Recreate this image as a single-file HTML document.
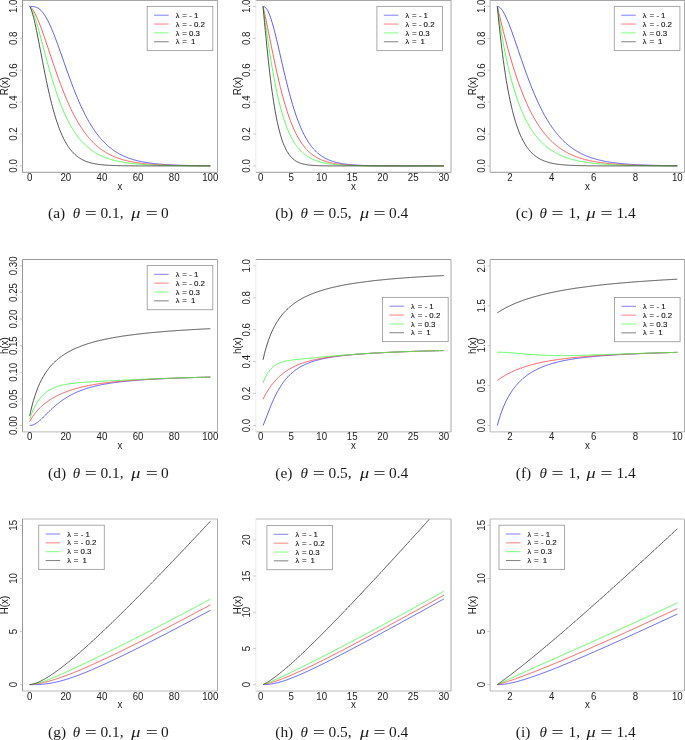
<!DOCTYPE html>
<html><head><meta charset="utf-8"><style>
html,body{margin:0;padding:0;background:#fff;}
body{width:685px;height:740px;overflow:hidden;}
svg{display:block;}
.t{font-family:"Liberation Sans",Arial,sans-serif;font-size:9.7px;fill:#222;}
.lg{font-family:"Liberation Sans",Arial,sans-serif;font-size:7.9px;fill:#111;stroke:#111;stroke-width:0.12px;}
.cap{font-family:"Liberation Serif","Times New Roman",serif;font-size:14px;fill:#1a1a1a;}
</style></head><body>
<svg width="685" height="740" viewBox="0 0 685 740">
<rect width="685" height="740" fill="#fff"/>
<clipPath id="c00"><rect x="22.5" y="0.0" width="195.00" height="172.30"/></clipPath>
<g clip-path="url(#c00)" fill="none" stroke-width="0.9" stroke-linejoin="round">
<polyline points="29.7,6.4 30.5,6.4 31.2,6.4 32.0,6.4 32.7,6.5 33.5,6.6 34.3,6.7 35.0,6.9 35.8,7.1 36.5,7.4 37.3,7.7 38.0,8.1 38.8,8.6 39.5,9.2 40.3,9.8 41.1,10.5 41.8,11.3 42.6,12.2 43.3,13.2 44.1,14.2 44.8,15.4 45.6,16.6 46.3,17.9 47.1,19.2 47.9,20.7 48.6,22.2 49.4,23.7 50.1,25.4 50.9,27.1 51.6,28.8 52.4,30.6 53.1,32.5 53.9,34.4 54.7,36.3 55.4,38.3 56.2,40.3 56.9,42.3 57.7,44.4 58.4,46.5 59.2,48.6 59.9,50.7 60.7,52.8 61.5,55.0 62.2,57.1 63.0,59.3 63.7,61.4 64.5,63.6 65.2,65.7 66.0,67.9 66.7,70.0 67.5,72.1 68.3,74.2 69.0,76.3 69.8,78.3 70.5,80.4 71.3,82.4 72.0,84.4 72.8,86.4 73.5,88.4 74.3,90.3 75.0,92.2 75.8,94.1 76.6,95.9 77.3,97.7 78.1,99.5 78.8,101.3 79.6,103.0 80.3,104.7 81.1,106.3 81.8,108.0 82.6,109.6 83.4,111.1 84.1,112.7 84.9,114.2 85.6,115.6 86.4,117.1 87.1,118.5 87.9,119.8 88.6,121.2 89.4,122.5 90.2,123.8 90.9,125.0 91.7,126.2 92.4,127.4 93.2,128.6 93.9,129.7 94.7,130.8 95.4,131.9 96.2,132.9 97.0,133.9 97.7,134.9 98.5,135.9 99.2,136.8 100.0,137.7 100.7,138.6 101.5,139.5 102.2,140.3 103.0,141.1 103.8,141.9 104.5,142.7 105.3,143.4 106.0,144.1 106.8,144.8 107.5,145.5 108.3,146.2 109.0,146.8 109.8,147.5 110.6,148.1 111.3,148.6 112.1,149.2 112.8,149.8 113.6,150.3 114.3,150.8 115.1,151.3 115.8,151.8 116.6,152.3 117.4,152.7 118.1,153.2 118.9,153.6 119.6,154.0 120.4,154.4 121.1,154.8 121.9,155.2 122.6,155.5 123.4,155.9 124.2,156.2 124.9,156.6 125.7,156.9 126.4,157.2 127.2,157.5 127.9,157.8 128.7,158.1 129.4,158.3 130.2,158.6 131.0,158.9 131.7,159.1 132.5,159.3 133.2,159.6 134.0,159.8 134.7,160.0 135.5,160.2 136.2,160.4 137.0,160.6 137.8,160.8 138.5,161.0 139.3,161.1 140.0,161.3 140.8,161.5 141.5,161.6 142.3,161.8 143.0,161.9 143.8,162.1 144.6,162.2 145.3,162.3 146.1,162.5 146.8,162.6 147.6,162.7 148.3,162.8 149.1,162.9 149.8,163.0 150.6,163.1 151.4,163.2 152.1,163.3 152.9,163.4 153.6,163.5 154.4,163.6 155.1,163.7 155.9,163.8 156.6,163.8 157.4,163.9 158.2,164.0 158.9,164.1 159.7,164.1 160.4,164.2 161.2,164.2 161.9,164.3 162.7,164.4 163.4,164.4 164.2,164.5 165.0,164.5 165.7,164.6 166.5,164.6 167.2,164.7 168.0,164.7 168.7,164.8 169.5,164.8 170.2,164.8 171.0,164.9 171.7,164.9 172.5,165.0 173.3,165.0 174.0,165.0 174.8,165.1 175.5,165.1 176.3,165.1 177.0,165.2 177.8,165.2 178.5,165.2 179.3,165.2 180.1,165.3 180.8,165.3 181.6,165.3 182.3,165.3 183.1,165.3 183.8,165.4 184.6,165.4 185.3,165.4 186.1,165.4 186.9,165.4 187.6,165.5 188.4,165.5 189.1,165.5 189.9,165.5 190.6,165.5 191.4,165.5 192.1,165.6 192.9,165.6 193.7,165.6 194.4,165.6 195.2,165.6 195.9,165.6 196.7,165.6 197.4,165.6 198.2,165.7 198.9,165.7 199.7,165.7 200.5,165.7 201.2,165.7 202.0,165.7 202.7,165.7 203.5,165.7 204.2,165.7 205.0,165.7 205.7,165.7 206.5,165.7 207.3,165.7 208.0,165.8 208.8,165.8 209.5,165.8 210.3,165.8" stroke="#4848ff"/>
<polyline points="29.7,6.4 30.5,7.0 31.2,7.7 32.0,8.6 32.7,9.6 33.5,10.8 34.3,12.1 35.0,13.5 35.8,15.0 36.5,16.6 37.3,18.3 38.0,20.1 38.8,21.9 39.5,23.9 40.3,25.8 41.1,27.8 41.8,29.9 42.6,32.0 43.3,34.1 44.1,36.3 44.8,38.5 45.6,40.7 46.3,42.9 47.1,45.2 47.9,47.4 48.6,49.7 49.4,52.0 50.1,54.2 50.9,56.5 51.6,58.7 52.4,61.0 53.1,63.2 53.9,65.4 54.7,67.6 55.4,69.8 56.2,72.0 56.9,74.1 57.7,76.3 58.4,78.4 59.2,80.5 59.9,82.5 60.7,84.5 61.5,86.5 62.2,88.5 63.0,90.5 63.7,92.4 64.5,94.2 65.2,96.1 66.0,97.9 66.7,99.7 67.5,101.4 68.3,103.2 69.0,104.8 69.8,106.5 70.5,108.1 71.3,109.7 72.0,111.3 72.8,112.8 73.5,114.3 74.3,115.7 75.0,117.1 75.8,118.5 76.6,119.9 77.3,121.2 78.1,122.5 78.8,123.8 79.6,125.0 80.3,126.2 81.1,127.4 81.8,128.5 82.6,129.7 83.4,130.7 84.1,131.8 84.9,132.8 85.6,133.8 86.4,134.8 87.1,135.8 87.9,136.7 88.6,137.6 89.4,138.5 90.2,139.3 90.9,140.2 91.7,141.0 92.4,141.8 93.2,142.5 93.9,143.3 94.7,144.0 95.4,144.7 96.2,145.4 97.0,146.0 97.7,146.6 98.5,147.3 99.2,147.9 100.0,148.5 100.7,149.0 101.5,149.6 102.2,150.1 103.0,150.6 103.8,151.1 104.5,151.6 105.3,152.1 106.0,152.5 106.8,153.0 107.5,153.4 108.3,153.8 109.0,154.2 109.8,154.6 110.6,155.0 111.3,155.4 112.1,155.7 112.8,156.1 113.6,156.4 114.3,156.7 115.1,157.0 115.8,157.3 116.6,157.6 117.4,157.9 118.1,158.2 118.9,158.4 119.6,158.7 120.4,158.9 121.1,159.2 121.9,159.4 122.6,159.6 123.4,159.8 124.2,160.1 124.9,160.3 125.7,160.4 126.4,160.6 127.2,160.8 127.9,161.0 128.7,161.2 129.4,161.3 130.2,161.5 131.0,161.6 131.7,161.8 132.5,161.9 133.2,162.1 134.0,162.2 134.7,162.3 135.5,162.5 136.2,162.6 137.0,162.7 137.8,162.8 138.5,162.9 139.3,163.0 140.0,163.1 140.8,163.2 141.5,163.3 142.3,163.4 143.0,163.5 143.8,163.6 144.6,163.7 145.3,163.8 146.1,163.8 146.8,163.9 147.6,164.0 148.3,164.0 149.1,164.1 149.8,164.2 150.6,164.2 151.4,164.3 152.1,164.4 152.9,164.4 153.6,164.5 154.4,164.5 155.1,164.6 155.9,164.6 156.6,164.7 157.4,164.7 158.2,164.8 158.9,164.8 159.7,164.8 160.4,164.9 161.2,164.9 161.9,165.0 162.7,165.0 163.4,165.0 164.2,165.1 165.0,165.1 165.7,165.1 166.5,165.1 167.2,165.2 168.0,165.2 168.7,165.2 169.5,165.2 170.2,165.3 171.0,165.3 171.7,165.3 172.5,165.3 173.3,165.4 174.0,165.4 174.8,165.4 175.5,165.4 176.3,165.4 177.0,165.5 177.8,165.5 178.5,165.5 179.3,165.5 180.1,165.5 180.8,165.5 181.6,165.6 182.3,165.6 183.1,165.6 183.8,165.6 184.6,165.6 185.3,165.6 186.1,165.6 186.9,165.6 187.6,165.6 188.4,165.7 189.1,165.7 189.9,165.7 190.6,165.7 191.4,165.7 192.1,165.7 192.9,165.7 193.7,165.7 194.4,165.7 195.2,165.7 195.9,165.7 196.7,165.7 197.4,165.8 198.2,165.8 198.9,165.8 199.7,165.8 200.5,165.8 201.2,165.8 202.0,165.8 202.7,165.8 203.5,165.8 204.2,165.8 205.0,165.8 205.7,165.8 206.5,165.8 207.3,165.8 208.0,165.8 208.8,165.8 209.5,165.8 210.3,165.8" stroke="#ff4848"/>
<polyline points="29.7,6.4 30.5,7.3 31.2,8.5 32.0,10.0 32.7,11.6 33.5,13.5 34.3,15.5 35.0,17.7 35.8,20.0 36.5,22.4 37.3,25.0 38.0,27.6 38.8,30.3 39.5,33.0 40.3,35.8 41.1,38.6 41.8,41.5 42.6,44.3 43.3,47.2 44.1,50.1 44.8,52.9 45.6,55.8 46.3,58.6 47.1,61.4 47.9,64.2 48.6,66.9 49.4,69.6 50.1,72.2 50.9,74.9 51.6,77.4 52.4,79.9 53.1,82.4 53.9,84.8 54.7,87.2 55.4,89.5 56.2,91.8 56.9,94.0 57.7,96.2 58.4,98.3 59.2,100.4 59.9,102.4 60.7,104.4 61.5,106.3 62.2,108.1 63.0,109.9 63.7,111.7 64.5,113.4 65.2,115.1 66.0,116.7 66.7,118.3 67.5,119.8 68.3,121.3 69.0,122.7 69.8,124.1 70.5,125.4 71.3,126.8 72.0,128.0 72.8,129.3 73.5,130.5 74.3,131.6 75.0,132.7 75.8,133.8 76.6,134.9 77.3,135.9 78.1,136.9 78.8,137.9 79.6,138.8 80.3,139.7 81.1,140.6 81.8,141.4 82.6,142.2 83.4,143.0 84.1,143.8 84.9,144.5 85.6,145.2 86.4,145.9 87.1,146.6 87.9,147.2 88.6,147.9 89.4,148.5 90.2,149.1 90.9,149.6 91.7,150.2 92.4,150.7 93.2,151.2 93.9,151.7 94.7,152.2 95.4,152.7 96.2,153.1 97.0,153.6 97.7,154.0 98.5,154.4 99.2,154.8 100.0,155.2 100.7,155.5 101.5,155.9 102.2,156.2 103.0,156.6 103.8,156.9 104.5,157.2 105.3,157.5 106.0,157.8 106.8,158.1 107.5,158.3 108.3,158.6 109.0,158.8 109.8,159.1 110.6,159.3 111.3,159.6 112.1,159.8 112.8,160.0 113.6,160.2 114.3,160.4 115.1,160.6 115.8,160.8 116.6,160.9 117.4,161.1 118.1,161.3 118.9,161.4 119.6,161.6 120.4,161.8 121.1,161.9 121.9,162.0 122.6,162.2 123.4,162.3 124.2,162.4 124.9,162.6 125.7,162.7 126.4,162.8 127.2,162.9 127.9,163.0 128.7,163.1 129.4,163.2 130.2,163.3 131.0,163.4 131.7,163.5 132.5,163.6 133.2,163.7 134.0,163.7 134.7,163.8 135.5,163.9 136.2,164.0 137.0,164.0 137.8,164.1 138.5,164.2 139.3,164.2 140.0,164.3 140.8,164.3 141.5,164.4 142.3,164.5 143.0,164.5 143.8,164.6 144.6,164.6 145.3,164.6 146.1,164.7 146.8,164.7 147.6,164.8 148.3,164.8 149.1,164.9 149.8,164.9 150.6,164.9 151.4,165.0 152.1,165.0 152.9,165.0 153.6,165.1 154.4,165.1 155.1,165.1 155.9,165.2 156.6,165.2 157.4,165.2 158.2,165.2 158.9,165.3 159.7,165.3 160.4,165.3 161.2,165.3 161.9,165.4 162.7,165.4 163.4,165.4 164.2,165.4 165.0,165.4 165.7,165.4 166.5,165.5 167.2,165.5 168.0,165.5 168.7,165.5 169.5,165.5 170.2,165.5 171.0,165.6 171.7,165.6 172.5,165.6 173.3,165.6 174.0,165.6 174.8,165.6 175.5,165.6 176.3,165.6 177.0,165.6 177.8,165.7 178.5,165.7 179.3,165.7 180.1,165.7 180.8,165.7 181.6,165.7 182.3,165.7 183.1,165.7 183.8,165.7 184.6,165.7 185.3,165.7 186.1,165.7 186.9,165.8 187.6,165.8 188.4,165.8 189.1,165.8 189.9,165.8 190.6,165.8 191.4,165.8 192.1,165.8 192.9,165.8 193.7,165.8 194.4,165.8 195.2,165.8 195.9,165.8 196.7,165.8 197.4,165.8 198.2,165.8 198.9,165.8 199.7,165.8 200.5,165.8 201.2,165.8 202.0,165.8 202.7,165.8 203.5,165.8 204.2,165.8 205.0,165.9 205.7,165.9 206.5,165.9 207.3,165.9 208.0,165.9 208.8,165.9 209.5,165.9 210.3,165.9" stroke="#48ff48"/>
<polyline points="29.7,6.4 30.5,7.8 31.2,9.7 32.0,11.9 32.7,14.4 33.5,17.2 34.3,20.3 35.0,23.5 35.8,27.0 36.5,30.6 37.3,34.3 38.0,38.1 38.8,41.9 39.5,45.9 40.3,49.8 41.1,53.8 41.8,57.7 42.6,61.6 43.3,65.5 44.1,69.4 44.8,73.1 45.6,76.9 46.3,80.5 47.1,84.1 47.9,87.6 48.6,91.0 49.4,94.3 50.1,97.5 50.9,100.6 51.6,103.6 52.4,106.5 53.1,109.3 53.9,112.0 54.7,114.6 55.4,117.2 56.2,119.6 56.9,121.9 57.7,124.1 58.4,126.2 59.2,128.3 59.9,130.2 60.7,132.1 61.5,133.9 62.2,135.6 63.0,137.2 63.7,138.8 64.5,140.2 65.2,141.6 66.0,143.0 66.7,144.2 67.5,145.5 68.3,146.6 69.0,147.7 69.8,148.7 70.5,149.7 71.3,150.6 72.0,151.5 72.8,152.3 73.5,153.1 74.3,153.9 75.0,154.6 75.8,155.2 76.6,155.9 77.3,156.5 78.1,157.0 78.8,157.6 79.6,158.1 80.3,158.5 81.1,159.0 81.8,159.4 82.6,159.8 83.4,160.2 84.1,160.5 84.9,160.9 85.6,161.2 86.4,161.5 87.1,161.7 87.9,162.0 88.6,162.2 89.4,162.5 90.2,162.7 90.9,162.9 91.7,163.1 92.4,163.3 93.2,163.4 93.9,163.6 94.7,163.7 95.4,163.9 96.2,164.0 97.0,164.1 97.7,164.2 98.5,164.4 99.2,164.5 100.0,164.5 100.7,164.6 101.5,164.7 102.2,164.8 103.0,164.9 103.8,164.9 104.5,165.0 105.3,165.1 106.0,165.1 106.8,165.2 107.5,165.2 108.3,165.3 109.0,165.3 109.8,165.4 110.6,165.4 111.3,165.4 112.1,165.5 112.8,165.5 113.6,165.5 114.3,165.5 115.1,165.6 115.8,165.6 116.6,165.6 117.4,165.6 118.1,165.7 118.9,165.7 119.6,165.7 120.4,165.7 121.1,165.7 121.9,165.7 122.6,165.7 123.4,165.8 124.2,165.8 124.9,165.8 125.7,165.8 126.4,165.8 127.2,165.8 127.9,165.8 128.7,165.8 129.4,165.8 130.2,165.8 131.0,165.8 131.7,165.8 132.5,165.8 133.2,165.9 134.0,165.9 134.7,165.9 135.5,165.9 136.2,165.9 137.0,165.9 137.8,165.9 138.5,165.9 139.3,165.9 140.0,165.9 140.8,165.9 141.5,165.9 142.3,165.9 143.0,165.9 143.8,165.9 144.6,165.9 145.3,165.9 146.1,165.9 146.8,165.9 147.6,165.9 148.3,165.9 149.1,165.9 149.8,165.9 150.6,165.9 151.4,165.9 152.1,165.9 152.9,165.9 153.6,165.9 154.4,165.9 155.1,165.9 155.9,165.9 156.6,165.9 157.4,165.9 158.2,165.9 158.9,165.9 159.7,165.9 160.4,165.9 161.2,165.9 161.9,165.9 162.7,165.9 163.4,165.9 164.2,165.9 165.0,165.9 165.7,165.9 166.5,165.9 167.2,165.9 168.0,165.9 168.7,165.9 169.5,165.9 170.2,165.9 171.0,165.9 171.7,165.9 172.5,165.9 173.3,165.9 174.0,165.9 174.8,165.9 175.5,165.9 176.3,165.9 177.0,165.9 177.8,165.9 178.5,165.9 179.3,165.9 180.1,165.9 180.8,165.9 181.6,165.9 182.3,165.9 183.1,165.9 183.8,165.9 184.6,165.9 185.3,165.9 186.1,165.9 186.9,165.9 187.6,165.9 188.4,165.9 189.1,165.9 189.9,165.9 190.6,165.9 191.4,165.9 192.1,165.9 192.9,165.9 193.7,165.9 194.4,165.9 195.2,165.9 195.9,165.9 196.7,165.9 197.4,165.9 198.2,165.9 198.9,165.9 199.7,165.9 200.5,165.9 201.2,165.9 202.0,165.9 202.7,165.9 203.5,165.9 204.2,165.9 205.0,165.9 205.7,165.9 206.5,165.9 207.3,165.9 208.0,165.9 208.8,165.9 209.5,165.9 210.3,165.9" stroke="#404040"/>
</g>
<path d="M22.5,0.5H217.5" stroke="#a8a8a8" stroke-width="1"/>
<path d="M22.5,172.3H217.5" stroke="#999" stroke-width="1"/>
<path d="M217.5,0.0V172.3" stroke="#aaa" stroke-width="1"/>
<path d="M22.5,0.0V172.3" stroke="#999" stroke-width="1"/>
<line x1="19.90" x2="22.50" y1="165.92" y2="165.92" stroke="#bbb" stroke-width="0.8"/>
<text transform="translate(16.90,165.92) rotate(-90) scale(1,1.04)" text-anchor="middle" class="t">0.0</text>
<line x1="19.90" x2="22.50" y1="134.01" y2="134.01" stroke="#bbb" stroke-width="0.8"/>
<text transform="translate(16.90,134.01) rotate(-90) scale(1,1.04)" text-anchor="middle" class="t">0.2</text>
<line x1="19.90" x2="22.50" y1="102.10" y2="102.10" stroke="#bbb" stroke-width="0.8"/>
<text transform="translate(16.90,102.10) rotate(-90) scale(1,1.04)" text-anchor="middle" class="t">0.4</text>
<line x1="19.90" x2="22.50" y1="70.20" y2="70.20" stroke="#bbb" stroke-width="0.8"/>
<text transform="translate(16.90,70.20) rotate(-90) scale(1,1.04)" text-anchor="middle" class="t">0.6</text>
<line x1="19.90" x2="22.50" y1="38.29" y2="38.29" stroke="#bbb" stroke-width="0.8"/>
<text transform="translate(16.90,38.29) rotate(-90) scale(1,1.04)" text-anchor="middle" class="t">0.8</text>
<line x1="19.90" x2="22.50" y1="6.38" y2="6.38" stroke="#bbb" stroke-width="0.8"/>
<text transform="translate(16.90,6.38) rotate(-90) scale(1,1.04)" text-anchor="middle" class="t">1.0</text>
<line x1="29.72" x2="29.72" y1="172.30" y2="173.80" stroke="#ccc" stroke-width="0.8"/>
<text transform="translate(29.72,180.80) scale(1,1.04)" text-anchor="middle" class="t">0</text>
<line x1="65.83" x2="65.83" y1="172.30" y2="173.80" stroke="#ccc" stroke-width="0.8"/>
<text transform="translate(65.83,180.80) scale(1,1.04)" text-anchor="middle" class="t">20</text>
<line x1="101.94" x2="101.94" y1="172.30" y2="173.80" stroke="#ccc" stroke-width="0.8"/>
<text transform="translate(101.94,180.80) scale(1,1.04)" text-anchor="middle" class="t">40</text>
<line x1="138.06" x2="138.06" y1="172.30" y2="173.80" stroke="#ccc" stroke-width="0.8"/>
<text transform="translate(138.06,180.80) scale(1,1.04)" text-anchor="middle" class="t">60</text>
<line x1="174.17" x2="174.17" y1="172.30" y2="173.80" stroke="#ccc" stroke-width="0.8"/>
<text transform="translate(174.17,180.80) scale(1,1.04)" text-anchor="middle" class="t">80</text>
<line x1="210.28" x2="210.28" y1="172.30" y2="173.80" stroke="#ccc" stroke-width="0.8"/>
<text transform="translate(210.28,180.80) scale(1,1.04)" text-anchor="middle" class="t">100</text>
<text transform="translate(120.00,189.50) scale(1,1.04)" text-anchor="middle" class="t">x</text>
<text transform="translate(7.90,86.15) rotate(-90) scale(1,1.04)" text-anchor="middle" class="t" font-size="9.2px">R(x)</text>
<rect x="147.2" y="6.4" width="65.6" height="44.2" fill="#fff" stroke="#a0a0a0" stroke-width="0.9"/>
<line x1="154.10" x2="168.70" y1="15.20" y2="15.20" stroke="#8080ff" stroke-width="1"/>
<text y="17.80" class="lg"><tspan x="175.70" font-size="7.3px">λ</tspan><tspan x="182.30">=</tspan><tspan x="189.30">-</tspan><tspan x="193.90">1</tspan></text>
<line x1="154.10" x2="168.70" y1="24.05" y2="24.05" stroke="#ff8080" stroke-width="1"/>
<text y="26.65" class="lg"><tspan x="175.70" font-size="7.3px">λ</tspan><tspan x="182.30">=</tspan><tspan x="189.30">-</tspan><tspan x="193.90">0.2</tspan></text>
<line x1="154.10" x2="168.70" y1="32.90" y2="32.90" stroke="#80ff80" stroke-width="1"/>
<text y="35.50" class="lg"><tspan x="175.70" font-size="7.3px">λ</tspan><tspan x="182.30">=</tspan><tspan x="189.00">0.3</tspan></text>
<line x1="154.10" x2="168.70" y1="41.75" y2="41.75" stroke="#808080" stroke-width="1"/>
<text y="44.35" class="lg"><tspan x="175.70" font-size="7.3px">λ</tspan><tspan x="182.30">=</tspan><tspan x="190.90">1</tspan></text>
<text transform="translate(48.10,218.00) scale(1.1,1)" class="cap">(a)</text>
<text transform="translate(72.80,218.00) scale(1.08,1)" class="cap" font-style="italic">θ</text>
<text transform="translate(85.10,218.00) scale(1.45,1)" class="cap" stroke="#1a1a1a" stroke-width="0.25">=</text>
<text transform="translate(100.40,218.00) scale(1.1,1)" class="cap">0.1,</text>
<text transform="translate(131.30,218.00) scale(1.3,1)" class="cap" font-style="italic">μ</text>
<text transform="translate(145.90,218.00) scale(1.45,1)" class="cap" stroke="#1a1a1a" stroke-width="0.25">=</text>
<text transform="translate(161.00,218.00) scale(1.1,1)" class="cap">0</text>
<clipPath id="c01"><rect x="255.8" y="0.0" width="195.20" height="172.30"/></clipPath>
<g clip-path="url(#c01)" fill="none" stroke-width="0.9" stroke-linejoin="round">
<polyline points="263.0,6.4 263.8,6.5 264.5,6.8 265.3,7.4 266.1,8.2 266.8,9.2 267.6,10.4 268.3,11.9 269.1,13.6 269.8,15.5 270.6,17.6 271.3,19.9 272.1,22.4 272.9,25.0 273.6,27.7 274.4,30.5 275.1,33.5 275.9,36.6 276.6,39.7 277.4,42.9 278.2,46.1 278.9,49.4 279.7,52.7 280.4,56.0 281.2,59.3 281.9,62.6 282.7,65.9 283.4,69.2 284.2,72.4 285.0,75.6 285.7,78.7 286.5,81.8 287.2,84.9 288.0,87.9 288.7,90.8 289.5,93.6 290.3,96.4 291.0,99.1 291.8,101.8 292.5,104.4 293.3,106.9 294.0,109.3 294.8,111.6 295.5,113.9 296.3,116.1 297.1,118.2 297.8,120.3 298.6,122.3 299.3,124.2 300.1,126.0 300.8,127.8 301.6,129.5 302.4,131.2 303.1,132.7 303.9,134.3 304.6,135.7 305.4,137.1 306.1,138.4 306.9,139.7 307.6,141.0 308.4,142.1 309.2,143.3 309.9,144.3 310.7,145.4 311.4,146.4 312.2,147.3 312.9,148.2 313.7,149.1 314.5,149.9 315.2,150.7 316.0,151.4 316.7,152.1 317.5,152.8 318.2,153.5 319.0,154.1 319.7,154.7 320.5,155.2 321.3,155.8 322.0,156.3 322.8,156.8 323.5,157.2 324.3,157.7 325.0,158.1 325.8,158.5 326.6,158.9 327.3,159.2 328.1,159.6 328.8,159.9 329.6,160.2 330.3,160.5 331.1,160.8 331.8,161.0 332.6,161.3 333.4,161.5 334.1,161.8 334.9,162.0 335.6,162.2 336.4,162.4 337.1,162.6 337.9,162.7 338.7,162.9 339.4,163.1 340.2,163.2 340.9,163.4 341.7,163.5 342.4,163.6 343.2,163.7 343.9,163.9 344.7,164.0 345.5,164.1 346.2,164.2 347.0,164.3 347.7,164.3 348.5,164.4 349.2,164.5 350.0,164.6 350.8,164.7 351.5,164.7 352.3,164.8 353.0,164.8 353.8,164.9 354.5,165.0 355.3,165.0 356.0,165.1 356.8,165.1 357.6,165.1 358.3,165.2 359.1,165.2 359.8,165.3 360.6,165.3 361.3,165.3 362.1,165.4 362.9,165.4 363.6,165.4 364.4,165.5 365.1,165.5 365.9,165.5 366.6,165.5 367.4,165.5 368.1,165.6 368.9,165.6 369.7,165.6 370.4,165.6 371.2,165.6 371.9,165.7 372.7,165.7 373.4,165.7 374.2,165.7 375.0,165.7 375.7,165.7 376.5,165.7 377.2,165.7 378.0,165.7 378.7,165.8 379.5,165.8 380.2,165.8 381.0,165.8 381.8,165.8 382.5,165.8 383.3,165.8 384.0,165.8 384.8,165.8 385.5,165.8 386.3,165.8 387.1,165.8 387.8,165.8 388.6,165.8 389.3,165.8 390.1,165.8 390.8,165.9 391.6,165.9 392.3,165.9 393.1,165.9 393.9,165.9 394.6,165.9 395.4,165.9 396.1,165.9 396.9,165.9 397.6,165.9 398.4,165.9 399.2,165.9 399.9,165.9 400.7,165.9 401.4,165.9 402.2,165.9 402.9,165.9 403.7,165.9 404.4,165.9 405.2,165.9 406.0,165.9 406.7,165.9 407.5,165.9 408.2,165.9 409.0,165.9 409.7,165.9 410.5,165.9 411.3,165.9 412.0,165.9 412.8,165.9 413.5,165.9 414.3,165.9 415.0,165.9 415.8,165.9 416.5,165.9 417.3,165.9 418.1,165.9 418.8,165.9 419.6,165.9 420.3,165.9 421.1,165.9 421.8,165.9 422.6,165.9 423.4,165.9 424.1,165.9 424.9,165.9 425.6,165.9 426.4,165.9 427.1,165.9 427.9,165.9 428.6,165.9 429.4,165.9 430.2,165.9 430.9,165.9 431.7,165.9 432.4,165.9 433.2,165.9 433.9,165.9 434.7,165.9 435.5,165.9 436.2,165.9 437.0,165.9 437.7,165.9 438.5,165.9 439.2,165.9 440.0,165.9 440.7,165.9 441.5,165.9 442.3,165.9 443.0,165.9 443.8,165.9" stroke="#4848ff"/>
<polyline points="263.0,6.4 263.8,9.7 264.5,13.1 265.3,16.6 266.1,20.2 266.8,23.9 267.6,27.6 268.3,31.3 269.1,35.0 269.8,38.8 270.6,42.5 271.3,46.3 272.1,50.0 272.9,53.6 273.6,57.3 274.4,60.9 275.1,64.4 275.9,67.9 276.6,71.4 277.4,74.7 278.2,78.0 278.9,81.2 279.7,84.4 280.4,87.5 281.2,90.5 281.9,93.4 282.7,96.2 283.4,99.0 284.2,101.7 285.0,104.3 285.7,106.8 286.5,109.2 287.2,111.6 288.0,113.9 288.7,116.1 289.5,118.2 290.3,120.3 291.0,122.3 291.8,124.2 292.5,126.0 293.3,127.8 294.0,129.5 294.8,131.1 295.5,132.7 296.3,134.2 297.1,135.6 297.8,137.0 298.6,138.3 299.3,139.6 300.1,140.8 300.8,142.0 301.6,143.1 302.4,144.2 303.1,145.2 303.9,146.2 304.6,147.2 305.4,148.1 306.1,148.9 306.9,149.7 307.6,150.5 308.4,151.3 309.2,152.0 309.9,152.7 310.7,153.3 311.4,153.9 312.2,154.5 312.9,155.1 313.7,155.6 314.5,156.1 315.2,156.6 316.0,157.1 316.7,157.5 317.5,157.9 318.2,158.3 319.0,158.7 319.7,159.1 320.5,159.4 321.3,159.8 322.0,160.1 322.8,160.4 323.5,160.7 324.3,160.9 325.0,161.2 325.8,161.4 326.6,161.7 327.3,161.9 328.1,162.1 328.8,162.3 329.6,162.5 330.3,162.6 331.1,162.8 331.8,163.0 332.6,163.1 333.4,163.3 334.1,163.4 334.9,163.5 335.6,163.7 336.4,163.8 337.1,163.9 337.9,164.0 338.7,164.1 339.4,164.2 340.2,164.3 340.9,164.4 341.7,164.5 342.4,164.5 343.2,164.6 343.9,164.7 344.7,164.7 345.5,164.8 346.2,164.9 347.0,164.9 347.7,165.0 348.5,165.0 349.2,165.1 350.0,165.1 350.8,165.2 351.5,165.2 352.3,165.2 353.0,165.3 353.8,165.3 354.5,165.3 355.3,165.4 356.0,165.4 356.8,165.4 357.6,165.5 358.3,165.5 359.1,165.5 359.8,165.5 360.6,165.5 361.3,165.6 362.1,165.6 362.9,165.6 363.6,165.6 364.4,165.6 365.1,165.7 365.9,165.7 366.6,165.7 367.4,165.7 368.1,165.7 368.9,165.7 369.7,165.7 370.4,165.7 371.2,165.7 371.9,165.8 372.7,165.8 373.4,165.8 374.2,165.8 375.0,165.8 375.7,165.8 376.5,165.8 377.2,165.8 378.0,165.8 378.7,165.8 379.5,165.8 380.2,165.8 381.0,165.8 381.8,165.8 382.5,165.8 383.3,165.8 384.0,165.9 384.8,165.9 385.5,165.9 386.3,165.9 387.1,165.9 387.8,165.9 388.6,165.9 389.3,165.9 390.1,165.9 390.8,165.9 391.6,165.9 392.3,165.9 393.1,165.9 393.9,165.9 394.6,165.9 395.4,165.9 396.1,165.9 396.9,165.9 397.6,165.9 398.4,165.9 399.2,165.9 399.9,165.9 400.7,165.9 401.4,165.9 402.2,165.9 402.9,165.9 403.7,165.9 404.4,165.9 405.2,165.9 406.0,165.9 406.7,165.9 407.5,165.9 408.2,165.9 409.0,165.9 409.7,165.9 410.5,165.9 411.3,165.9 412.0,165.9 412.8,165.9 413.5,165.9 414.3,165.9 415.0,165.9 415.8,165.9 416.5,165.9 417.3,165.9 418.1,165.9 418.8,165.9 419.6,165.9 420.3,165.9 421.1,165.9 421.8,165.9 422.6,165.9 423.4,165.9 424.1,165.9 424.9,165.9 425.6,165.9 426.4,165.9 427.1,165.9 427.9,165.9 428.6,165.9 429.4,165.9 430.2,165.9 430.9,165.9 431.7,165.9 432.4,165.9 433.2,165.9 433.9,165.9 434.7,165.9 435.5,165.9 436.2,165.9 437.0,165.9 437.7,165.9 438.5,165.9 439.2,165.9 440.0,165.9 440.7,165.9 441.5,165.9 442.3,165.9 443.0,165.9 443.8,165.9" stroke="#ff4848"/>
<polyline points="263.0,6.4 263.8,11.7 264.5,17.1 265.3,22.4 266.1,27.8 266.8,33.0 267.6,38.3 268.3,43.4 269.1,48.4 269.8,53.3 270.6,58.1 271.3,62.7 272.1,67.2 272.9,71.6 273.6,75.8 274.4,79.8 275.1,83.8 275.9,87.5 276.6,91.1 277.4,94.6 278.2,98.0 278.9,101.2 279.7,104.2 280.4,107.2 281.2,110.0 281.9,112.6 282.7,115.2 283.4,117.7 284.2,120.0 285.0,122.2 285.7,124.4 286.5,126.4 287.2,128.3 288.0,130.2 288.7,131.9 289.5,133.6 290.3,135.2 291.0,136.7 291.8,138.1 292.5,139.5 293.3,140.8 294.0,142.1 294.8,143.3 295.5,144.4 296.3,145.5 297.1,146.5 297.8,147.5 298.6,148.4 299.3,149.3 300.1,150.1 300.8,150.9 301.6,151.6 302.4,152.4 303.1,153.0 303.9,153.7 304.6,154.3 305.4,154.9 306.1,155.5 306.9,156.0 307.6,156.5 308.4,157.0 309.2,157.4 309.9,157.9 310.7,158.3 311.4,158.7 312.2,159.0 312.9,159.4 313.7,159.7 314.5,160.0 315.2,160.3 316.0,160.6 316.7,160.9 317.5,161.1 318.2,161.4 319.0,161.6 319.7,161.8 320.5,162.1 321.3,162.3 322.0,162.4 322.8,162.6 323.5,162.8 324.3,163.0 325.0,163.1 325.8,163.3 326.6,163.4 327.3,163.5 328.1,163.7 328.8,163.8 329.6,163.9 330.3,164.0 331.1,164.1 331.8,164.2 332.6,164.3 333.4,164.4 334.1,164.4 334.9,164.5 335.6,164.6 336.4,164.7 337.1,164.7 337.9,164.8 338.7,164.9 339.4,164.9 340.2,165.0 340.9,165.0 341.7,165.1 342.4,165.1 343.2,165.2 343.9,165.2 344.7,165.2 345.5,165.3 346.2,165.3 347.0,165.3 347.7,165.4 348.5,165.4 349.2,165.4 350.0,165.4 350.8,165.5 351.5,165.5 352.3,165.5 353.0,165.5 353.8,165.6 354.5,165.6 355.3,165.6 356.0,165.6 356.8,165.6 357.6,165.6 358.3,165.7 359.1,165.7 359.8,165.7 360.6,165.7 361.3,165.7 362.1,165.7 362.9,165.7 363.6,165.7 364.4,165.8 365.1,165.8 365.9,165.8 366.6,165.8 367.4,165.8 368.1,165.8 368.9,165.8 369.7,165.8 370.4,165.8 371.2,165.8 371.9,165.8 372.7,165.8 373.4,165.8 374.2,165.8 375.0,165.8 375.7,165.8 376.5,165.9 377.2,165.9 378.0,165.9 378.7,165.9 379.5,165.9 380.2,165.9 381.0,165.9 381.8,165.9 382.5,165.9 383.3,165.9 384.0,165.9 384.8,165.9 385.5,165.9 386.3,165.9 387.1,165.9 387.8,165.9 388.6,165.9 389.3,165.9 390.1,165.9 390.8,165.9 391.6,165.9 392.3,165.9 393.1,165.9 393.9,165.9 394.6,165.9 395.4,165.9 396.1,165.9 396.9,165.9 397.6,165.9 398.4,165.9 399.2,165.9 399.9,165.9 400.7,165.9 401.4,165.9 402.2,165.9 402.9,165.9 403.7,165.9 404.4,165.9 405.2,165.9 406.0,165.9 406.7,165.9 407.5,165.9 408.2,165.9 409.0,165.9 409.7,165.9 410.5,165.9 411.3,165.9 412.0,165.9 412.8,165.9 413.5,165.9 414.3,165.9 415.0,165.9 415.8,165.9 416.5,165.9 417.3,165.9 418.1,165.9 418.8,165.9 419.6,165.9 420.3,165.9 421.1,165.9 421.8,165.9 422.6,165.9 423.4,165.9 424.1,165.9 424.9,165.9 425.6,165.9 426.4,165.9 427.1,165.9 427.9,165.9 428.6,165.9 429.4,165.9 430.2,165.9 430.9,165.9 431.7,165.9 432.4,165.9 433.2,165.9 433.9,165.9 434.7,165.9 435.5,165.9 436.2,165.9 437.0,165.9 437.7,165.9 438.5,165.9 439.2,165.9 440.0,165.9 440.7,165.9 441.5,165.9 442.3,165.9 443.0,165.9 443.8,165.9" stroke="#48ff48"/>
<polyline points="263.0,6.4 263.8,14.5 264.5,22.6 265.3,30.5 266.1,38.3 266.8,45.9 267.6,53.2 268.3,60.3 269.1,67.1 269.8,73.6 270.6,79.9 271.3,85.8 272.1,91.4 272.9,96.7 273.6,101.7 274.4,106.4 275.1,110.8 275.9,115.0 276.6,118.9 277.4,122.5 278.2,125.9 278.9,129.0 279.7,132.0 280.4,134.7 281.2,137.2 281.9,139.6 282.7,141.8 283.4,143.8 284.2,145.6 285.0,147.3 285.7,148.9 286.5,150.4 287.2,151.7 288.0,152.9 288.7,154.1 289.5,155.1 290.3,156.0 291.0,156.9 291.8,157.7 292.5,158.5 293.3,159.1 294.0,159.7 294.8,160.3 295.5,160.8 296.3,161.3 297.1,161.7 297.8,162.1 298.6,162.4 299.3,162.8 300.1,163.1 300.8,163.3 301.6,163.6 302.4,163.8 303.1,164.0 303.9,164.2 304.6,164.3 305.4,164.5 306.1,164.6 306.9,164.7 307.6,164.9 308.4,165.0 309.2,165.1 309.9,165.1 310.7,165.2 311.4,165.3 312.2,165.3 312.9,165.4 313.7,165.4 314.5,165.5 315.2,165.5 316.0,165.6 316.7,165.6 317.5,165.6 318.2,165.7 319.0,165.7 319.7,165.7 320.5,165.7 321.3,165.8 322.0,165.8 322.8,165.8 323.5,165.8 324.3,165.8 325.0,165.8 325.8,165.8 326.6,165.8 327.3,165.8 328.1,165.9 328.8,165.9 329.6,165.9 330.3,165.9 331.1,165.9 331.8,165.9 332.6,165.9 333.4,165.9 334.1,165.9 334.9,165.9 335.6,165.9 336.4,165.9 337.1,165.9 337.9,165.9 338.7,165.9 339.4,165.9 340.2,165.9 340.9,165.9 341.7,165.9 342.4,165.9 343.2,165.9 343.9,165.9 344.7,165.9 345.5,165.9 346.2,165.9 347.0,165.9 347.7,165.9 348.5,165.9 349.2,165.9 350.0,165.9 350.8,165.9 351.5,165.9 352.3,165.9 353.0,165.9 353.8,165.9 354.5,165.9 355.3,165.9 356.0,165.9 356.8,165.9 357.6,165.9 358.3,165.9 359.1,165.9 359.8,165.9 360.6,165.9 361.3,165.9 362.1,165.9 362.9,165.9 363.6,165.9 364.4,165.9 365.1,165.9 365.9,165.9 366.6,165.9 367.4,165.9 368.1,165.9 368.9,165.9 369.7,165.9 370.4,165.9 371.2,165.9 371.9,165.9 372.7,165.9 373.4,165.9 374.2,165.9 375.0,165.9 375.7,165.9 376.5,165.9 377.2,165.9 378.0,165.9 378.7,165.9 379.5,165.9 380.2,165.9 381.0,165.9 381.8,165.9 382.5,165.9 383.3,165.9 384.0,165.9 384.8,165.9 385.5,165.9 386.3,165.9 387.1,165.9 387.8,165.9 388.6,165.9 389.3,165.9 390.1,165.9 390.8,165.9 391.6,165.9 392.3,165.9 393.1,165.9 393.9,165.9 394.6,165.9 395.4,165.9 396.1,165.9 396.9,165.9 397.6,165.9 398.4,165.9 399.2,165.9 399.9,165.9 400.7,165.9 401.4,165.9 402.2,165.9 402.9,165.9 403.7,165.9 404.4,165.9 405.2,165.9 406.0,165.9 406.7,165.9 407.5,165.9 408.2,165.9 409.0,165.9 409.7,165.9 410.5,165.9 411.3,165.9 412.0,165.9 412.8,165.9 413.5,165.9 414.3,165.9 415.0,165.9 415.8,165.9 416.5,165.9 417.3,165.9 418.1,165.9 418.8,165.9 419.6,165.9 420.3,165.9 421.1,165.9 421.8,165.9 422.6,165.9 423.4,165.9 424.1,165.9 424.9,165.9 425.6,165.9 426.4,165.9 427.1,165.9 427.9,165.9 428.6,165.9 429.4,165.9 430.2,165.9 430.9,165.9 431.7,165.9 432.4,165.9 433.2,165.9 433.9,165.9 434.7,165.9 435.5,165.9 436.2,165.9 437.0,165.9 437.7,165.9 438.5,165.9 439.2,165.9 440.0,165.9 440.7,165.9 441.5,165.9 442.3,165.9 443.0,165.9 443.8,165.9" stroke="#404040"/>
</g>
<path d="M255.8,0.5H451.0" stroke="#a8a8a8" stroke-width="1"/>
<path d="M255.8,172.3H451.0" stroke="#999" stroke-width="1"/>
<path d="M451.0,0.0V172.3" stroke="#aaa" stroke-width="1"/>
<path d="M255.8,0.0V172.3" stroke="#ececec" stroke-width="1"/>
<line x1="253.20" x2="255.80" y1="165.92" y2="165.92" stroke="#bbb" stroke-width="0.8"/>
<text transform="translate(250.20,165.92) rotate(-90) scale(1,1.04)" text-anchor="middle" class="t">0.0</text>
<line x1="253.20" x2="255.80" y1="134.01" y2="134.01" stroke="#bbb" stroke-width="0.8"/>
<text transform="translate(250.20,134.01) rotate(-90) scale(1,1.04)" text-anchor="middle" class="t">0.2</text>
<line x1="253.20" x2="255.80" y1="102.10" y2="102.10" stroke="#bbb" stroke-width="0.8"/>
<text transform="translate(250.20,102.10) rotate(-90) scale(1,1.04)" text-anchor="middle" class="t">0.4</text>
<line x1="253.20" x2="255.80" y1="70.20" y2="70.20" stroke="#bbb" stroke-width="0.8"/>
<text transform="translate(250.20,70.20) rotate(-90) scale(1,1.04)" text-anchor="middle" class="t">0.6</text>
<line x1="253.20" x2="255.80" y1="38.29" y2="38.29" stroke="#bbb" stroke-width="0.8"/>
<text transform="translate(250.20,38.29) rotate(-90) scale(1,1.04)" text-anchor="middle" class="t">0.8</text>
<line x1="253.20" x2="255.80" y1="6.38" y2="6.38" stroke="#bbb" stroke-width="0.8"/>
<text transform="translate(250.20,6.38) rotate(-90) scale(1,1.04)" text-anchor="middle" class="t">1.0</text>
<line x1="260.59" x2="260.59" y1="172.30" y2="173.80" stroke="#ccc" stroke-width="0.8"/>
<text transform="translate(260.59,180.80) scale(1,1.04)" text-anchor="middle" class="t">0</text>
<line x1="291.12" x2="291.12" y1="172.30" y2="173.80" stroke="#ccc" stroke-width="0.8"/>
<text transform="translate(291.12,180.80) scale(1,1.04)" text-anchor="middle" class="t">5</text>
<line x1="321.65" x2="321.65" y1="172.30" y2="173.80" stroke="#ccc" stroke-width="0.8"/>
<text transform="translate(321.65,180.80) scale(1,1.04)" text-anchor="middle" class="t">10</text>
<line x1="352.18" x2="352.18" y1="172.30" y2="173.80" stroke="#ccc" stroke-width="0.8"/>
<text transform="translate(352.18,180.80) scale(1,1.04)" text-anchor="middle" class="t">15</text>
<line x1="382.71" x2="382.71" y1="172.30" y2="173.80" stroke="#ccc" stroke-width="0.8"/>
<text transform="translate(382.71,180.80) scale(1,1.04)" text-anchor="middle" class="t">20</text>
<line x1="413.24" x2="413.24" y1="172.30" y2="173.80" stroke="#ccc" stroke-width="0.8"/>
<text transform="translate(413.24,180.80) scale(1,1.04)" text-anchor="middle" class="t">25</text>
<line x1="443.77" x2="443.77" y1="172.30" y2="173.80" stroke="#ccc" stroke-width="0.8"/>
<text transform="translate(443.77,180.80) scale(1,1.04)" text-anchor="middle" class="t">30</text>
<text transform="translate(353.40,189.50) scale(1,1.04)" text-anchor="middle" class="t">x</text>
<text transform="translate(241.20,86.15) rotate(-90) scale(1,1.04)" text-anchor="middle" class="t" font-size="9.2px">R(x)</text>
<rect x="376.9" y="6.4" width="65.6" height="44.2" fill="#fff" stroke="#a0a0a0" stroke-width="0.9"/>
<line x1="383.80" x2="398.40" y1="15.20" y2="15.20" stroke="#8080ff" stroke-width="1"/>
<text y="17.80" class="lg"><tspan x="405.40" font-size="7.3px">λ</tspan><tspan x="412.00">=</tspan><tspan x="419.00">-</tspan><tspan x="423.60">1</tspan></text>
<line x1="383.80" x2="398.40" y1="24.05" y2="24.05" stroke="#ff8080" stroke-width="1"/>
<text y="26.65" class="lg"><tspan x="405.40" font-size="7.3px">λ</tspan><tspan x="412.00">=</tspan><tspan x="419.00">-</tspan><tspan x="423.60">0.2</tspan></text>
<line x1="383.80" x2="398.40" y1="32.90" y2="32.90" stroke="#80ff80" stroke-width="1"/>
<text y="35.50" class="lg"><tspan x="405.40" font-size="7.3px">λ</tspan><tspan x="412.00">=</tspan><tspan x="418.70">0.3</tspan></text>
<line x1="383.80" x2="398.40" y1="41.75" y2="41.75" stroke="#808080" stroke-width="1"/>
<text y="44.35" class="lg"><tspan x="405.40" font-size="7.3px">λ</tspan><tspan x="412.00">=</tspan><tspan x="420.60">1</tspan></text>
<text transform="translate(275.30,218.00) scale(1.1,1)" class="cap">(b)</text>
<text transform="translate(300.40,218.00) scale(1.08,1)" class="cap" font-style="italic">θ</text>
<text transform="translate(313.10,218.00) scale(1.45,1)" class="cap" stroke="#1a1a1a" stroke-width="0.25">=</text>
<text transform="translate(328.50,218.00) scale(1.1,1)" class="cap">0.5,</text>
<text transform="translate(359.90,218.00) scale(1.3,1)" class="cap" font-style="italic">μ</text>
<text transform="translate(373.80,218.00) scale(1.45,1)" class="cap" stroke="#1a1a1a" stroke-width="0.25">=</text>
<text transform="translate(389.00,218.00) scale(1.1,1)" class="cap">0.4</text>
<clipPath id="c02"><rect x="490.1" y="0.0" width="194.40" height="172.30"/></clipPath>
<g clip-path="url(#c02)" fill="none" stroke-width="0.9" stroke-linejoin="round">
<polyline points="497.3,6.4 498.1,6.5 498.8,6.8 499.6,7.3 500.3,7.9 501.1,8.7 501.8,9.6 502.6,10.7 503.3,11.9 504.1,13.3 504.8,14.7 505.6,16.2 506.3,17.9 507.1,19.6 507.8,21.3 508.6,23.2 509.4,25.1 510.1,27.1 510.9,29.1 511.6,31.1 512.4,33.2 513.1,35.3 513.9,37.5 514.6,39.6 515.4,41.8 516.1,44.0 516.9,46.2 517.6,48.4 518.4,50.6 519.1,52.8 519.9,55.1 520.6,57.3 521.4,59.4 522.2,61.6 522.9,63.8 523.7,65.9 524.4,68.1 525.2,70.2 525.9,72.3 526.7,74.4 527.4,76.4 528.2,78.4 528.9,80.4 529.7,82.4 530.4,84.4 531.2,86.3 531.9,88.2 532.7,90.0 533.5,91.8 534.2,93.6 535.0,95.4 535.7,97.1 536.5,98.9 537.2,100.5 538.0,102.2 538.7,103.8 539.5,105.4 540.2,106.9 541.0,108.4 541.7,109.9 542.5,111.4 543.2,112.8 544.0,114.2 544.7,115.6 545.5,116.9 546.3,118.2 547.0,119.5 547.8,120.7 548.5,122.0 549.3,123.1 550.0,124.3 550.8,125.4 551.5,126.6 552.3,127.6 553.0,128.7 553.8,129.7 554.5,130.7 555.3,131.7 556.0,132.7 556.8,133.6 557.6,134.5 558.3,135.4 559.1,136.3 559.8,137.1 560.6,137.9 561.3,138.7 562.1,139.5 562.8,140.3 563.6,141.0 564.3,141.7 565.1,142.4 565.8,143.1 566.6,143.8 567.3,144.4 568.1,145.0 568.8,145.6 569.6,146.2 570.4,146.8 571.1,147.4 571.9,147.9 572.6,148.4 573.4,149.0 574.1,149.5 574.9,150.0 575.6,150.4 576.4,150.9 577.1,151.3 577.9,151.8 578.6,152.2 579.4,152.6 580.1,153.0 580.9,153.4 581.7,153.8 582.4,154.1 583.2,154.5 583.9,154.8 584.7,155.2 585.4,155.5 586.2,155.8 586.9,156.1 587.7,156.4 588.4,156.7 589.2,157.0 589.9,157.3 590.7,157.5 591.4,157.8 592.2,158.0 592.9,158.3 593.7,158.5 594.5,158.7 595.2,158.9 596.0,159.2 596.7,159.4 597.5,159.6 598.2,159.8 599.0,160.0 599.7,160.1 600.5,160.3 601.2,160.5 602.0,160.7 602.7,160.8 603.5,161.0 604.2,161.1 605.0,161.3 605.8,161.4 606.5,161.6 607.3,161.7 608.0,161.8 608.8,162.0 609.5,162.1 610.3,162.2 611.0,162.3 611.8,162.4 612.5,162.5 613.3,162.6 614.0,162.7 614.8,162.8 615.5,162.9 616.3,163.0 617.0,163.1 617.8,163.2 618.6,163.3 619.3,163.4 620.1,163.5 620.8,163.5 621.6,163.6 622.3,163.7 623.1,163.8 623.8,163.8 624.6,163.9 625.3,164.0 626.1,164.0 626.8,164.1 627.6,164.1 628.3,164.2 629.1,164.2 629.9,164.3 630.6,164.4 631.4,164.4 632.1,164.4 632.9,164.5 633.6,164.5 634.4,164.6 635.1,164.6 635.9,164.7 636.6,164.7 637.4,164.7 638.1,164.8 638.9,164.8 639.6,164.9 640.4,164.9 641.1,164.9 641.9,165.0 642.7,165.0 643.4,165.0 644.2,165.0 644.9,165.1 645.7,165.1 646.4,165.1 647.2,165.1 647.9,165.2 648.7,165.2 649.4,165.2 650.2,165.2 650.9,165.3 651.7,165.3 652.4,165.3 653.2,165.3 654.0,165.3 654.7,165.4 655.5,165.4 656.2,165.4 657.0,165.4 657.7,165.4 658.5,165.4 659.2,165.5 660.0,165.5 660.7,165.5 661.5,165.5 662.2,165.5 663.0,165.5 663.7,165.5 664.5,165.6 665.2,165.6 666.0,165.6 666.8,165.6 667.5,165.6 668.3,165.6 669.0,165.6 669.8,165.6 670.5,165.6 671.3,165.6 672.0,165.7 672.8,165.7 673.5,165.7 674.3,165.7 675.0,165.7 675.8,165.7 676.5,165.7 677.3,165.7" stroke="#4848ff"/>
<polyline points="497.3,6.4 498.1,9.6 498.8,12.8 499.6,16.0 500.3,19.1 501.1,22.2 501.8,25.3 502.6,28.3 503.3,31.3 504.1,34.3 504.8,37.2 505.6,40.1 506.3,42.9 507.1,45.7 507.8,48.5 508.6,51.2 509.4,53.8 510.1,56.5 510.9,59.0 511.6,61.6 512.4,64.1 513.1,66.5 513.9,68.9 514.6,71.3 515.4,73.6 516.1,75.9 516.9,78.1 517.6,80.3 518.4,82.5 519.1,84.6 519.9,86.6 520.6,88.6 521.4,90.6 522.2,92.5 522.9,94.4 523.7,96.3 524.4,98.1 525.2,99.9 525.9,101.6 526.7,103.3 527.4,104.9 528.2,106.6 528.9,108.1 529.7,109.7 530.4,111.2 531.2,112.7 531.9,114.1 532.7,115.5 533.5,116.9 534.2,118.2 535.0,119.5 535.7,120.8 536.5,122.0 537.2,123.3 538.0,124.4 538.7,125.6 539.5,126.7 540.2,127.8 541.0,128.9 541.7,129.9 542.5,130.9 543.2,131.9 544.0,132.9 544.7,133.8 545.5,134.7 546.3,135.6 547.0,136.5 547.8,137.3 548.5,138.1 549.3,138.9 550.0,139.7 550.8,140.5 551.5,141.2 552.3,141.9 553.0,142.6 553.8,143.3 554.5,143.9 555.3,144.6 556.0,145.2 556.8,145.8 557.6,146.4 558.3,147.0 559.1,147.5 559.8,148.1 560.6,148.6 561.3,149.1 562.1,149.6 562.8,150.1 563.6,150.5 564.3,151.0 565.1,151.4 565.8,151.9 566.6,152.3 567.3,152.7 568.1,153.1 568.8,153.5 569.6,153.8 570.4,154.2 571.1,154.6 571.9,154.9 572.6,155.2 573.4,155.6 574.1,155.9 574.9,156.2 575.6,156.5 576.4,156.8 577.1,157.0 577.9,157.3 578.6,157.6 579.4,157.8 580.1,158.1 580.9,158.3 581.7,158.5 582.4,158.8 583.2,159.0 583.9,159.2 584.7,159.4 585.4,159.6 586.2,159.8 586.9,160.0 587.7,160.2 588.4,160.3 589.2,160.5 589.9,160.7 590.7,160.8 591.4,161.0 592.2,161.1 592.9,161.3 593.7,161.4 594.5,161.6 595.2,161.7 596.0,161.8 596.7,162.0 597.5,162.1 598.2,162.2 599.0,162.3 599.7,162.4 600.5,162.5 601.2,162.6 602.0,162.7 602.7,162.8 603.5,162.9 604.2,163.0 605.0,163.1 605.8,163.2 606.5,163.3 607.3,163.4 608.0,163.5 608.8,163.5 609.5,163.6 610.3,163.7 611.0,163.8 611.8,163.8 612.5,163.9 613.3,163.9 614.0,164.0 614.8,164.1 615.5,164.1 616.3,164.2 617.0,164.2 617.8,164.3 618.6,164.3 619.3,164.4 620.1,164.4 620.8,164.5 621.6,164.5 622.3,164.6 623.1,164.6 623.8,164.7 624.6,164.7 625.3,164.7 626.1,164.8 626.8,164.8 627.6,164.8 628.3,164.9 629.1,164.9 629.9,164.9 630.6,165.0 631.4,165.0 632.1,165.0 632.9,165.1 633.6,165.1 634.4,165.1 635.1,165.1 635.9,165.2 636.6,165.2 637.4,165.2 638.1,165.2 638.9,165.3 639.6,165.3 640.4,165.3 641.1,165.3 641.9,165.3 642.7,165.4 643.4,165.4 644.2,165.4 644.9,165.4 645.7,165.4 646.4,165.4 647.2,165.5 647.9,165.5 648.7,165.5 649.4,165.5 650.2,165.5 650.9,165.5 651.7,165.5 652.4,165.6 653.2,165.6 654.0,165.6 654.7,165.6 655.5,165.6 656.2,165.6 657.0,165.6 657.7,165.6 658.5,165.6 659.2,165.6 660.0,165.7 660.7,165.7 661.5,165.7 662.2,165.7 663.0,165.7 663.7,165.7 664.5,165.7 665.2,165.7 666.0,165.7 666.8,165.7 667.5,165.7 668.3,165.7 669.0,165.7 669.8,165.7 670.5,165.8 671.3,165.8 672.0,165.8 672.8,165.8 673.5,165.8 674.3,165.8 675.0,165.8 675.8,165.8 676.5,165.8 677.3,165.8" stroke="#ff4848"/>
<polyline points="497.3,6.4 498.1,11.6 498.8,16.6 499.6,21.4 500.3,26.1 501.1,30.7 501.8,35.1 502.6,39.3 503.3,43.4 504.1,47.4 504.8,51.2 505.6,55.0 506.3,58.6 507.1,62.0 507.8,65.4 508.6,68.7 509.4,71.8 510.1,74.8 510.9,77.8 511.6,80.6 512.4,83.4 513.1,86.0 513.9,88.6 514.6,91.1 515.4,93.5 516.1,95.8 516.9,98.1 517.6,100.2 518.4,102.3 519.1,104.4 519.9,106.3 520.6,108.2 521.4,110.1 522.2,111.9 522.9,113.6 523.7,115.2 524.4,116.9 525.2,118.4 525.9,119.9 526.7,121.4 527.4,122.8 528.2,124.1 528.9,125.5 529.7,126.7 530.4,128.0 531.2,129.2 531.9,130.3 532.7,131.5 533.5,132.5 534.2,133.6 535.0,134.6 535.7,135.6 536.5,136.5 537.2,137.5 538.0,138.4 538.7,139.2 539.5,140.0 540.2,140.9 541.0,141.6 541.7,142.4 542.5,143.1 543.2,143.8 544.0,144.5 544.7,145.2 545.5,145.8 546.3,146.5 547.0,147.1 547.8,147.7 548.5,148.2 549.3,148.8 550.0,149.3 550.8,149.8 551.5,150.3 552.3,150.8 553.0,151.3 553.8,151.7 554.5,152.2 555.3,152.6 556.0,153.0 556.8,153.4 557.6,153.8 558.3,154.2 559.1,154.6 559.8,154.9 560.6,155.2 561.3,155.6 562.1,155.9 562.8,156.2 563.6,156.5 564.3,156.8 565.1,157.1 565.8,157.4 566.6,157.6 567.3,157.9 568.1,158.1 568.8,158.4 569.6,158.6 570.4,158.8 571.1,159.1 571.9,159.3 572.6,159.5 573.4,159.7 574.1,159.9 574.9,160.1 575.6,160.2 576.4,160.4 577.1,160.6 577.9,160.8 578.6,160.9 579.4,161.1 580.1,161.2 580.9,161.4 581.7,161.5 582.4,161.6 583.2,161.8 583.9,161.9 584.7,162.0 585.4,162.2 586.2,162.3 586.9,162.4 587.7,162.5 588.4,162.6 589.2,162.7 589.9,162.8 590.7,162.9 591.4,163.0 592.2,163.1 592.9,163.2 593.7,163.3 594.5,163.3 595.2,163.4 596.0,163.5 596.7,163.6 597.5,163.7 598.2,163.7 599.0,163.8 599.7,163.9 600.5,163.9 601.2,164.0 602.0,164.0 602.7,164.1 603.5,164.2 604.2,164.2 605.0,164.3 605.8,164.3 606.5,164.4 607.3,164.4 608.0,164.5 608.8,164.5 609.5,164.6 610.3,164.6 611.0,164.6 611.8,164.7 612.5,164.7 613.3,164.8 614.0,164.8 614.8,164.8 615.5,164.9 616.3,164.9 617.0,164.9 617.8,165.0 618.6,165.0 619.3,165.0 620.1,165.1 620.8,165.1 621.6,165.1 622.3,165.1 623.1,165.2 623.8,165.2 624.6,165.2 625.3,165.2 626.1,165.2 626.8,165.3 627.6,165.3 628.3,165.3 629.1,165.3 629.9,165.3 630.6,165.4 631.4,165.4 632.1,165.4 632.9,165.4 633.6,165.4 634.4,165.4 635.1,165.5 635.9,165.5 636.6,165.5 637.4,165.5 638.1,165.5 638.9,165.5 639.6,165.5 640.4,165.6 641.1,165.6 641.9,165.6 642.7,165.6 643.4,165.6 644.2,165.6 644.9,165.6 645.7,165.6 646.4,165.6 647.2,165.6 647.9,165.7 648.7,165.7 649.4,165.7 650.2,165.7 650.9,165.7 651.7,165.7 652.4,165.7 653.2,165.7 654.0,165.7 654.7,165.7 655.5,165.7 656.2,165.7 657.0,165.7 657.7,165.7 658.5,165.8 659.2,165.8 660.0,165.8 660.7,165.8 661.5,165.8 662.2,165.8 663.0,165.8 663.7,165.8 664.5,165.8 665.2,165.8 666.0,165.8 666.8,165.8 667.5,165.8 668.3,165.8 669.0,165.8 669.8,165.8 670.5,165.8 671.3,165.8 672.0,165.8 672.8,165.8 673.5,165.8 674.3,165.8 675.0,165.8 675.8,165.8 676.5,165.8 677.3,165.8" stroke="#48ff48"/>
<polyline points="497.3,6.4 498.1,14.3 498.8,21.9 499.6,29.1 500.3,35.9 501.1,42.5 501.8,48.8 502.6,54.7 503.3,60.4 504.1,65.8 504.8,70.9 505.6,75.8 506.3,80.5 507.1,84.9 507.8,89.1 508.6,93.1 509.4,96.9 510.1,100.6 510.9,104.0 511.6,107.3 512.4,110.4 513.1,113.3 513.9,116.1 514.6,118.8 515.4,121.3 516.1,123.7 516.9,126.0 517.6,128.1 518.4,130.2 519.1,132.1 519.9,134.0 520.6,135.7 521.4,137.3 522.2,138.9 522.9,140.4 523.7,141.8 524.4,143.1 525.2,144.4 525.9,145.6 526.7,146.7 527.4,147.8 528.2,148.8 528.9,149.7 529.7,150.6 530.4,151.5 531.2,152.3 531.9,153.0 532.7,153.8 533.5,154.5 534.2,155.1 535.0,155.7 535.7,156.3 536.5,156.8 537.2,157.3 538.0,157.8 538.7,158.3 539.5,158.7 540.2,159.1 541.0,159.5 541.7,159.9 542.5,160.2 543.2,160.6 544.0,160.9 544.7,161.2 545.5,161.4 546.3,161.7 547.0,161.9 547.8,162.2 548.5,162.4 549.3,162.6 550.0,162.8 550.8,163.0 551.5,163.1 552.3,163.3 553.0,163.5 553.8,163.6 554.5,163.7 555.3,163.9 556.0,164.0 556.8,164.1 557.6,164.2 558.3,164.3 559.1,164.4 559.8,164.5 560.6,164.6 561.3,164.6 562.1,164.7 562.8,164.8 563.6,164.9 564.3,164.9 565.1,165.0 565.8,165.0 566.6,165.1 567.3,165.1 568.1,165.2 568.8,165.2 569.6,165.3 570.4,165.3 571.1,165.3 571.9,165.4 572.6,165.4 573.4,165.4 574.1,165.5 574.9,165.5 575.6,165.5 576.4,165.5 577.1,165.6 577.9,165.6 578.6,165.6 579.4,165.6 580.1,165.6 580.9,165.7 581.7,165.7 582.4,165.7 583.2,165.7 583.9,165.7 584.7,165.7 585.4,165.7 586.2,165.8 586.9,165.8 587.7,165.8 588.4,165.8 589.2,165.8 589.9,165.8 590.7,165.8 591.4,165.8 592.2,165.8 592.9,165.8 593.7,165.8 594.5,165.8 595.2,165.8 596.0,165.8 596.7,165.8 597.5,165.9 598.2,165.9 599.0,165.9 599.7,165.9 600.5,165.9 601.2,165.9 602.0,165.9 602.7,165.9 603.5,165.9 604.2,165.9 605.0,165.9 605.8,165.9 606.5,165.9 607.3,165.9 608.0,165.9 608.8,165.9 609.5,165.9 610.3,165.9 611.0,165.9 611.8,165.9 612.5,165.9 613.3,165.9 614.0,165.9 614.8,165.9 615.5,165.9 616.3,165.9 617.0,165.9 617.8,165.9 618.6,165.9 619.3,165.9 620.1,165.9 620.8,165.9 621.6,165.9 622.3,165.9 623.1,165.9 623.8,165.9 624.6,165.9 625.3,165.9 626.1,165.9 626.8,165.9 627.6,165.9 628.3,165.9 629.1,165.9 629.9,165.9 630.6,165.9 631.4,165.9 632.1,165.9 632.9,165.9 633.6,165.9 634.4,165.9 635.1,165.9 635.9,165.9 636.6,165.9 637.4,165.9 638.1,165.9 638.9,165.9 639.6,165.9 640.4,165.9 641.1,165.9 641.9,165.9 642.7,165.9 643.4,165.9 644.2,165.9 644.9,165.9 645.7,165.9 646.4,165.9 647.2,165.9 647.9,165.9 648.7,165.9 649.4,165.9 650.2,165.9 650.9,165.9 651.7,165.9 652.4,165.9 653.2,165.9 654.0,165.9 654.7,165.9 655.5,165.9 656.2,165.9 657.0,165.9 657.7,165.9 658.5,165.9 659.2,165.9 660.0,165.9 660.7,165.9 661.5,165.9 662.2,165.9 663.0,165.9 663.7,165.9 664.5,165.9 665.2,165.9 666.0,165.9 666.8,165.9 667.5,165.9 668.3,165.9 669.0,165.9 669.8,165.9 670.5,165.9 671.3,165.9 672.0,165.9 672.8,165.9 673.5,165.9 674.3,165.9 675.0,165.9 675.8,165.9 676.5,165.9 677.3,165.9" stroke="#404040"/>
</g>
<path d="M490.1,0.5H684.5" stroke="#a8a8a8" stroke-width="1"/>
<path d="M490.1,172.3H684.5" stroke="#999" stroke-width="1"/>
<path d="M684.5,0.0V172.3" stroke="#aaa" stroke-width="1"/>
<path d="M490.1,0.0V172.3" stroke="#b0b0b0" stroke-width="1"/>
<line x1="487.50" x2="490.10" y1="165.92" y2="165.92" stroke="#bbb" stroke-width="0.8"/>
<text transform="translate(484.50,165.92) rotate(-90) scale(1,1.04)" text-anchor="middle" class="t">0.0</text>
<line x1="487.50" x2="490.10" y1="134.01" y2="134.01" stroke="#bbb" stroke-width="0.8"/>
<text transform="translate(484.50,134.01) rotate(-90) scale(1,1.04)" text-anchor="middle" class="t">0.2</text>
<line x1="487.50" x2="490.10" y1="102.10" y2="102.10" stroke="#bbb" stroke-width="0.8"/>
<text transform="translate(484.50,102.10) rotate(-90) scale(1,1.04)" text-anchor="middle" class="t">0.4</text>
<line x1="487.50" x2="490.10" y1="70.20" y2="70.20" stroke="#bbb" stroke-width="0.8"/>
<text transform="translate(484.50,70.20) rotate(-90) scale(1,1.04)" text-anchor="middle" class="t">0.6</text>
<line x1="487.50" x2="490.10" y1="38.29" y2="38.29" stroke="#bbb" stroke-width="0.8"/>
<text transform="translate(484.50,38.29) rotate(-90) scale(1,1.04)" text-anchor="middle" class="t">0.8</text>
<line x1="487.50" x2="490.10" y1="6.38" y2="6.38" stroke="#bbb" stroke-width="0.8"/>
<text transform="translate(484.50,6.38) rotate(-90) scale(1,1.04)" text-anchor="middle" class="t">1.0</text>
<line x1="509.86" x2="509.86" y1="172.30" y2="173.80" stroke="#ccc" stroke-width="0.8"/>
<text transform="translate(509.86,180.80) scale(1,1.04)" text-anchor="middle" class="t">2</text>
<line x1="551.72" x2="551.72" y1="172.30" y2="173.80" stroke="#ccc" stroke-width="0.8"/>
<text transform="translate(551.72,180.80) scale(1,1.04)" text-anchor="middle" class="t">4</text>
<line x1="593.58" x2="593.58" y1="172.30" y2="173.80" stroke="#ccc" stroke-width="0.8"/>
<text transform="translate(593.58,180.80) scale(1,1.04)" text-anchor="middle" class="t">6</text>
<line x1="635.44" x2="635.44" y1="172.30" y2="173.80" stroke="#ccc" stroke-width="0.8"/>
<text transform="translate(635.44,180.80) scale(1,1.04)" text-anchor="middle" class="t">8</text>
<line x1="677.30" x2="677.30" y1="172.30" y2="173.80" stroke="#ccc" stroke-width="0.8"/>
<text transform="translate(677.30,180.80) scale(1,1.04)" text-anchor="middle" class="t">10</text>
<text transform="translate(587.30,189.50) scale(1,1.04)" text-anchor="middle" class="t">x</text>
<text transform="translate(475.50,86.15) rotate(-90) scale(1,1.04)" text-anchor="middle" class="t" font-size="9.2px">R(x)</text>
<rect x="614.3" y="6.4" width="65.6" height="44.2" fill="#fff" stroke="#a0a0a0" stroke-width="0.9"/>
<line x1="621.20" x2="635.80" y1="15.20" y2="15.20" stroke="#8080ff" stroke-width="1"/>
<text y="17.80" class="lg"><tspan x="642.80" font-size="7.3px">λ</tspan><tspan x="649.40">=</tspan><tspan x="656.40">-</tspan><tspan x="661.00">1</tspan></text>
<line x1="621.20" x2="635.80" y1="24.05" y2="24.05" stroke="#ff8080" stroke-width="1"/>
<text y="26.65" class="lg"><tspan x="642.80" font-size="7.3px">λ</tspan><tspan x="649.40">=</tspan><tspan x="656.40">-</tspan><tspan x="661.00">0.2</tspan></text>
<line x1="621.20" x2="635.80" y1="32.90" y2="32.90" stroke="#80ff80" stroke-width="1"/>
<text y="35.50" class="lg"><tspan x="642.80" font-size="7.3px">λ</tspan><tspan x="649.40">=</tspan><tspan x="656.10">0.3</tspan></text>
<line x1="621.20" x2="635.80" y1="41.75" y2="41.75" stroke="#808080" stroke-width="1"/>
<text y="44.35" class="lg"><tspan x="642.80" font-size="7.3px">λ</tspan><tspan x="649.40">=</tspan><tspan x="658.00">1</tspan></text>
<text transform="translate(515.80,218.00) scale(1.1,1)" class="cap">(c)</text>
<text transform="translate(539.60,218.00) scale(1.08,1)" class="cap" font-style="italic">θ</text>
<text transform="translate(551.80,218.00) scale(1.45,1)" class="cap" stroke="#1a1a1a" stroke-width="0.25">=</text>
<text transform="translate(568.60,218.00) scale(1.1,1)" class="cap">1,</text>
<text transform="translate(586.60,218.00) scale(1.3,1)" class="cap" font-style="italic">μ</text>
<text transform="translate(600.80,218.00) scale(1.45,1)" class="cap" stroke="#1a1a1a" stroke-width="0.25">=</text>
<text transform="translate(616.40,218.00) scale(1.1,1)" class="cap">1.4</text>
<clipPath id="c10"><rect x="22.5" y="259.5" width="195.00" height="172.40"/></clipPath>
<g clip-path="url(#c10)" fill="none" stroke-width="0.9" stroke-linejoin="round">
<polyline points="29.7,425.5 30.5,425.5 31.2,425.3 32.0,425.2 32.7,425.0 33.5,424.7 34.3,424.3 35.0,423.9 35.8,423.5 36.5,423.0 37.3,422.5 38.0,421.9 38.8,421.3 39.5,420.6 40.3,420.0 41.1,419.3 41.8,418.6 42.6,417.9 43.3,417.1 44.1,416.4 44.8,415.6 45.6,414.9 46.3,414.1 47.1,413.4 47.9,412.7 48.6,411.9 49.4,411.2 50.1,410.5 50.9,409.7 51.6,409.0 52.4,408.3 53.1,407.7 53.9,407.0 54.7,406.3 55.4,405.7 56.2,405.0 56.9,404.4 57.7,403.8 58.4,403.2 59.2,402.6 59.9,402.0 60.7,401.5 61.5,400.9 62.2,400.4 63.0,399.9 63.7,399.3 64.5,398.8 65.2,398.3 66.0,397.9 66.7,397.4 67.5,396.9 68.3,396.5 69.0,396.1 69.8,395.6 70.5,395.2 71.3,394.8 72.0,394.4 72.8,394.1 73.5,393.7 74.3,393.3 75.0,393.0 75.8,392.6 76.6,392.3 77.3,391.9 78.1,391.6 78.8,391.3 79.6,391.0 80.3,390.7 81.1,390.4 81.8,390.1 82.6,389.9 83.4,389.6 84.1,389.3 84.9,389.1 85.6,388.8 86.4,388.6 87.1,388.3 87.9,388.1 88.6,387.9 89.4,387.6 90.2,387.4 90.9,387.2 91.7,387.0 92.4,386.8 93.2,386.6 93.9,386.4 94.7,386.2 95.4,386.0 96.2,385.9 97.0,385.7 97.7,385.5 98.5,385.4 99.2,385.2 100.0,385.0 100.7,384.9 101.5,384.7 102.2,384.6 103.0,384.4 103.8,384.3 104.5,384.1 105.3,384.0 106.0,383.9 106.8,383.8 107.5,383.6 108.3,383.5 109.0,383.4 109.8,383.3 110.6,383.1 111.3,383.0 112.1,382.9 112.8,382.8 113.6,382.7 114.3,382.6 115.1,382.5 115.8,382.4 116.6,382.3 117.4,382.2 118.1,382.1 118.9,382.0 119.6,381.9 120.4,381.8 121.1,381.7 121.9,381.7 122.6,381.6 123.4,381.5 124.2,381.4 124.9,381.3 125.7,381.3 126.4,381.2 127.2,381.1 127.9,381.0 128.7,381.0 129.4,380.9 130.2,380.8 131.0,380.8 131.7,380.7 132.5,380.6 133.2,380.6 134.0,380.5 134.7,380.4 135.5,380.4 136.2,380.3 137.0,380.2 137.8,380.2 138.5,380.1 139.3,380.1 140.0,380.0 140.8,380.0 141.5,379.9 142.3,379.9 143.0,379.8 143.8,379.8 144.6,379.7 145.3,379.7 146.1,379.6 146.8,379.6 147.6,379.5 148.3,379.5 149.1,379.4 149.8,379.4 150.6,379.3 151.4,379.3 152.1,379.2 152.9,379.2 153.6,379.2 154.4,379.1 155.1,379.1 155.9,379.0 156.6,379.0 157.4,379.0 158.2,378.9 158.9,378.9 159.7,378.9 160.4,378.8 161.2,378.8 161.9,378.7 162.7,378.7 163.4,378.7 164.2,378.6 165.0,378.6 165.7,378.6 166.5,378.5 167.2,378.5 168.0,378.5 168.7,378.4 169.5,378.4 170.2,378.4 171.0,378.3 171.7,378.3 172.5,378.3 173.3,378.3 174.0,378.2 174.8,378.2 175.5,378.2 176.3,378.1 177.0,378.1 177.8,378.1 178.5,378.1 179.3,378.0 180.1,378.0 180.8,378.0 181.6,377.9 182.3,377.9 183.1,377.9 183.8,377.9 184.6,377.8 185.3,377.8 186.1,377.8 186.9,377.8 187.6,377.7 188.4,377.7 189.1,377.7 189.9,377.7 190.6,377.6 191.4,377.6 192.1,377.6 192.9,377.6 193.7,377.6 194.4,377.5 195.2,377.5 195.9,377.5 196.7,377.5 197.4,377.4 198.2,377.4 198.9,377.4 199.7,377.4 200.5,377.4 201.2,377.3 202.0,377.3 202.7,377.3 203.5,377.3 204.2,377.3 205.0,377.2 205.7,377.2 206.5,377.2 207.3,377.2 208.0,377.2 208.8,377.1 209.5,377.1 210.3,377.1" stroke="#4848ff"/>
<polyline points="29.7,421.6 30.5,420.2 31.2,418.9 32.0,417.6 32.7,416.5 33.5,415.4 34.3,414.3 35.0,413.3 35.8,412.4 36.5,411.5 37.3,410.6 38.0,409.8 38.8,409.0 39.5,408.2 40.3,407.5 41.1,406.7 41.8,406.1 42.6,405.4 43.3,404.8 44.1,404.1 44.8,403.5 45.6,402.9 46.3,402.4 47.1,401.8 47.9,401.3 48.6,400.8 49.4,400.3 50.1,399.8 50.9,399.3 51.6,398.8 52.4,398.4 53.1,397.9 53.9,397.5 54.7,397.1 55.4,396.7 56.2,396.3 56.9,395.9 57.7,395.5 58.4,395.1 59.2,394.8 59.9,394.4 60.7,394.1 61.5,393.7 62.2,393.4 63.0,393.1 63.7,392.8 64.5,392.4 65.2,392.2 66.0,391.9 66.7,391.6 67.5,391.3 68.3,391.0 69.0,390.8 69.8,390.5 70.5,390.2 71.3,390.0 72.0,389.8 72.8,389.5 73.5,389.3 74.3,389.1 75.0,388.8 75.8,388.6 76.6,388.4 77.3,388.2 78.1,388.0 78.8,387.8 79.6,387.6 80.3,387.4 81.1,387.2 81.8,387.0 82.6,386.9 83.4,386.7 84.1,386.5 84.9,386.3 85.6,386.2 86.4,386.0 87.1,385.9 87.9,385.7 88.6,385.6 89.4,385.4 90.2,385.3 90.9,385.1 91.7,385.0 92.4,384.9 93.2,384.7 93.9,384.6 94.7,384.5 95.4,384.3 96.2,384.2 97.0,384.1 97.7,384.0 98.5,383.9 99.2,383.7 100.0,383.6 100.7,383.5 101.5,383.4 102.2,383.3 103.0,383.2 103.8,383.1 104.5,383.0 105.3,382.9 106.0,382.8 106.8,382.7 107.5,382.6 108.3,382.5 109.0,382.4 109.8,382.4 110.6,382.3 111.3,382.2 112.1,382.1 112.8,382.0 113.6,381.9 114.3,381.9 115.1,381.8 115.8,381.7 116.6,381.6 117.4,381.6 118.1,381.5 118.9,381.4 119.6,381.3 120.4,381.3 121.1,381.2 121.9,381.1 122.6,381.1 123.4,381.0 124.2,380.9 124.9,380.9 125.7,380.8 126.4,380.8 127.2,380.7 127.9,380.6 128.7,380.6 129.4,380.5 130.2,380.5 131.0,380.4 131.7,380.4 132.5,380.3 133.2,380.2 134.0,380.2 134.7,380.1 135.5,380.1 136.2,380.0 137.0,380.0 137.8,379.9 138.5,379.9 139.3,379.8 140.0,379.8 140.8,379.8 141.5,379.7 142.3,379.7 143.0,379.6 143.8,379.6 144.6,379.5 145.3,379.5 146.1,379.4 146.8,379.4 147.6,379.4 148.3,379.3 149.1,379.3 149.8,379.2 150.6,379.2 151.4,379.2 152.1,379.1 152.9,379.1 153.6,379.0 154.4,379.0 155.1,379.0 155.9,378.9 156.6,378.9 157.4,378.9 158.2,378.8 158.9,378.8 159.7,378.8 160.4,378.7 161.2,378.7 161.9,378.7 162.7,378.6 163.4,378.6 164.2,378.6 165.0,378.5 165.7,378.5 166.5,378.5 167.2,378.4 168.0,378.4 168.7,378.4 169.5,378.4 170.2,378.3 171.0,378.3 171.7,378.3 172.5,378.2 173.3,378.2 174.0,378.2 174.8,378.2 175.5,378.1 176.3,378.1 177.0,378.1 177.8,378.0 178.5,378.0 179.3,378.0 180.1,378.0 180.8,377.9 181.6,377.9 182.3,377.9 183.1,377.9 183.8,377.8 184.6,377.8 185.3,377.8 186.1,377.8 186.9,377.7 187.6,377.7 188.4,377.7 189.1,377.7 189.9,377.7 190.6,377.6 191.4,377.6 192.1,377.6 192.9,377.6 193.7,377.5 194.4,377.5 195.2,377.5 195.9,377.5 196.7,377.5 197.4,377.4 198.2,377.4 198.9,377.4 199.7,377.4 200.5,377.4 201.2,377.3 202.0,377.3 202.7,377.3 203.5,377.3 204.2,377.3 205.0,377.2 205.7,377.2 206.5,377.2 207.3,377.2 208.0,377.2 208.8,377.1 209.5,377.1 210.3,377.1" stroke="#ff4848"/>
<polyline points="29.7,419.2 30.5,416.9 31.2,414.8 32.0,412.8 32.7,411.0 33.5,409.3 34.3,407.7 35.0,406.2 35.8,404.8 36.5,403.5 37.3,402.3 38.0,401.1 38.8,400.0 39.5,399.0 40.3,398.1 41.1,397.2 41.8,396.3 42.6,395.5 43.3,394.8 44.1,394.1 44.8,393.4 45.6,392.8 46.3,392.2 47.1,391.7 47.9,391.1 48.6,390.6 49.4,390.2 50.1,389.7 50.9,389.3 51.6,388.9 52.4,388.5 53.1,388.2 53.9,387.9 54.7,387.5 55.4,387.2 56.2,387.0 56.9,386.7 57.7,386.4 58.4,386.2 59.2,386.0 59.9,385.8 60.7,385.5 61.5,385.4 62.2,385.2 63.0,385.0 63.7,384.8 64.5,384.7 65.2,384.5 66.0,384.4 66.7,384.2 67.5,384.1 68.3,384.0 69.0,383.9 69.8,383.8 70.5,383.7 71.3,383.5 72.0,383.5 72.8,383.4 73.5,383.3 74.3,383.2 75.0,383.1 75.8,383.0 76.6,382.9 77.3,382.9 78.1,382.8 78.8,382.7 79.6,382.7 80.3,382.6 81.1,382.5 81.8,382.5 82.6,382.4 83.4,382.4 84.1,382.3 84.9,382.2 85.6,382.2 86.4,382.1 87.1,382.1 87.9,382.0 88.6,382.0 89.4,381.9 90.2,381.9 90.9,381.9 91.7,381.8 92.4,381.8 93.2,381.7 93.9,381.7 94.7,381.6 95.4,381.6 96.2,381.5 97.0,381.5 97.7,381.5 98.5,381.4 99.2,381.4 100.0,381.3 100.7,381.3 101.5,381.3 102.2,381.2 103.0,381.2 103.8,381.1 104.5,381.1 105.3,381.1 106.0,381.0 106.8,381.0 107.5,380.9 108.3,380.9 109.0,380.9 109.8,380.8 110.6,380.8 111.3,380.8 112.1,380.7 112.8,380.7 113.6,380.6 114.3,380.6 115.1,380.6 115.8,380.5 116.6,380.5 117.4,380.5 118.1,380.4 118.9,380.4 119.6,380.3 120.4,380.3 121.1,380.3 121.9,380.2 122.6,380.2 123.4,380.2 124.2,380.1 124.9,380.1 125.7,380.1 126.4,380.0 127.2,380.0 127.9,379.9 128.7,379.9 129.4,379.9 130.2,379.8 131.0,379.8 131.7,379.8 132.5,379.7 133.2,379.7 134.0,379.7 134.7,379.6 135.5,379.6 136.2,379.6 137.0,379.5 137.8,379.5 138.5,379.5 139.3,379.4 140.0,379.4 140.8,379.4 141.5,379.3 142.3,379.3 143.0,379.3 143.8,379.2 144.6,379.2 145.3,379.2 146.1,379.1 146.8,379.1 147.6,379.1 148.3,379.1 149.1,379.0 149.8,379.0 150.6,379.0 151.4,378.9 152.1,378.9 152.9,378.9 153.6,378.8 154.4,378.8 155.1,378.8 155.9,378.7 156.6,378.7 157.4,378.7 158.2,378.7 158.9,378.6 159.7,378.6 160.4,378.6 161.2,378.5 161.9,378.5 162.7,378.5 163.4,378.5 164.2,378.4 165.0,378.4 165.7,378.4 166.5,378.4 167.2,378.3 168.0,378.3 168.7,378.3 169.5,378.3 170.2,378.2 171.0,378.2 171.7,378.2 172.5,378.2 173.3,378.1 174.0,378.1 174.8,378.1 175.5,378.1 176.3,378.0 177.0,378.0 177.8,378.0 178.5,378.0 179.3,377.9 180.1,377.9 180.8,377.9 181.6,377.9 182.3,377.8 183.1,377.8 183.8,377.8 184.6,377.8 185.3,377.7 186.1,377.7 186.9,377.7 187.6,377.7 188.4,377.7 189.1,377.6 189.9,377.6 190.6,377.6 191.4,377.6 192.1,377.6 192.9,377.5 193.7,377.5 194.4,377.5 195.2,377.5 195.9,377.4 196.7,377.4 197.4,377.4 198.2,377.4 198.9,377.4 199.7,377.3 200.5,377.3 201.2,377.3 202.0,377.3 202.7,377.3 203.5,377.3 204.2,377.2 205.0,377.2 205.7,377.2 206.5,377.2 207.3,377.2 208.0,377.1 208.8,377.1 209.5,377.1 210.3,377.1" stroke="#48ff48"/>
<polyline points="29.7,415.8 30.5,412.3 31.2,409.0 32.0,405.9 32.7,403.1 33.5,400.4 34.3,397.9 35.0,395.5 35.8,393.3 36.5,391.2 37.3,389.2 38.0,387.3 38.8,385.5 39.5,383.8 40.3,382.2 41.1,380.7 41.8,379.2 42.6,377.8 43.3,376.5 44.1,375.3 44.8,374.0 45.6,372.9 46.3,371.8 47.1,370.7 47.9,369.7 48.6,368.7 49.4,367.7 50.1,366.8 50.9,365.9 51.6,365.1 52.4,364.3 53.1,363.5 53.9,362.7 54.7,362.0 55.4,361.3 56.2,360.6 56.9,359.9 57.7,359.3 58.4,358.7 59.2,358.1 59.9,357.5 60.7,356.9 61.5,356.3 62.2,355.8 63.0,355.3 63.7,354.8 64.5,354.3 65.2,353.8 66.0,353.3 66.7,352.9 67.5,352.4 68.3,352.0 69.0,351.6 69.8,351.2 70.5,350.8 71.3,350.4 72.0,350.0 72.8,349.6 73.5,349.3 74.3,348.9 75.0,348.6 75.8,348.2 76.6,347.9 77.3,347.6 78.1,347.3 78.8,347.0 79.6,346.7 80.3,346.4 81.1,346.1 81.8,345.8 82.6,345.5 83.4,345.2 84.1,345.0 84.9,344.7 85.6,344.5 86.4,344.2 87.1,344.0 87.9,343.7 88.6,343.5 89.4,343.3 90.2,343.0 90.9,342.8 91.7,342.6 92.4,342.4 93.2,342.2 93.9,341.9 94.7,341.7 95.4,341.5 96.2,341.3 97.0,341.2 97.7,341.0 98.5,340.8 99.2,340.6 100.0,340.4 100.7,340.2 101.5,340.1 102.2,339.9 103.0,339.7 103.8,339.6 104.5,339.4 105.3,339.2 106.0,339.1 106.8,338.9 107.5,338.8 108.3,338.6 109.0,338.5 109.8,338.3 110.6,338.2 111.3,338.0 112.1,337.9 112.8,337.8 113.6,337.6 114.3,337.5 115.1,337.4 115.8,337.2 116.6,337.1 117.4,337.0 118.1,336.8 118.9,336.7 119.6,336.6 120.4,336.5 121.1,336.4 121.9,336.2 122.6,336.1 123.4,336.0 124.2,335.9 124.9,335.8 125.7,335.7 126.4,335.6 127.2,335.5 127.9,335.4 128.7,335.3 129.4,335.2 130.2,335.1 131.0,335.0 131.7,334.9 132.5,334.8 133.2,334.7 134.0,334.6 134.7,334.5 135.5,334.4 136.2,334.3 137.0,334.2 137.8,334.1 138.5,334.0 139.3,333.9 140.0,333.9 140.8,333.8 141.5,333.7 142.3,333.6 143.0,333.5 143.8,333.4 144.6,333.4 145.3,333.3 146.1,333.2 146.8,333.1 147.6,333.0 148.3,333.0 149.1,332.9 149.8,332.8 150.6,332.7 151.4,332.7 152.1,332.6 152.9,332.5 153.6,332.5 154.4,332.4 155.1,332.3 155.9,332.3 156.6,332.2 157.4,332.1 158.2,332.1 158.9,332.0 159.7,331.9 160.4,331.9 161.2,331.8 161.9,331.7 162.7,331.7 163.4,331.6 164.2,331.5 165.0,331.5 165.7,331.4 166.5,331.4 167.2,331.3 168.0,331.2 168.7,331.2 169.5,331.1 170.2,331.1 171.0,331.0 171.7,331.0 172.5,330.9 173.3,330.9 174.0,330.8 174.8,330.7 175.5,330.7 176.3,330.6 177.0,330.6 177.8,330.5 178.5,330.5 179.3,330.4 180.1,330.4 180.8,330.3 181.6,330.3 182.3,330.2 183.1,330.2 183.8,330.1 184.6,330.1 185.3,330.0 186.1,330.0 186.9,330.0 187.6,329.9 188.4,329.9 189.1,329.8 189.9,329.8 190.6,329.7 191.4,329.7 192.1,329.6 192.9,329.6 193.7,329.5 194.4,329.5 195.2,329.5 195.9,329.4 196.7,329.4 197.4,329.3 198.2,329.3 198.9,329.3 199.7,329.2 200.5,329.2 201.2,329.1 202.0,329.1 202.7,329.1 203.5,329.0 204.2,329.0 205.0,328.9 205.7,328.9 206.5,328.9 207.3,328.8 208.0,328.8 208.8,328.8 209.5,328.7 210.3,328.7" stroke="#404040"/>
</g>
<path d="M22.5,259.5H217.5" stroke="#999" stroke-width="1"/>
<path d="M22.5,431.9H217.5" stroke="#bbb" stroke-width="1"/>
<path d="M217.5,259.5V431.9" stroke="#aaa" stroke-width="1"/>
<path d="M22.5,259.5V431.9" stroke="#999" stroke-width="1"/>
<line x1="19.90" x2="22.50" y1="425.51" y2="425.51" stroke="#bbb" stroke-width="0.8"/>
<text transform="translate(16.90,425.51) rotate(-90) scale(1,1.04)" text-anchor="middle" class="t">0.00</text>
<line x1="19.90" x2="22.50" y1="398.91" y2="398.91" stroke="#bbb" stroke-width="0.8"/>
<text transform="translate(16.90,398.91) rotate(-90) scale(1,1.04)" text-anchor="middle" class="t">0.05</text>
<line x1="19.90" x2="22.50" y1="372.30" y2="372.30" stroke="#bbb" stroke-width="0.8"/>
<text transform="translate(16.90,372.30) rotate(-90) scale(1,1.04)" text-anchor="middle" class="t">0.10</text>
<line x1="19.90" x2="22.50" y1="345.70" y2="345.70" stroke="#bbb" stroke-width="0.8"/>
<text transform="translate(16.90,345.70) rotate(-90) scale(1,1.04)" text-anchor="middle" class="t">0.15</text>
<line x1="19.90" x2="22.50" y1="319.10" y2="319.10" stroke="#bbb" stroke-width="0.8"/>
<text transform="translate(16.90,319.10) rotate(-90) scale(1,1.04)" text-anchor="middle" class="t">0.20</text>
<line x1="19.90" x2="22.50" y1="292.49" y2="292.49" stroke="#bbb" stroke-width="0.8"/>
<text transform="translate(16.90,292.49) rotate(-90) scale(1,1.04)" text-anchor="middle" class="t">0.25</text>
<line x1="19.90" x2="22.50" y1="265.89" y2="265.89" stroke="#bbb" stroke-width="0.8"/>
<text transform="translate(16.90,265.89) rotate(-90) scale(1,1.04)" text-anchor="middle" class="t">0.30</text>
<line x1="29.72" x2="29.72" y1="431.90" y2="433.40" stroke="#ccc" stroke-width="0.8"/>
<text transform="translate(29.72,440.40) scale(1,1.04)" text-anchor="middle" class="t">0</text>
<line x1="65.83" x2="65.83" y1="431.90" y2="433.40" stroke="#ccc" stroke-width="0.8"/>
<text transform="translate(65.83,440.40) scale(1,1.04)" text-anchor="middle" class="t">20</text>
<line x1="101.94" x2="101.94" y1="431.90" y2="433.40" stroke="#ccc" stroke-width="0.8"/>
<text transform="translate(101.94,440.40) scale(1,1.04)" text-anchor="middle" class="t">40</text>
<line x1="138.06" x2="138.06" y1="431.90" y2="433.40" stroke="#ccc" stroke-width="0.8"/>
<text transform="translate(138.06,440.40) scale(1,1.04)" text-anchor="middle" class="t">60</text>
<line x1="174.17" x2="174.17" y1="431.90" y2="433.40" stroke="#ccc" stroke-width="0.8"/>
<text transform="translate(174.17,440.40) scale(1,1.04)" text-anchor="middle" class="t">80</text>
<line x1="210.28" x2="210.28" y1="431.90" y2="433.40" stroke="#ccc" stroke-width="0.8"/>
<text transform="translate(210.28,440.40) scale(1,1.04)" text-anchor="middle" class="t">100</text>
<text transform="translate(120.00,449.10) scale(1,1.04)" text-anchor="middle" class="t">x</text>
<text transform="translate(7.90,345.70) rotate(-90) scale(1,1.04)" text-anchor="middle" class="t" font-size="9.2px">h(x)</text>
<rect x="147.2" y="265.5" width="65.6" height="44.2" fill="#fff" stroke="#a0a0a0" stroke-width="0.9"/>
<line x1="154.10" x2="168.70" y1="274.30" y2="274.30" stroke="#8080ff" stroke-width="1"/>
<text y="276.90" class="lg"><tspan x="175.70" font-size="7.3px">λ</tspan><tspan x="182.30">=</tspan><tspan x="189.30">-</tspan><tspan x="193.90">1</tspan></text>
<line x1="154.10" x2="168.70" y1="283.15" y2="283.15" stroke="#ff8080" stroke-width="1"/>
<text y="285.75" class="lg"><tspan x="175.70" font-size="7.3px">λ</tspan><tspan x="182.30">=</tspan><tspan x="189.30">-</tspan><tspan x="193.90">0.2</tspan></text>
<line x1="154.10" x2="168.70" y1="292.00" y2="292.00" stroke="#80ff80" stroke-width="1"/>
<text y="294.60" class="lg"><tspan x="175.70" font-size="7.3px">λ</tspan><tspan x="182.30">=</tspan><tspan x="189.00">0.3</tspan></text>
<line x1="154.10" x2="168.70" y1="300.85" y2="300.85" stroke="#808080" stroke-width="1"/>
<text y="303.45" class="lg"><tspan x="175.70" font-size="7.3px">λ</tspan><tspan x="182.30">=</tspan><tspan x="190.90">1</tspan></text>
<text transform="translate(48.10,477.60) scale(1.1,1)" class="cap">(d)</text>
<text transform="translate(72.80,477.60) scale(1.08,1)" class="cap" font-style="italic">θ</text>
<text transform="translate(85.10,477.60) scale(1.45,1)" class="cap" stroke="#1a1a1a" stroke-width="0.25">=</text>
<text transform="translate(100.40,477.60) scale(1.1,1)" class="cap">0.1,</text>
<text transform="translate(131.30,477.60) scale(1.3,1)" class="cap" font-style="italic">μ</text>
<text transform="translate(145.90,477.60) scale(1.45,1)" class="cap" stroke="#1a1a1a" stroke-width="0.25">=</text>
<text transform="translate(161.00,477.60) scale(1.1,1)" class="cap">0</text>
<clipPath id="c11"><rect x="255.8" y="259.5" width="195.20" height="172.40"/></clipPath>
<g clip-path="url(#c11)" fill="none" stroke-width="0.9" stroke-linejoin="round">
<polyline points="263.0,425.5 263.8,423.8 264.5,421.9 265.3,420.0 266.1,418.1 266.8,416.1 267.6,414.2 268.3,412.2 269.1,410.2 269.8,408.3 270.6,406.5 271.3,404.6 272.1,402.8 272.9,401.1 273.6,399.4 274.4,397.8 275.1,396.2 275.9,394.7 276.6,393.2 277.4,391.8 278.2,390.5 278.9,389.1 279.7,387.9 280.4,386.7 281.2,385.5 281.9,384.4 282.7,383.3 283.4,382.2 284.2,381.2 285.0,380.3 285.7,379.3 286.5,378.4 287.2,377.6 288.0,376.8 288.7,376.0 289.5,375.2 290.3,374.5 291.0,373.8 291.8,373.1 292.5,372.4 293.3,371.8 294.0,371.2 294.8,370.6 295.5,370.0 296.3,369.5 297.1,369.0 297.8,368.5 298.6,368.0 299.3,367.5 300.1,367.1 300.8,366.6 301.6,366.2 302.4,365.8 303.1,365.4 303.9,365.1 304.6,364.7 305.4,364.3 306.1,364.0 306.9,363.7 307.6,363.4 308.4,363.1 309.2,362.8 309.9,362.5 310.7,362.2 311.4,361.9 312.2,361.7 312.9,361.4 313.7,361.2 314.5,361.0 315.2,360.7 316.0,360.5 316.7,360.3 317.5,360.1 318.2,359.9 319.0,359.7 319.7,359.5 320.5,359.3 321.3,359.1 322.0,359.0 322.8,358.8 323.5,358.6 324.3,358.5 325.0,358.3 325.8,358.2 326.6,358.0 327.3,357.9 328.1,357.8 328.8,357.6 329.6,357.5 330.3,357.4 331.1,357.2 331.8,357.1 332.6,357.0 333.4,356.9 334.1,356.8 334.9,356.7 335.6,356.6 336.4,356.4 337.1,356.3 337.9,356.2 338.7,356.1 339.4,356.0 340.2,356.0 340.9,355.9 341.7,355.8 342.4,355.7 343.2,355.6 343.9,355.5 344.7,355.4 345.5,355.4 346.2,355.3 347.0,355.2 347.7,355.1 348.5,355.0 349.2,355.0 350.0,354.9 350.8,354.8 351.5,354.8 352.3,354.7 353.0,354.6 353.8,354.6 354.5,354.5 355.3,354.4 356.0,354.4 356.8,354.3 357.6,354.2 358.3,354.2 359.1,354.1 359.8,354.1 360.6,354.0 361.3,354.0 362.1,353.9 362.9,353.8 363.6,353.8 364.4,353.7 365.1,353.7 365.9,353.6 366.6,353.6 367.4,353.5 368.1,353.5 368.9,353.4 369.7,353.4 370.4,353.3 371.2,353.3 371.9,353.2 372.7,353.2 373.4,353.2 374.2,353.1 375.0,353.1 375.7,353.0 376.5,353.0 377.2,352.9 378.0,352.9 378.7,352.9 379.5,352.8 380.2,352.8 381.0,352.7 381.8,352.7 382.5,352.7 383.3,352.6 384.0,352.6 384.8,352.6 385.5,352.5 386.3,352.5 387.1,352.4 387.8,352.4 388.6,352.4 389.3,352.3 390.1,352.3 390.8,352.3 391.6,352.2 392.3,352.2 393.1,352.2 393.9,352.1 394.6,352.1 395.4,352.1 396.1,352.0 396.9,352.0 397.6,352.0 398.4,351.9 399.2,351.9 399.9,351.9 400.7,351.9 401.4,351.8 402.2,351.8 402.9,351.8 403.7,351.7 404.4,351.7 405.2,351.7 406.0,351.7 406.7,351.6 407.5,351.6 408.2,351.6 409.0,351.5 409.7,351.5 410.5,351.5 411.3,351.5 412.0,351.4 412.8,351.4 413.5,351.4 414.3,351.4 415.0,351.3 415.8,351.3 416.5,351.3 417.3,351.3 418.1,351.2 418.8,351.2 419.6,351.2 420.3,351.2 421.1,351.2 421.8,351.1 422.6,351.1 423.4,351.1 424.1,351.1 424.9,351.0 425.6,351.0 426.4,351.0 427.1,351.0 427.9,351.0 428.6,350.9 429.4,350.9 430.2,350.9 430.9,350.9 431.7,350.8 432.4,350.8 433.2,350.8 433.9,350.8 434.7,350.8 435.5,350.7 436.2,350.7 437.0,350.7 437.7,350.7 438.5,350.7 439.2,350.6 440.0,350.6 440.7,350.6 441.5,350.6 442.3,350.6 443.0,350.6 443.8,350.5" stroke="#4848ff"/>
<polyline points="263.0,399.2 263.8,397.7 264.5,396.2 265.3,394.8 266.1,393.5 266.8,392.2 267.6,391.0 268.3,389.8 269.1,388.6 269.8,387.5 270.6,386.4 271.3,385.4 272.1,384.4 272.9,383.5 273.6,382.6 274.4,381.7 275.1,380.8 275.9,380.0 276.6,379.2 277.4,378.4 278.2,377.7 278.9,376.9 279.7,376.2 280.4,375.6 281.2,374.9 281.9,374.3 282.7,373.7 283.4,373.1 284.2,372.5 285.0,372.0 285.7,371.4 286.5,370.9 287.2,370.4 288.0,369.9 288.7,369.5 289.5,369.0 290.3,368.6 291.0,368.2 291.8,367.8 292.5,367.4 293.3,367.0 294.0,366.6 294.8,366.2 295.5,365.9 296.3,365.5 297.1,365.2 297.8,364.9 298.6,364.6 299.3,364.3 300.1,364.0 300.8,363.7 301.6,363.4 302.4,363.2 303.1,362.9 303.9,362.7 304.6,362.4 305.4,362.2 306.1,361.9 306.9,361.7 307.6,361.5 308.4,361.3 309.2,361.1 309.9,360.9 310.7,360.7 311.4,360.5 312.2,360.3 312.9,360.1 313.7,360.0 314.5,359.8 315.2,359.6 316.0,359.4 316.7,359.3 317.5,359.1 318.2,359.0 319.0,358.8 319.7,358.7 320.5,358.5 321.3,358.4 322.0,358.3 322.8,358.1 323.5,358.0 324.3,357.9 325.0,357.8 325.8,357.6 326.6,357.5 327.3,357.4 328.1,357.3 328.8,357.2 329.6,357.1 330.3,357.0 331.1,356.9 331.8,356.8 332.6,356.7 333.4,356.6 334.1,356.5 334.9,356.4 335.6,356.3 336.4,356.2 337.1,356.1 337.9,356.0 338.7,355.9 339.4,355.8 340.2,355.8 340.9,355.7 341.7,355.6 342.4,355.5 343.2,355.4 343.9,355.4 344.7,355.3 345.5,355.2 346.2,355.1 347.0,355.1 347.7,355.0 348.5,354.9 349.2,354.9 350.0,354.8 350.8,354.7 351.5,354.7 352.3,354.6 353.0,354.5 353.8,354.5 354.5,354.4 355.3,354.4 356.0,354.3 356.8,354.2 357.6,354.2 358.3,354.1 359.1,354.1 359.8,354.0 360.6,354.0 361.3,353.9 362.1,353.9 362.9,353.8 363.6,353.8 364.4,353.7 365.1,353.7 365.9,353.6 366.6,353.6 367.4,353.5 368.1,353.5 368.9,353.4 369.7,353.4 370.4,353.3 371.2,353.3 371.9,353.2 372.7,353.2 373.4,353.1 374.2,353.1 375.0,353.1 375.7,353.0 376.5,353.0 377.2,352.9 378.0,352.9 378.7,352.8 379.5,352.8 380.2,352.8 381.0,352.7 381.8,352.7 382.5,352.7 383.3,352.6 384.0,352.6 384.8,352.5 385.5,352.5 386.3,352.5 387.1,352.4 387.8,352.4 388.6,352.4 389.3,352.3 390.1,352.3 390.8,352.3 391.6,352.2 392.3,352.2 393.1,352.2 393.9,352.1 394.6,352.1 395.4,352.1 396.1,352.0 396.9,352.0 397.6,352.0 398.4,351.9 399.2,351.9 399.9,351.9 400.7,351.9 401.4,351.8 402.2,351.8 402.9,351.8 403.7,351.7 404.4,351.7 405.2,351.7 406.0,351.7 406.7,351.6 407.5,351.6 408.2,351.6 409.0,351.5 409.7,351.5 410.5,351.5 411.3,351.5 412.0,351.4 412.8,351.4 413.5,351.4 414.3,351.4 415.0,351.3 415.8,351.3 416.5,351.3 417.3,351.3 418.1,351.2 418.8,351.2 419.6,351.2 420.3,351.2 421.1,351.2 421.8,351.1 422.6,351.1 423.4,351.1 424.1,351.1 424.9,351.0 425.6,351.0 426.4,351.0 427.1,351.0 427.9,351.0 428.6,350.9 429.4,350.9 430.2,350.9 430.9,350.9 431.7,350.8 432.4,350.8 433.2,350.8 433.9,350.8 434.7,350.8 435.5,350.7 436.2,350.7 437.0,350.7 437.7,350.7 438.5,350.7 439.2,350.6 440.0,350.6 440.7,350.6 441.5,350.6 442.3,350.6 443.0,350.6 443.8,350.5" stroke="#ff4848"/>
<polyline points="263.0,382.8 263.8,380.8 264.5,379.0 265.3,377.4 266.1,375.9 266.8,374.5 267.6,373.3 268.3,372.1 269.1,371.1 269.8,370.1 270.6,369.2 271.3,368.4 272.1,367.7 272.9,367.0 273.6,366.4 274.4,365.8 275.1,365.3 275.9,364.8 276.6,364.3 277.4,363.9 278.2,363.6 278.9,363.2 279.7,362.9 280.4,362.6 281.2,362.3 281.9,362.1 282.7,361.9 283.4,361.6 284.2,361.4 285.0,361.3 285.7,361.1 286.5,360.9 287.2,360.8 288.0,360.6 288.7,360.5 289.5,360.4 290.3,360.3 291.0,360.2 291.8,360.1 292.5,360.0 293.3,359.9 294.0,359.8 294.8,359.7 295.5,359.6 296.3,359.5 297.1,359.4 297.8,359.4 298.6,359.3 299.3,359.2 300.1,359.1 300.8,359.1 301.6,359.0 302.4,358.9 303.1,358.8 303.9,358.8 304.6,358.7 305.4,358.6 306.1,358.6 306.9,358.5 307.6,358.4 308.4,358.3 309.2,358.3 309.9,358.2 310.7,358.1 311.4,358.1 312.2,358.0 312.9,357.9 313.7,357.8 314.5,357.8 315.2,357.7 316.0,357.6 316.7,357.6 317.5,357.5 318.2,357.4 319.0,357.3 319.7,357.3 320.5,357.2 321.3,357.1 322.0,357.0 322.8,357.0 323.5,356.9 324.3,356.8 325.0,356.8 325.8,356.7 326.6,356.6 327.3,356.5 328.1,356.5 328.8,356.4 329.6,356.3 330.3,356.3 331.1,356.2 331.8,356.1 332.6,356.1 333.4,356.0 334.1,355.9 334.9,355.9 335.6,355.8 336.4,355.7 337.1,355.7 337.9,355.6 338.7,355.5 339.4,355.5 340.2,355.4 340.9,355.3 341.7,355.3 342.4,355.2 343.2,355.2 343.9,355.1 344.7,355.0 345.5,355.0 346.2,354.9 347.0,354.9 347.7,354.8 348.5,354.7 349.2,354.7 350.0,354.6 350.8,354.6 351.5,354.5 352.3,354.5 353.0,354.4 353.8,354.3 354.5,354.3 355.3,354.2 356.0,354.2 356.8,354.1 357.6,354.1 358.3,354.0 359.1,354.0 359.8,353.9 360.6,353.9 361.3,353.8 362.1,353.8 362.9,353.7 363.6,353.7 364.4,353.6 365.1,353.6 365.9,353.5 366.6,353.5 367.4,353.5 368.1,353.4 368.9,353.4 369.7,353.3 370.4,353.3 371.2,353.2 371.9,353.2 372.7,353.1 373.4,353.1 374.2,353.1 375.0,353.0 375.7,353.0 376.5,352.9 377.2,352.9 378.0,352.9 378.7,352.8 379.5,352.8 380.2,352.8 381.0,352.7 381.8,352.7 382.5,352.6 383.3,352.6 384.0,352.6 384.8,352.5 385.5,352.5 386.3,352.5 387.1,352.4 387.8,352.4 388.6,352.4 389.3,352.3 390.1,352.3 390.8,352.3 391.6,352.2 392.3,352.2 393.1,352.2 393.9,352.1 394.6,352.1 395.4,352.1 396.1,352.0 396.9,352.0 397.6,352.0 398.4,351.9 399.2,351.9 399.9,351.9 400.7,351.9 401.4,351.8 402.2,351.8 402.9,351.8 403.7,351.7 404.4,351.7 405.2,351.7 406.0,351.7 406.7,351.6 407.5,351.6 408.2,351.6 409.0,351.5 409.7,351.5 410.5,351.5 411.3,351.5 412.0,351.4 412.8,351.4 413.5,351.4 414.3,351.4 415.0,351.3 415.8,351.3 416.5,351.3 417.3,351.3 418.1,351.2 418.8,351.2 419.6,351.2 420.3,351.2 421.1,351.2 421.8,351.1 422.6,351.1 423.4,351.1 424.1,351.1 424.9,351.0 425.6,351.0 426.4,351.0 427.1,351.0 427.9,351.0 428.6,350.9 429.4,350.9 430.2,350.9 430.9,350.9 431.7,350.8 432.4,350.8 433.2,350.8 433.9,350.8 434.7,350.8 435.5,350.7 436.2,350.7 437.0,350.7 437.7,350.7 438.5,350.7 439.2,350.6 440.0,350.6 440.7,350.6 441.5,350.6 442.3,350.6 443.0,350.6 443.8,350.5" stroke="#48ff48"/>
<polyline points="263.0,359.8 263.8,356.5 264.5,353.4 265.3,350.5 266.1,347.8 266.8,345.3 267.6,342.9 268.3,340.7 269.1,338.6 269.8,336.6 270.6,334.7 271.3,332.9 272.1,331.2 272.9,329.6 273.6,328.1 274.4,326.6 275.1,325.2 275.9,323.9 276.6,322.6 277.4,321.4 278.2,320.2 278.9,319.1 279.7,318.0 280.4,317.0 281.2,316.0 281.9,315.0 282.7,314.1 283.4,313.2 284.2,312.4 285.0,311.5 285.7,310.8 286.5,310.0 287.2,309.2 288.0,308.5 288.7,307.8 289.5,307.2 290.3,306.5 291.0,305.9 291.8,305.3 292.5,304.7 293.3,304.1 294.0,303.5 294.8,303.0 295.5,302.5 296.3,302.0 297.1,301.5 297.8,301.0 298.6,300.5 299.3,300.0 300.1,299.6 300.8,299.2 301.6,298.7 302.4,298.3 303.1,297.9 303.9,297.5 304.6,297.1 305.4,296.8 306.1,296.4 306.9,296.1 307.6,295.7 308.4,295.4 309.2,295.0 309.9,294.7 310.7,294.4 311.4,294.1 312.2,293.8 312.9,293.5 313.7,293.2 314.5,292.9 315.2,292.6 316.0,292.3 316.7,292.1 317.5,291.8 318.2,291.5 319.0,291.3 319.7,291.0 320.5,290.8 321.3,290.6 322.0,290.3 322.8,290.1 323.5,289.9 324.3,289.7 325.0,289.4 325.8,289.2 326.6,289.0 327.3,288.8 328.1,288.6 328.8,288.4 329.6,288.2 330.3,288.0 331.1,287.8 331.8,287.6 332.6,287.5 333.4,287.3 334.1,287.1 334.9,286.9 335.6,286.8 336.4,286.6 337.1,286.4 337.9,286.3 338.7,286.1 339.4,286.0 340.2,285.8 340.9,285.6 341.7,285.5 342.4,285.3 343.2,285.2 343.9,285.1 344.7,284.9 345.5,284.8 346.2,284.6 347.0,284.5 347.7,284.4 348.5,284.2 349.2,284.1 350.0,284.0 350.8,283.9 351.5,283.7 352.3,283.6 353.0,283.5 353.8,283.4 354.5,283.2 355.3,283.1 356.0,283.0 356.8,282.9 357.6,282.8 358.3,282.7 359.1,282.6 359.8,282.5 360.6,282.4 361.3,282.3 362.1,282.2 362.9,282.1 363.6,282.0 364.4,281.9 365.1,281.8 365.9,281.7 366.6,281.6 367.4,281.5 368.1,281.4 368.9,281.3 369.7,281.2 370.4,281.1 371.2,281.0 371.9,280.9 372.7,280.8 373.4,280.7 374.2,280.7 375.0,280.6 375.7,280.5 376.5,280.4 377.2,280.3 378.0,280.2 378.7,280.2 379.5,280.1 380.2,280.0 381.0,279.9 381.8,279.9 382.5,279.8 383.3,279.7 384.0,279.6 384.8,279.6 385.5,279.5 386.3,279.4 387.1,279.3 387.8,279.3 388.6,279.2 389.3,279.1 390.1,279.1 390.8,279.0 391.6,278.9 392.3,278.9 393.1,278.8 393.9,278.7 394.6,278.7 395.4,278.6 396.1,278.6 396.9,278.5 397.6,278.4 398.4,278.4 399.2,278.3 399.9,278.3 400.7,278.2 401.4,278.1 402.2,278.1 402.9,278.0 403.7,278.0 404.4,277.9 405.2,277.8 406.0,277.8 406.7,277.7 407.5,277.7 408.2,277.6 409.0,277.6 409.7,277.5 410.5,277.5 411.3,277.4 412.0,277.4 412.8,277.3 413.5,277.3 414.3,277.2 415.0,277.2 415.8,277.1 416.5,277.1 417.3,277.0 418.1,277.0 418.8,276.9 419.6,276.9 420.3,276.8 421.1,276.8 421.8,276.7 422.6,276.7 423.4,276.7 424.1,276.6 424.9,276.6 425.6,276.5 426.4,276.5 427.1,276.4 427.9,276.4 428.6,276.3 429.4,276.3 430.2,276.3 430.9,276.2 431.7,276.2 432.4,276.1 433.2,276.1 433.9,276.1 434.7,276.0 435.5,276.0 436.2,275.9 437.0,275.9 437.7,275.9 438.5,275.8 439.2,275.8 440.0,275.7 440.7,275.7 441.5,275.7 442.3,275.6 443.0,275.6 443.8,275.6" stroke="#404040"/>
</g>
<path d="M255.8,259.5H451.0" stroke="#999" stroke-width="1"/>
<path d="M255.8,431.9H451.0" stroke="#bbb" stroke-width="1"/>
<path d="M451.0,259.5V431.9" stroke="#aaa" stroke-width="1"/>
<path d="M255.8,259.5V431.9" stroke="#ececec" stroke-width="1"/>
<line x1="253.20" x2="255.80" y1="425.51" y2="425.51" stroke="#bbb" stroke-width="0.8"/>
<text transform="translate(250.20,425.51) rotate(-90) scale(1,1.04)" text-anchor="middle" class="t">0.0</text>
<line x1="253.20" x2="255.80" y1="393.59" y2="393.59" stroke="#bbb" stroke-width="0.8"/>
<text transform="translate(250.20,393.59) rotate(-90) scale(1,1.04)" text-anchor="middle" class="t">0.2</text>
<line x1="253.20" x2="255.80" y1="361.66" y2="361.66" stroke="#bbb" stroke-width="0.8"/>
<text transform="translate(250.20,361.66) rotate(-90) scale(1,1.04)" text-anchor="middle" class="t">0.4</text>
<line x1="253.20" x2="255.80" y1="329.74" y2="329.74" stroke="#bbb" stroke-width="0.8"/>
<text transform="translate(250.20,329.74) rotate(-90) scale(1,1.04)" text-anchor="middle" class="t">0.6</text>
<line x1="253.20" x2="255.80" y1="297.81" y2="297.81" stroke="#bbb" stroke-width="0.8"/>
<text transform="translate(250.20,297.81) rotate(-90) scale(1,1.04)" text-anchor="middle" class="t">0.8</text>
<line x1="253.20" x2="255.80" y1="265.89" y2="265.89" stroke="#bbb" stroke-width="0.8"/>
<text transform="translate(250.20,265.89) rotate(-90) scale(1,1.04)" text-anchor="middle" class="t">1.0</text>
<line x1="260.59" x2="260.59" y1="431.90" y2="433.40" stroke="#ccc" stroke-width="0.8"/>
<text transform="translate(260.59,440.40) scale(1,1.04)" text-anchor="middle" class="t">0</text>
<line x1="291.12" x2="291.12" y1="431.90" y2="433.40" stroke="#ccc" stroke-width="0.8"/>
<text transform="translate(291.12,440.40) scale(1,1.04)" text-anchor="middle" class="t">5</text>
<line x1="321.65" x2="321.65" y1="431.90" y2="433.40" stroke="#ccc" stroke-width="0.8"/>
<text transform="translate(321.65,440.40) scale(1,1.04)" text-anchor="middle" class="t">10</text>
<line x1="352.18" x2="352.18" y1="431.90" y2="433.40" stroke="#ccc" stroke-width="0.8"/>
<text transform="translate(352.18,440.40) scale(1,1.04)" text-anchor="middle" class="t">15</text>
<line x1="382.71" x2="382.71" y1="431.90" y2="433.40" stroke="#ccc" stroke-width="0.8"/>
<text transform="translate(382.71,440.40) scale(1,1.04)" text-anchor="middle" class="t">20</text>
<line x1="413.24" x2="413.24" y1="431.90" y2="433.40" stroke="#ccc" stroke-width="0.8"/>
<text transform="translate(413.24,440.40) scale(1,1.04)" text-anchor="middle" class="t">25</text>
<line x1="443.77" x2="443.77" y1="431.90" y2="433.40" stroke="#ccc" stroke-width="0.8"/>
<text transform="translate(443.77,440.40) scale(1,1.04)" text-anchor="middle" class="t">30</text>
<text transform="translate(353.40,449.10) scale(1,1.04)" text-anchor="middle" class="t">x</text>
<text transform="translate(241.20,345.70) rotate(-90) scale(1,1.04)" text-anchor="middle" class="t" font-size="9.2px">h(x)</text>
<rect x="382.6" y="297.4" width="65.6" height="44.2" fill="#fff" stroke="#a0a0a0" stroke-width="0.9"/>
<line x1="389.50" x2="404.10" y1="306.20" y2="306.20" stroke="#8080ff" stroke-width="1"/>
<text y="308.80" class="lg"><tspan x="411.10" font-size="7.3px">λ</tspan><tspan x="417.70">=</tspan><tspan x="424.70">-</tspan><tspan x="429.30">1</tspan></text>
<line x1="389.50" x2="404.10" y1="315.05" y2="315.05" stroke="#ff8080" stroke-width="1"/>
<text y="317.65" class="lg"><tspan x="411.10" font-size="7.3px">λ</tspan><tspan x="417.70">=</tspan><tspan x="424.70">-</tspan><tspan x="429.30">0.2</tspan></text>
<line x1="389.50" x2="404.10" y1="323.90" y2="323.90" stroke="#80ff80" stroke-width="1"/>
<text y="326.50" class="lg"><tspan x="411.10" font-size="7.3px">λ</tspan><tspan x="417.70">=</tspan><tspan x="424.40">0.3</tspan></text>
<line x1="389.50" x2="404.10" y1="332.75" y2="332.75" stroke="#808080" stroke-width="1"/>
<text y="335.35" class="lg"><tspan x="411.10" font-size="7.3px">λ</tspan><tspan x="417.70">=</tspan><tspan x="426.30">1</tspan></text>
<text transform="translate(275.30,477.60) scale(1.1,1)" class="cap">(e)</text>
<text transform="translate(300.40,477.60) scale(1.08,1)" class="cap" font-style="italic">θ</text>
<text transform="translate(313.10,477.60) scale(1.45,1)" class="cap" stroke="#1a1a1a" stroke-width="0.25">=</text>
<text transform="translate(328.50,477.60) scale(1.1,1)" class="cap">0.5,</text>
<text transform="translate(359.90,477.60) scale(1.3,1)" class="cap" font-style="italic">μ</text>
<text transform="translate(373.80,477.60) scale(1.45,1)" class="cap" stroke="#1a1a1a" stroke-width="0.25">=</text>
<text transform="translate(389.00,477.60) scale(1.1,1)" class="cap">0.4</text>
<clipPath id="c12"><rect x="490.1" y="259.5" width="194.40" height="172.40"/></clipPath>
<g clip-path="url(#c12)" fill="none" stroke-width="0.9" stroke-linejoin="round">
<polyline points="497.3,425.5 498.1,422.7 498.8,420.1 499.6,417.7 500.3,415.3 501.1,413.1 501.8,411.1 502.6,409.1 503.3,407.2 504.1,405.4 504.8,403.7 505.6,402.1 506.3,400.6 507.1,399.1 507.8,397.7 508.6,396.3 509.4,395.0 510.1,393.8 510.9,392.6 511.6,391.5 512.4,390.4 513.1,389.3 513.9,388.3 514.6,387.3 515.4,386.4 516.1,385.5 516.9,384.6 517.6,383.8 518.4,382.9 519.1,382.2 519.9,381.4 520.6,380.7 521.4,380.0 522.2,379.3 522.9,378.6 523.7,378.0 524.4,377.3 525.2,376.7 525.9,376.2 526.7,375.6 527.4,375.0 528.2,374.5 528.9,374.0 529.7,373.5 530.4,373.0 531.2,372.5 531.9,372.1 532.7,371.6 533.5,371.2 534.2,370.8 535.0,370.4 535.7,370.0 536.5,369.6 537.2,369.2 538.0,368.9 538.7,368.5 539.5,368.2 540.2,367.8 541.0,367.5 541.7,367.2 542.5,366.9 543.2,366.6 544.0,366.3 544.7,366.0 545.5,365.7 546.3,365.4 547.0,365.2 547.8,364.9 548.5,364.7 549.3,364.4 550.0,364.2 550.8,364.0 551.5,363.7 552.3,363.5 553.0,363.3 553.8,363.1 554.5,362.9 555.3,362.7 556.0,362.5 556.8,362.3 557.6,362.1 558.3,361.9 559.1,361.7 559.8,361.5 560.6,361.4 561.3,361.2 562.1,361.0 562.8,360.9 563.6,360.7 564.3,360.6 565.1,360.4 565.8,360.3 566.6,360.1 567.3,360.0 568.1,359.9 568.8,359.7 569.6,359.6 570.4,359.5 571.1,359.3 571.9,359.2 572.6,359.1 573.4,359.0 574.1,358.9 574.9,358.7 575.6,358.6 576.4,358.5 577.1,358.4 577.9,358.3 578.6,358.2 579.4,358.1 580.1,358.0 580.9,357.9 581.7,357.8 582.4,357.7 583.2,357.6 583.9,357.5 584.7,357.4 585.4,357.4 586.2,357.3 586.9,357.2 587.7,357.1 588.4,357.0 589.2,356.9 589.9,356.9 590.7,356.8 591.4,356.7 592.2,356.6 592.9,356.6 593.7,356.5 594.5,356.4 595.2,356.4 596.0,356.3 596.7,356.2 597.5,356.2 598.2,356.1 599.0,356.0 599.7,356.0 600.5,355.9 601.2,355.8 602.0,355.8 602.7,355.7 603.5,355.7 604.2,355.6 605.0,355.6 605.8,355.5 606.5,355.4 607.3,355.4 608.0,355.3 608.8,355.3 609.5,355.2 610.3,355.2 611.0,355.1 611.8,355.1 612.5,355.0 613.3,355.0 614.0,354.9 614.8,354.9 615.5,354.9 616.3,354.8 617.0,354.8 617.8,354.7 618.6,354.7 619.3,354.6 620.1,354.6 620.8,354.5 621.6,354.5 622.3,354.5 623.1,354.4 623.8,354.4 624.6,354.3 625.3,354.3 626.1,354.3 626.8,354.2 627.6,354.2 628.3,354.2 629.1,354.1 629.9,354.1 630.6,354.0 631.4,354.0 632.1,354.0 632.9,353.9 633.6,353.9 634.4,353.9 635.1,353.8 635.9,353.8 636.6,353.8 637.4,353.7 638.1,353.7 638.9,353.7 639.6,353.6 640.4,353.6 641.1,353.6 641.9,353.6 642.7,353.5 643.4,353.5 644.2,353.5 644.9,353.4 645.7,353.4 646.4,353.4 647.2,353.3 647.9,353.3 648.7,353.3 649.4,353.3 650.2,353.2 650.9,353.2 651.7,353.2 652.4,353.2 653.2,353.1 654.0,353.1 654.7,353.1 655.5,353.0 656.2,353.0 657.0,353.0 657.7,353.0 658.5,352.9 659.2,352.9 660.0,352.9 660.7,352.9 661.5,352.8 662.2,352.8 663.0,352.8 663.7,352.8 664.5,352.7 665.2,352.7 666.0,352.7 666.8,352.7 667.5,352.7 668.3,352.6 669.0,352.6 669.8,352.6 670.5,352.6 671.3,352.5 672.0,352.5 672.8,352.5 673.5,352.5 674.3,352.5 675.0,352.4 675.8,352.4 676.5,352.4 677.3,352.4" stroke="#4848ff"/>
<polyline points="497.3,380.4 498.1,379.9 498.8,379.4 499.6,378.9 500.3,378.4 501.1,377.9 501.8,377.4 502.6,376.9 503.3,376.5 504.1,376.0 504.8,375.6 505.6,375.1 506.3,374.7 507.1,374.3 507.8,373.9 508.6,373.5 509.4,373.1 510.1,372.8 510.9,372.4 511.6,372.0 512.4,371.7 513.1,371.3 513.9,371.0 514.6,370.6 515.4,370.3 516.1,370.0 516.9,369.7 517.6,369.4 518.4,369.1 519.1,368.8 519.9,368.5 520.6,368.2 521.4,368.0 522.2,367.7 522.9,367.4 523.7,367.2 524.4,366.9 525.2,366.7 525.9,366.4 526.7,366.2 527.4,366.0 528.2,365.7 528.9,365.5 529.7,365.3 530.4,365.1 531.2,364.9 531.9,364.7 532.7,364.5 533.5,364.3 534.2,364.1 535.0,363.9 535.7,363.7 536.5,363.5 537.2,363.3 538.0,363.2 538.7,363.0 539.5,362.8 540.2,362.7 541.0,362.5 541.7,362.3 542.5,362.2 543.2,362.0 544.0,361.9 544.7,361.7 545.5,361.6 546.3,361.4 547.0,361.3 547.8,361.2 548.5,361.0 549.3,360.9 550.0,360.8 550.8,360.6 551.5,360.5 552.3,360.4 553.0,360.3 553.8,360.2 554.5,360.0 555.3,359.9 556.0,359.8 556.8,359.7 557.6,359.6 558.3,359.5 559.1,359.4 559.8,359.3 560.6,359.2 561.3,359.1 562.1,359.0 562.8,358.9 563.6,358.8 564.3,358.7 565.1,358.6 565.8,358.5 566.6,358.4 567.3,358.3 568.1,358.2 568.8,358.2 569.6,358.1 570.4,358.0 571.1,357.9 571.9,357.8 572.6,357.8 573.4,357.7 574.1,357.6 574.9,357.5 575.6,357.4 576.4,357.4 577.1,357.3 577.9,357.2 578.6,357.2 579.4,357.1 580.1,357.0 580.9,357.0 581.7,356.9 582.4,356.8 583.2,356.8 583.9,356.7 584.7,356.6 585.4,356.6 586.2,356.5 586.9,356.5 587.7,356.4 588.4,356.3 589.2,356.3 589.9,356.2 590.7,356.2 591.4,356.1 592.2,356.1 592.9,356.0 593.7,355.9 594.5,355.9 595.2,355.8 596.0,355.8 596.7,355.7 597.5,355.7 598.2,355.6 599.0,355.6 599.7,355.5 600.5,355.5 601.2,355.4 602.0,355.4 602.7,355.3 603.5,355.3 604.2,355.3 605.0,355.2 605.8,355.2 606.5,355.1 607.3,355.1 608.0,355.0 608.8,355.0 609.5,355.0 610.3,354.9 611.0,354.9 611.8,354.8 612.5,354.8 613.3,354.7 614.0,354.7 614.8,354.7 615.5,354.6 616.3,354.6 617.0,354.6 617.8,354.5 618.6,354.5 619.3,354.4 620.1,354.4 620.8,354.4 621.6,354.3 622.3,354.3 623.1,354.3 623.8,354.2 624.6,354.2 625.3,354.2 626.1,354.1 626.8,354.1 627.6,354.1 628.3,354.0 629.1,354.0 629.9,354.0 630.6,353.9 631.4,353.9 632.1,353.9 632.9,353.8 633.6,353.8 634.4,353.8 635.1,353.7 635.9,353.7 636.6,353.7 637.4,353.7 638.1,353.6 638.9,353.6 639.6,353.6 640.4,353.5 641.1,353.5 641.9,353.5 642.7,353.5 643.4,353.4 644.2,353.4 644.9,353.4 645.7,353.3 646.4,353.3 647.2,353.3 647.9,353.3 648.7,353.2 649.4,353.2 650.2,353.2 650.9,353.2 651.7,353.1 652.4,353.1 653.2,353.1 654.0,353.1 654.7,353.0 655.5,353.0 656.2,353.0 657.0,353.0 657.7,352.9 658.5,352.9 659.2,352.9 660.0,352.9 660.7,352.8 661.5,352.8 662.2,352.8 663.0,352.8 663.7,352.7 664.5,352.7 665.2,352.7 666.0,352.7 666.8,352.7 667.5,352.6 668.3,352.6 669.0,352.6 669.8,352.6 670.5,352.5 671.3,352.5 672.0,352.5 672.8,352.5 673.5,352.5 674.3,352.4 675.0,352.4 675.8,352.4 676.5,352.4 677.3,352.4" stroke="#ff4848"/>
<polyline points="497.3,352.3 498.1,352.3 498.8,352.2 499.6,352.2 500.3,352.2 501.1,352.2 501.8,352.3 502.6,352.3 503.3,352.3 504.1,352.3 504.8,352.4 505.6,352.4 506.3,352.4 507.1,352.5 507.8,352.5 508.6,352.6 509.4,352.6 510.1,352.7 510.9,352.8 511.6,352.8 512.4,352.9 513.1,352.9 513.9,353.0 514.6,353.1 515.4,353.1 516.1,353.2 516.9,353.3 517.6,353.3 518.4,353.4 519.1,353.5 519.9,353.5 520.6,353.6 521.4,353.7 522.2,353.7 522.9,353.8 523.7,353.9 524.4,353.9 525.2,354.0 525.9,354.1 526.7,354.1 527.4,354.2 528.2,354.3 528.9,354.3 529.7,354.4 530.4,354.4 531.2,354.5 531.9,354.5 532.7,354.6 533.5,354.6 534.2,354.7 535.0,354.7 535.7,354.8 536.5,354.8 537.2,354.9 538.0,354.9 538.7,355.0 539.5,355.0 540.2,355.1 541.0,355.1 541.7,355.1 542.5,355.2 543.2,355.2 544.0,355.2 544.7,355.3 545.5,355.3 546.3,355.3 547.0,355.3 547.8,355.4 548.5,355.4 549.3,355.4 550.0,355.4 550.8,355.4 551.5,355.5 552.3,355.5 553.0,355.5 553.8,355.5 554.5,355.5 555.3,355.5 556.0,355.5 556.8,355.5 557.6,355.6 558.3,355.6 559.1,355.6 559.8,355.6 560.6,355.6 561.3,355.6 562.1,355.6 562.8,355.6 563.6,355.6 564.3,355.6 565.1,355.6 565.8,355.6 566.6,355.6 567.3,355.6 568.1,355.5 568.8,355.5 569.6,355.5 570.4,355.5 571.1,355.5 571.9,355.5 572.6,355.5 573.4,355.5 574.1,355.5 574.9,355.5 575.6,355.4 576.4,355.4 577.1,355.4 577.9,355.4 578.6,355.4 579.4,355.4 580.1,355.3 580.9,355.3 581.7,355.3 582.4,355.3 583.2,355.3 583.9,355.3 584.7,355.2 585.4,355.2 586.2,355.2 586.9,355.2 587.7,355.2 588.4,355.1 589.2,355.1 589.9,355.1 590.7,355.1 591.4,355.0 592.2,355.0 592.9,355.0 593.7,355.0 594.5,354.9 595.2,354.9 596.0,354.9 596.7,354.9 597.5,354.9 598.2,354.8 599.0,354.8 599.7,354.8 600.5,354.8 601.2,354.7 602.0,354.7 602.7,354.7 603.5,354.7 604.2,354.6 605.0,354.6 605.8,354.6 606.5,354.5 607.3,354.5 608.0,354.5 608.8,354.5 609.5,354.4 610.3,354.4 611.0,354.4 611.8,354.4 612.5,354.3 613.3,354.3 614.0,354.3 614.8,354.3 615.5,354.2 616.3,354.2 617.0,354.2 617.8,354.2 618.6,354.1 619.3,354.1 620.1,354.1 620.8,354.1 621.6,354.0 622.3,354.0 623.1,354.0 623.8,353.9 624.6,353.9 625.3,353.9 626.1,353.9 626.8,353.8 627.6,353.8 628.3,353.8 629.1,353.8 629.9,353.7 630.6,353.7 631.4,353.7 632.1,353.7 632.9,353.6 633.6,353.6 634.4,353.6 635.1,353.6 635.9,353.5 636.6,353.5 637.4,353.5 638.1,353.5 638.9,353.4 639.6,353.4 640.4,353.4 641.1,353.4 641.9,353.3 642.7,353.3 643.4,353.3 644.2,353.3 644.9,353.3 645.7,353.2 646.4,353.2 647.2,353.2 647.9,353.2 648.7,353.1 649.4,353.1 650.2,353.1 650.9,353.1 651.7,353.0 652.4,353.0 653.2,353.0 654.0,353.0 654.7,353.0 655.5,352.9 656.2,352.9 657.0,352.9 657.7,352.9 658.5,352.8 659.2,352.8 660.0,352.8 660.7,352.8 661.5,352.8 662.2,352.7 663.0,352.7 663.7,352.7 664.5,352.7 665.2,352.7 666.0,352.6 666.8,352.6 667.5,352.6 668.3,352.6 669.0,352.5 669.8,352.5 670.5,352.5 671.3,352.5 672.0,352.5 672.8,352.4 673.5,352.4 674.3,352.4 675.0,352.4 675.8,352.4 676.5,352.4 677.3,352.3" stroke="#48ff48"/>
<polyline points="497.3,312.8 498.1,312.3 498.8,311.9 499.6,311.4 500.3,310.9 501.1,310.5 501.8,310.0 502.6,309.6 503.3,309.2 504.1,308.8 504.8,308.3 505.6,307.9 506.3,307.5 507.1,307.2 507.8,306.8 508.6,306.4 509.4,306.0 510.1,305.7 510.9,305.3 511.6,305.0 512.4,304.6 513.1,304.3 513.9,304.0 514.6,303.6 515.4,303.3 516.1,303.0 516.9,302.7 517.6,302.4 518.4,302.1 519.1,301.8 519.9,301.5 520.6,301.2 521.4,301.0 522.2,300.7 522.9,300.4 523.7,300.1 524.4,299.9 525.2,299.6 525.9,299.4 526.7,299.1 527.4,298.9 528.2,298.6 528.9,298.4 529.7,298.2 530.4,297.9 531.2,297.7 531.9,297.5 532.7,297.2 533.5,297.0 534.2,296.8 535.0,296.6 535.7,296.4 536.5,296.2 537.2,296.0 538.0,295.8 538.7,295.6 539.5,295.4 540.2,295.2 541.0,295.0 541.7,294.8 542.5,294.6 543.2,294.4 544.0,294.2 544.7,294.1 545.5,293.9 546.3,293.7 547.0,293.5 547.8,293.4 548.5,293.2 549.3,293.0 550.0,292.9 550.8,292.7 551.5,292.5 552.3,292.4 553.0,292.2 553.8,292.1 554.5,291.9 555.3,291.8 556.0,291.6 556.8,291.5 557.6,291.3 558.3,291.2 559.1,291.0 559.8,290.9 560.6,290.7 561.3,290.6 562.1,290.5 562.8,290.3 563.6,290.2 564.3,290.1 565.1,289.9 565.8,289.8 566.6,289.7 567.3,289.5 568.1,289.4 568.8,289.3 569.6,289.2 570.4,289.1 571.1,288.9 571.9,288.8 572.6,288.7 573.4,288.6 574.1,288.5 574.9,288.3 575.6,288.2 576.4,288.1 577.1,288.0 577.9,287.9 578.6,287.8 579.4,287.7 580.1,287.6 580.9,287.5 581.7,287.4 582.4,287.3 583.2,287.2 583.9,287.1 584.7,287.0 585.4,286.9 586.2,286.8 586.9,286.7 587.7,286.6 588.4,286.5 589.2,286.4 589.9,286.3 590.7,286.2 591.4,286.1 592.2,286.0 592.9,285.9 593.7,285.8 594.5,285.7 595.2,285.6 596.0,285.6 596.7,285.5 597.5,285.4 598.2,285.3 599.0,285.2 599.7,285.1 600.5,285.0 601.2,285.0 602.0,284.9 602.7,284.8 603.5,284.7 604.2,284.6 605.0,284.6 605.8,284.5 606.5,284.4 607.3,284.3 608.0,284.3 608.8,284.2 609.5,284.1 610.3,284.0 611.0,284.0 611.8,283.9 612.5,283.8 613.3,283.7 614.0,283.7 614.8,283.6 615.5,283.5 616.3,283.5 617.0,283.4 617.8,283.3 618.6,283.2 619.3,283.2 620.1,283.1 620.8,283.0 621.6,283.0 622.3,282.9 623.1,282.9 623.8,282.8 624.6,282.7 625.3,282.7 626.1,282.6 626.8,282.5 627.6,282.5 628.3,282.4 629.1,282.3 629.9,282.3 630.6,282.2 631.4,282.2 632.1,282.1 632.9,282.0 633.6,282.0 634.4,281.9 635.1,281.9 635.9,281.8 636.6,281.8 637.4,281.7 638.1,281.6 638.9,281.6 639.6,281.5 640.4,281.5 641.1,281.4 641.9,281.4 642.7,281.3 643.4,281.3 644.2,281.2 644.9,281.2 645.7,281.1 646.4,281.1 647.2,281.0 647.9,280.9 648.7,280.9 649.4,280.8 650.2,280.8 650.9,280.7 651.7,280.7 652.4,280.6 653.2,280.6 654.0,280.6 654.7,280.5 655.5,280.5 656.2,280.4 657.0,280.4 657.7,280.3 658.5,280.3 659.2,280.2 660.0,280.2 660.7,280.1 661.5,280.1 662.2,280.0 663.0,280.0 663.7,279.9 664.5,279.9 665.2,279.9 666.0,279.8 666.8,279.8 667.5,279.7 668.3,279.7 669.0,279.6 669.8,279.6 670.5,279.6 671.3,279.5 672.0,279.5 672.8,279.4 673.5,279.4 674.3,279.3 675.0,279.3 675.8,279.3 676.5,279.2 677.3,279.2" stroke="#404040"/>
</g>
<path d="M490.1,259.5H684.5" stroke="#999" stroke-width="1"/>
<path d="M490.1,431.9H684.5" stroke="#bbb" stroke-width="1"/>
<path d="M684.5,259.5V431.9" stroke="#aaa" stroke-width="1"/>
<path d="M490.1,259.5V431.9" stroke="#b0b0b0" stroke-width="1"/>
<line x1="487.50" x2="490.10" y1="425.51" y2="425.51" stroke="#bbb" stroke-width="0.8"/>
<text transform="translate(484.50,425.51) rotate(-90) scale(1,1.04)" text-anchor="middle" class="t">0.0</text>
<line x1="487.50" x2="490.10" y1="385.61" y2="385.61" stroke="#bbb" stroke-width="0.8"/>
<text transform="translate(484.50,385.61) rotate(-90) scale(1,1.04)" text-anchor="middle" class="t">0.5</text>
<line x1="487.50" x2="490.10" y1="345.70" y2="345.70" stroke="#bbb" stroke-width="0.8"/>
<text transform="translate(484.50,345.70) rotate(-90) scale(1,1.04)" text-anchor="middle" class="t">1.0</text>
<line x1="487.50" x2="490.10" y1="305.79" y2="305.79" stroke="#bbb" stroke-width="0.8"/>
<text transform="translate(484.50,305.79) rotate(-90) scale(1,1.04)" text-anchor="middle" class="t">1.5</text>
<line x1="487.50" x2="490.10" y1="265.89" y2="265.89" stroke="#bbb" stroke-width="0.8"/>
<text transform="translate(484.50,265.89) rotate(-90) scale(1,1.04)" text-anchor="middle" class="t">2.0</text>
<line x1="509.86" x2="509.86" y1="431.90" y2="433.40" stroke="#ccc" stroke-width="0.8"/>
<text transform="translate(509.86,440.40) scale(1,1.04)" text-anchor="middle" class="t">2</text>
<line x1="551.72" x2="551.72" y1="431.90" y2="433.40" stroke="#ccc" stroke-width="0.8"/>
<text transform="translate(551.72,440.40) scale(1,1.04)" text-anchor="middle" class="t">4</text>
<line x1="593.58" x2="593.58" y1="431.90" y2="433.40" stroke="#ccc" stroke-width="0.8"/>
<text transform="translate(593.58,440.40) scale(1,1.04)" text-anchor="middle" class="t">6</text>
<line x1="635.44" x2="635.44" y1="431.90" y2="433.40" stroke="#ccc" stroke-width="0.8"/>
<text transform="translate(635.44,440.40) scale(1,1.04)" text-anchor="middle" class="t">8</text>
<line x1="677.30" x2="677.30" y1="431.90" y2="433.40" stroke="#ccc" stroke-width="0.8"/>
<text transform="translate(677.30,440.40) scale(1,1.04)" text-anchor="middle" class="t">10</text>
<text transform="translate(587.30,449.10) scale(1,1.04)" text-anchor="middle" class="t">x</text>
<text transform="translate(475.50,345.70) rotate(-90) scale(1,1.04)" text-anchor="middle" class="t" font-size="9.2px">h(x)</text>
<rect x="614.5" y="297.5" width="65.6" height="44.2" fill="#fff" stroke="#a0a0a0" stroke-width="0.9"/>
<line x1="621.40" x2="636.00" y1="306.30" y2="306.30" stroke="#8080ff" stroke-width="1"/>
<text y="308.90" class="lg"><tspan x="643.00" font-size="7.3px">λ</tspan><tspan x="649.60">=</tspan><tspan x="656.60">-</tspan><tspan x="661.20">1</tspan></text>
<line x1="621.40" x2="636.00" y1="315.15" y2="315.15" stroke="#ff8080" stroke-width="1"/>
<text y="317.75" class="lg"><tspan x="643.00" font-size="7.3px">λ</tspan><tspan x="649.60">=</tspan><tspan x="656.60">-</tspan><tspan x="661.20">0.2</tspan></text>
<line x1="621.40" x2="636.00" y1="324.00" y2="324.00" stroke="#80ff80" stroke-width="1"/>
<text y="326.60" class="lg"><tspan x="643.00" font-size="7.3px">λ</tspan><tspan x="649.60">=</tspan><tspan x="656.30">0.3</tspan></text>
<line x1="621.40" x2="636.00" y1="332.85" y2="332.85" stroke="#808080" stroke-width="1"/>
<text y="335.45" class="lg"><tspan x="643.00" font-size="7.3px">λ</tspan><tspan x="649.60">=</tspan><tspan x="658.20">1</tspan></text>
<text transform="translate(515.80,477.60) scale(1.1,1)" class="cap">(f)</text>
<text transform="translate(539.60,477.60) scale(1.08,1)" class="cap" font-style="italic">θ</text>
<text transform="translate(551.80,477.60) scale(1.45,1)" class="cap" stroke="#1a1a1a" stroke-width="0.25">=</text>
<text transform="translate(568.60,477.60) scale(1.1,1)" class="cap">1,</text>
<text transform="translate(586.60,477.60) scale(1.3,1)" class="cap" font-style="italic">μ</text>
<text transform="translate(600.80,477.60) scale(1.45,1)" class="cap" stroke="#1a1a1a" stroke-width="0.25">=</text>
<text transform="translate(616.40,477.60) scale(1.1,1)" class="cap">1.4</text>
<clipPath id="c20"><rect x="22.5" y="519.0" width="195.00" height="172.00"/></clipPath>
<g clip-path="url(#c20)" fill="none" stroke-width="0.9" stroke-linejoin="round">
<polyline points="29.7,684.6 30.5,684.6 31.2,684.6 32.0,684.6 32.7,684.6 33.5,684.6 34.3,684.6 35.0,684.6 35.8,684.6 36.5,684.6 37.3,684.5 38.0,684.5 38.8,684.5 39.5,684.4 40.3,684.4 41.1,684.3 41.8,684.3 42.6,684.2 43.3,684.2 44.1,684.1 44.8,684.0 45.6,683.9 46.3,683.8 47.1,683.7 47.9,683.6 48.6,683.5 49.4,683.4 50.1,683.3 50.9,683.2 51.6,683.0 52.4,682.9 53.1,682.7 53.9,682.6 54.7,682.4 55.4,682.3 56.2,682.1 56.9,681.9 57.7,681.7 58.4,681.6 59.2,681.4 59.9,681.2 60.7,681.0 61.5,680.8 62.2,680.6 63.0,680.4 63.7,680.1 64.5,679.9 65.2,679.7 66.0,679.5 66.7,679.2 67.5,679.0 68.3,678.8 69.0,678.5 69.8,678.3 70.5,678.0 71.3,677.8 72.0,677.5 72.8,677.2 73.5,677.0 74.3,676.7 75.0,676.4 75.8,676.2 76.6,675.9 77.3,675.6 78.1,675.3 78.8,675.0 79.6,674.8 80.3,674.5 81.1,674.2 81.8,673.9 82.6,673.6 83.4,673.3 84.1,673.0 84.9,672.7 85.6,672.4 86.4,672.1 87.1,671.8 87.9,671.4 88.6,671.1 89.4,670.8 90.2,670.5 90.9,670.2 91.7,669.9 92.4,669.5 93.2,669.2 93.9,668.9 94.7,668.6 95.4,668.2 96.2,667.9 97.0,667.6 97.7,667.2 98.5,666.9 99.2,666.6 100.0,666.2 100.7,665.9 101.5,665.5 102.2,665.2 103.0,664.9 103.8,664.5 104.5,664.2 105.3,663.8 106.0,663.5 106.8,663.1 107.5,662.8 108.3,662.4 109.0,662.1 109.8,661.7 110.6,661.4 111.3,661.0 112.1,660.7 112.8,660.3 113.6,660.0 114.3,659.6 115.1,659.2 115.8,658.9 116.6,658.5 117.4,658.2 118.1,657.8 118.9,657.4 119.6,657.1 120.4,656.7 121.1,656.3 121.9,656.0 122.6,655.6 123.4,655.2 124.2,654.9 124.9,654.5 125.7,654.1 126.4,653.8 127.2,653.4 127.9,653.0 128.7,652.7 129.4,652.3 130.2,651.9 131.0,651.5 131.7,651.2 132.5,650.8 133.2,650.4 134.0,650.0 134.7,649.7 135.5,649.3 136.2,648.9 137.0,648.5 137.8,648.2 138.5,647.8 139.3,647.4 140.0,647.0 140.8,646.6 141.5,646.3 142.3,645.9 143.0,645.5 143.8,645.1 144.6,644.7 145.3,644.3 146.1,644.0 146.8,643.6 147.6,643.2 148.3,642.8 149.1,642.4 149.8,642.0 150.6,641.7 151.4,641.3 152.1,640.9 152.9,640.5 153.6,640.1 154.4,639.7 155.1,639.3 155.9,638.9 156.6,638.6 157.4,638.2 158.2,637.8 158.9,637.4 159.7,637.0 160.4,636.6 161.2,636.2 161.9,635.8 162.7,635.4 163.4,635.1 164.2,634.7 165.0,634.3 165.7,633.9 166.5,633.5 167.2,633.1 168.0,632.7 168.7,632.3 169.5,631.9 170.2,631.5 171.0,631.1 171.7,630.7 172.5,630.3 173.3,629.9 174.0,629.5 174.8,629.2 175.5,628.8 176.3,628.4 177.0,628.0 177.8,627.6 178.5,627.2 179.3,626.8 180.1,626.4 180.8,626.0 181.6,625.6 182.3,625.2 183.1,624.8 183.8,624.4 184.6,624.0 185.3,623.6 186.1,623.2 186.9,622.8 187.6,622.4 188.4,622.0 189.1,621.6 189.9,621.2 190.6,620.8 191.4,620.4 192.1,620.0 192.9,619.6 193.7,619.2 194.4,618.8 195.2,618.4 195.9,618.0 196.7,617.6 197.4,617.2 198.2,616.8 198.9,616.4 199.7,616.0 200.5,615.6 201.2,615.2 202.0,614.8 202.7,614.4 203.5,614.0 204.2,613.6 205.0,613.2 205.7,612.8 206.5,612.4 207.3,612.0 208.0,611.6 208.8,611.2 209.5,610.8 210.3,610.4" stroke="#4848ff"/>
<polyline points="29.7,684.6 30.5,684.6 31.2,684.5 32.0,684.5 32.7,684.4 33.5,684.3 34.3,684.2 35.0,684.1 35.8,684.0 36.5,683.9 37.3,683.8 38.0,683.7 38.8,683.5 39.5,683.4 40.3,683.3 41.1,683.1 41.8,682.9 42.6,682.8 43.3,682.6 44.1,682.4 44.8,682.2 45.6,682.1 46.3,681.9 47.1,681.7 47.9,681.5 48.6,681.3 49.4,681.1 50.1,680.8 50.9,680.6 51.6,680.4 52.4,680.2 53.1,680.0 53.9,679.7 54.7,679.5 55.4,679.2 56.2,679.0 56.9,678.8 57.7,678.5 58.4,678.3 59.2,678.0 59.9,677.7 60.7,677.5 61.5,677.2 62.2,677.0 63.0,676.7 63.7,676.4 64.5,676.1 65.2,675.9 66.0,675.6 66.7,675.3 67.5,675.0 68.3,674.7 69.0,674.4 69.8,674.1 70.5,673.9 71.3,673.6 72.0,673.3 72.8,673.0 73.5,672.7 74.3,672.4 75.0,672.0 75.8,671.7 76.6,671.4 77.3,671.1 78.1,670.8 78.8,670.5 79.6,670.2 80.3,669.9 81.1,669.5 81.8,669.2 82.6,668.9 83.4,668.6 84.1,668.3 84.9,667.9 85.6,667.6 86.4,667.3 87.1,666.9 87.9,666.6 88.6,666.3 89.4,665.9 90.2,665.6 90.9,665.3 91.7,664.9 92.4,664.6 93.2,664.3 93.9,663.9 94.7,663.6 95.4,663.2 96.2,662.9 97.0,662.5 97.7,662.2 98.5,661.8 99.2,661.5 100.0,661.1 100.7,660.8 101.5,660.4 102.2,660.1 103.0,659.7 103.8,659.4 104.5,659.0 105.3,658.7 106.0,658.3 106.8,658.0 107.5,657.6 108.3,657.2 109.0,656.9 109.8,656.5 110.6,656.2 111.3,655.8 112.1,655.4 112.8,655.1 113.6,654.7 114.3,654.4 115.1,654.0 115.8,653.6 116.6,653.3 117.4,652.9 118.1,652.5 118.9,652.2 119.6,651.8 120.4,651.4 121.1,651.0 121.9,650.7 122.6,650.3 123.4,649.9 124.2,649.6 124.9,649.2 125.7,648.8 126.4,648.4 127.2,648.1 127.9,647.7 128.7,647.3 129.4,646.9 130.2,646.6 131.0,646.2 131.7,645.8 132.5,645.4 133.2,645.1 134.0,644.7 134.7,644.3 135.5,643.9 136.2,643.5 137.0,643.2 137.8,642.8 138.5,642.4 139.3,642.0 140.0,641.6 140.8,641.3 141.5,640.9 142.3,640.5 143.0,640.1 143.8,639.7 144.6,639.3 145.3,639.0 146.1,638.6 146.8,638.2 147.6,637.8 148.3,637.4 149.1,637.0 149.8,636.6 150.6,636.3 151.4,635.9 152.1,635.5 152.9,635.1 153.6,634.7 154.4,634.3 155.1,633.9 155.9,633.5 156.6,633.2 157.4,632.8 158.2,632.4 158.9,632.0 159.7,631.6 160.4,631.2 161.2,630.8 161.9,630.4 162.7,630.0 163.4,629.6 164.2,629.3 165.0,628.9 165.7,628.5 166.5,628.1 167.2,627.7 168.0,627.3 168.7,626.9 169.5,626.5 170.2,626.1 171.0,625.7 171.7,625.3 172.5,624.9 173.3,624.5 174.0,624.1 174.8,623.7 175.5,623.3 176.3,622.9 177.0,622.6 177.8,622.2 178.5,621.8 179.3,621.4 180.1,621.0 180.8,620.6 181.6,620.2 182.3,619.8 183.1,619.4 183.8,619.0 184.6,618.6 185.3,618.2 186.1,617.8 186.9,617.4 187.6,617.0 188.4,616.6 189.1,616.2 189.9,615.8 190.6,615.4 191.4,615.0 192.1,614.6 192.9,614.2 193.7,613.8 194.4,613.4 195.2,613.0 195.9,612.6 196.7,612.2 197.4,611.8 198.2,611.4 198.9,611.0 199.7,610.6 200.5,610.2 201.2,609.8 202.0,609.4 202.7,609.0 203.5,608.6 204.2,608.2 205.0,607.8 205.7,607.4 206.5,607.0 207.3,606.6 208.0,606.1 208.8,605.7 209.5,605.3 210.3,604.9" stroke="#ff4848"/>
<polyline points="29.7,684.6 30.5,684.6 31.2,684.5 32.0,684.4 32.7,684.3 33.5,684.1 34.3,684.0 35.0,683.8 35.8,683.7 36.5,683.5 37.3,683.3 38.0,683.1 38.8,682.9 39.5,682.7 40.3,682.5 41.1,682.2 41.8,682.0 42.6,681.7 43.3,681.5 44.1,681.2 44.8,681.0 45.6,680.7 46.3,680.4 47.1,680.1 47.9,679.9 48.6,679.6 49.4,679.3 50.1,679.0 50.9,678.7 51.6,678.4 52.4,678.1 53.1,677.8 53.9,677.4 54.7,677.1 55.4,676.8 56.2,676.5 56.9,676.2 57.7,675.8 58.4,675.5 59.2,675.2 59.9,674.9 60.7,674.5 61.5,674.2 62.2,673.8 63.0,673.5 63.7,673.2 64.5,672.8 65.2,672.5 66.0,672.1 66.7,671.8 67.5,671.5 68.3,671.1 69.0,670.8 69.8,670.4 70.5,670.1 71.3,669.7 72.0,669.4 72.8,669.0 73.5,668.7 74.3,668.3 75.0,668.0 75.8,667.6 76.6,667.2 77.3,666.9 78.1,666.5 78.8,666.2 79.6,665.8 80.3,665.5 81.1,665.1 81.8,664.7 82.6,664.4 83.4,664.0 84.1,663.7 84.9,663.3 85.6,662.9 86.4,662.6 87.1,662.2 87.9,661.9 88.6,661.5 89.4,661.1 90.2,660.8 90.9,660.4 91.7,660.0 92.4,659.7 93.2,659.3 93.9,658.9 94.7,658.6 95.4,658.2 96.2,657.8 97.0,657.5 97.7,657.1 98.5,656.7 99.2,656.4 100.0,656.0 100.7,655.6 101.5,655.3 102.2,654.9 103.0,654.5 103.8,654.2 104.5,653.8 105.3,653.4 106.0,653.0 106.8,652.7 107.5,652.3 108.3,651.9 109.0,651.5 109.8,651.2 110.6,650.8 111.3,650.4 112.1,650.1 112.8,649.7 113.6,649.3 114.3,648.9 115.1,648.6 115.8,648.2 116.6,647.8 117.4,647.4 118.1,647.1 118.9,646.7 119.6,646.3 120.4,645.9 121.1,645.5 121.9,645.2 122.6,644.8 123.4,644.4 124.2,644.0 124.9,643.7 125.7,643.3 126.4,642.9 127.2,642.5 127.9,642.1 128.7,641.8 129.4,641.4 130.2,641.0 131.0,640.6 131.7,640.2 132.5,639.8 133.2,639.5 134.0,639.1 134.7,638.7 135.5,638.3 136.2,637.9 137.0,637.5 137.8,637.2 138.5,636.8 139.3,636.4 140.0,636.0 140.8,635.6 141.5,635.2 142.3,634.9 143.0,634.5 143.8,634.1 144.6,633.7 145.3,633.3 146.1,632.9 146.8,632.5 147.6,632.1 148.3,631.8 149.1,631.4 149.8,631.0 150.6,630.6 151.4,630.2 152.1,629.8 152.9,629.4 153.6,629.0 154.4,628.6 155.1,628.3 155.9,627.9 156.6,627.5 157.4,627.1 158.2,626.7 158.9,626.3 159.7,625.9 160.4,625.5 161.2,625.1 161.9,624.7 162.7,624.3 163.4,624.0 164.2,623.6 165.0,623.2 165.7,622.8 166.5,622.4 167.2,622.0 168.0,621.6 168.7,621.2 169.5,620.8 170.2,620.4 171.0,620.0 171.7,619.6 172.5,619.2 173.3,618.8 174.0,618.4 174.8,618.0 175.5,617.6 176.3,617.2 177.0,616.8 177.8,616.4 178.5,616.1 179.3,615.7 180.1,615.3 180.8,614.9 181.6,614.5 182.3,614.1 183.1,613.7 183.8,613.3 184.6,612.9 185.3,612.5 186.1,612.1 186.9,611.7 187.6,611.3 188.4,610.9 189.1,610.5 189.9,610.1 190.6,609.7 191.4,609.3 192.1,608.9 192.9,608.5 193.7,608.1 194.4,607.7 195.2,607.3 195.9,606.9 196.7,606.5 197.4,606.1 198.2,605.7 198.9,605.3 199.7,604.9 200.5,604.5 201.2,604.1 202.0,603.7 202.7,603.3 203.5,602.8 204.2,602.4 205.0,602.0 205.7,601.6 206.5,601.2 207.3,600.8 208.0,600.4 208.8,600.0 209.5,599.6 210.3,599.2" stroke="#48ff48"/>
<polyline points="29.7,684.6 30.5,684.5 31.2,684.4 32.0,684.3 32.7,684.1 33.5,683.9 34.3,683.7 35.0,683.4 35.8,683.2 36.5,682.9 37.3,682.6 38.0,682.3 38.8,682.0 39.5,681.6 40.3,681.3 41.1,680.9 41.8,680.5 42.6,680.1 43.3,679.7 44.1,679.3 44.8,678.9 45.6,678.4 46.3,678.0 47.1,677.5 47.9,677.1 48.6,676.6 49.4,676.1 50.1,675.6 50.9,675.2 51.6,674.6 52.4,674.1 53.1,673.6 53.9,673.1 54.7,672.6 55.4,672.0 56.2,671.5 56.9,671.0 57.7,670.4 58.4,669.9 59.2,669.3 59.9,668.7 60.7,668.2 61.5,667.6 62.2,667.0 63.0,666.4 63.7,665.8 64.5,665.2 65.2,664.6 66.0,664.0 66.7,663.4 67.5,662.8 68.3,662.2 69.0,661.6 69.8,661.0 70.5,660.4 71.3,659.7 72.0,659.1 72.8,658.5 73.5,657.8 74.3,657.2 75.0,656.6 75.8,655.9 76.6,655.3 77.3,654.6 78.1,654.0 78.8,653.3 79.6,652.7 80.3,652.0 81.1,651.3 81.8,650.7 82.6,650.0 83.4,649.3 84.1,648.7 84.9,648.0 85.6,647.3 86.4,646.6 87.1,646.0 87.9,645.3 88.6,644.6 89.4,643.9 90.2,643.2 90.9,642.5 91.7,641.8 92.4,641.1 93.2,640.4 93.9,639.7 94.7,639.1 95.4,638.4 96.2,637.6 97.0,636.9 97.7,636.2 98.5,635.5 99.2,634.8 100.0,634.1 100.7,633.4 101.5,632.7 102.2,632.0 103.0,631.3 103.8,630.5 104.5,629.8 105.3,629.1 106.0,628.4 106.8,627.7 107.5,626.9 108.3,626.2 109.0,625.5 109.8,624.8 110.6,624.0 111.3,623.3 112.1,622.6 112.8,621.8 113.6,621.1 114.3,620.4 115.1,619.6 115.8,618.9 116.6,618.2 117.4,617.4 118.1,616.7 118.9,615.9 119.6,615.2 120.4,614.5 121.1,613.7 121.9,613.0 122.6,612.2 123.4,611.5 124.2,610.7 124.9,610.0 125.7,609.2 126.4,608.5 127.2,607.7 127.9,607.0 128.7,606.2 129.4,605.5 130.2,604.7 131.0,604.0 131.7,603.2 132.5,602.4 133.2,601.7 134.0,600.9 134.7,600.2 135.5,599.4 136.2,598.6 137.0,597.9 137.8,597.1 138.5,596.4 139.3,595.6 140.0,594.8 140.8,594.1 141.5,593.3 142.3,592.5 143.0,591.8 143.8,591.0 144.6,590.2 145.3,589.5 146.1,588.7 146.8,587.9 147.6,587.1 148.3,586.4 149.1,585.6 149.8,584.8 150.6,584.1 151.4,583.3 152.1,582.5 152.9,581.7 153.6,581.0 154.4,580.2 155.1,579.4 155.9,578.6 156.6,577.8 157.4,577.1 158.2,576.3 158.9,575.5 159.7,574.7 160.4,573.9 161.2,573.2 161.9,572.4 162.7,571.6 163.4,570.8 164.2,570.0 165.0,569.2 165.7,568.4 166.5,567.7 167.2,566.9 168.0,566.1 168.7,565.3 169.5,564.5 170.2,563.7 171.0,562.9 171.7,562.1 172.5,561.4 173.3,560.6 174.0,559.8 174.8,559.0 175.5,558.2 176.3,557.4 177.0,556.6 177.8,555.8 178.5,555.0 179.3,554.2 180.1,553.4 180.8,552.6 181.6,551.8 182.3,551.1 183.1,550.3 183.8,549.5 184.6,548.7 185.3,547.9 186.1,547.1 186.9,546.3 187.6,545.5 188.4,544.7 189.1,543.9 189.9,543.1 190.6,542.3 191.4,541.5 192.1,540.7 192.9,539.9 193.7,539.1 194.4,538.3 195.2,537.5 195.9,536.7 196.7,535.9 197.4,535.1 198.2,534.3 198.9,533.5 199.7,532.7 200.5,531.9 201.2,531.0 202.0,530.2 202.7,529.4 203.5,528.6 204.2,527.8 205.0,527.0 205.7,526.2 206.5,525.4 207.3,524.6 208.0,523.8 208.8,523.0 209.5,522.2 210.3,521.4" stroke="#404040"/>
</g>
<path d="M22.5,519.0H217.5" stroke="#bbb" stroke-width="1"/>
<path d="M22.5,691.0H217.5" stroke="#bbb" stroke-width="1"/>
<path d="M217.5,519.0V691.0" stroke="#aaa" stroke-width="1"/>
<path d="M22.5,519.0V691.0" stroke="#999" stroke-width="1"/>
<line x1="19.90" x2="22.50" y1="684.63" y2="684.63" stroke="#bbb" stroke-width="0.8"/>
<text transform="translate(16.90,684.63) rotate(-90) scale(1,1.04)" text-anchor="middle" class="t">0</text>
<line x1="19.90" x2="22.50" y1="631.54" y2="631.54" stroke="#bbb" stroke-width="0.8"/>
<text transform="translate(16.90,631.54) rotate(-90) scale(1,1.04)" text-anchor="middle" class="t">5</text>
<line x1="19.90" x2="22.50" y1="578.46" y2="578.46" stroke="#bbb" stroke-width="0.8"/>
<text transform="translate(16.90,578.46) rotate(-90) scale(1,1.04)" text-anchor="middle" class="t">10</text>
<line x1="19.90" x2="22.50" y1="525.37" y2="525.37" stroke="#bbb" stroke-width="0.8"/>
<text transform="translate(16.90,525.37) rotate(-90) scale(1,1.04)" text-anchor="middle" class="t">15</text>
<line x1="29.72" x2="29.72" y1="691.00" y2="692.50" stroke="#ccc" stroke-width="0.8"/>
<text transform="translate(29.72,699.50) scale(1,1.04)" text-anchor="middle" class="t">0</text>
<line x1="65.83" x2="65.83" y1="691.00" y2="692.50" stroke="#ccc" stroke-width="0.8"/>
<text transform="translate(65.83,699.50) scale(1,1.04)" text-anchor="middle" class="t">20</text>
<line x1="101.94" x2="101.94" y1="691.00" y2="692.50" stroke="#ccc" stroke-width="0.8"/>
<text transform="translate(101.94,699.50) scale(1,1.04)" text-anchor="middle" class="t">40</text>
<line x1="138.06" x2="138.06" y1="691.00" y2="692.50" stroke="#ccc" stroke-width="0.8"/>
<text transform="translate(138.06,699.50) scale(1,1.04)" text-anchor="middle" class="t">60</text>
<line x1="174.17" x2="174.17" y1="691.00" y2="692.50" stroke="#ccc" stroke-width="0.8"/>
<text transform="translate(174.17,699.50) scale(1,1.04)" text-anchor="middle" class="t">80</text>
<line x1="210.28" x2="210.28" y1="691.00" y2="692.50" stroke="#ccc" stroke-width="0.8"/>
<text transform="translate(210.28,699.50) scale(1,1.04)" text-anchor="middle" class="t">100</text>
<text transform="translate(120.00,708.20) scale(1,1.04)" text-anchor="middle" class="t">x</text>
<text transform="translate(7.90,605.00) rotate(-90) scale(1,1.04)" text-anchor="middle" class="t" font-size="9.2px">H(x)</text>
<rect x="38.7" y="525.2" width="65.6" height="44.2" fill="#fff" stroke="#a0a0a0" stroke-width="0.9"/>
<line x1="45.60" x2="60.20" y1="534.00" y2="534.00" stroke="#8080ff" stroke-width="1"/>
<text y="536.60" class="lg"><tspan x="67.20" font-size="7.3px">λ</tspan><tspan x="73.80">=</tspan><tspan x="80.80">-</tspan><tspan x="85.40">1</tspan></text>
<line x1="45.60" x2="60.20" y1="542.85" y2="542.85" stroke="#ff8080" stroke-width="1"/>
<text y="545.45" class="lg"><tspan x="67.20" font-size="7.3px">λ</tspan><tspan x="73.80">=</tspan><tspan x="80.80">-</tspan><tspan x="85.40">0.2</tspan></text>
<line x1="45.60" x2="60.20" y1="551.70" y2="551.70" stroke="#80ff80" stroke-width="1"/>
<text y="554.30" class="lg"><tspan x="67.20" font-size="7.3px">λ</tspan><tspan x="73.80">=</tspan><tspan x="80.50">0.3</tspan></text>
<line x1="45.60" x2="60.20" y1="560.55" y2="560.55" stroke="#808080" stroke-width="1"/>
<text y="563.15" class="lg"><tspan x="67.20" font-size="7.3px">λ</tspan><tspan x="73.80">=</tspan><tspan x="82.40">1</tspan></text>
<text transform="translate(48.10,737.20) scale(1.1,1)" class="cap">(g)</text>
<text transform="translate(72.80,737.20) scale(1.08,1)" class="cap" font-style="italic">θ</text>
<text transform="translate(85.10,737.20) scale(1.45,1)" class="cap" stroke="#1a1a1a" stroke-width="0.25">=</text>
<text transform="translate(100.40,737.20) scale(1.1,1)" class="cap">0.1,</text>
<text transform="translate(131.30,737.20) scale(1.3,1)" class="cap" font-style="italic">μ</text>
<text transform="translate(145.90,737.20) scale(1.45,1)" class="cap" stroke="#1a1a1a" stroke-width="0.25">=</text>
<text transform="translate(161.00,737.20) scale(1.1,1)" class="cap">0</text>
<clipPath id="c21"><rect x="255.8" y="519.0" width="195.20" height="172.00"/></clipPath>
<g clip-path="url(#c21)" fill="none" stroke-width="0.9" stroke-linejoin="round">
<polyline points="263.0,684.6 263.8,684.6 264.5,684.6 265.3,684.6 266.1,684.5 266.8,684.5 267.6,684.4 268.3,684.4 269.1,684.3 269.8,684.2 270.6,684.1 271.3,684.0 272.1,683.9 272.9,683.7 273.6,683.6 274.4,683.4 275.1,683.3 275.9,683.1 276.6,682.9 277.4,682.7 278.2,682.6 278.9,682.4 279.7,682.1 280.4,681.9 281.2,681.7 281.9,681.5 282.7,681.2 283.4,681.0 284.2,680.8 285.0,680.5 285.7,680.3 286.5,680.0 287.2,679.7 288.0,679.5 288.7,679.2 289.5,678.9 290.3,678.6 291.0,678.3 291.8,678.0 292.5,677.7 293.3,677.4 294.0,677.1 294.8,676.8 295.5,676.5 296.3,676.2 297.1,675.9 297.8,675.6 298.6,675.2 299.3,674.9 300.1,674.6 300.8,674.3 301.6,673.9 302.4,673.6 303.1,673.3 303.9,672.9 304.6,672.6 305.4,672.2 306.1,671.9 306.9,671.5 307.6,671.2 308.4,670.9 309.2,670.5 309.9,670.1 310.7,669.8 311.4,669.4 312.2,669.1 312.9,668.7 313.7,668.4 314.5,668.0 315.2,667.6 316.0,667.3 316.7,666.9 317.5,666.5 318.2,666.2 319.0,665.8 319.7,665.4 320.5,665.1 321.3,664.7 322.0,664.3 322.8,663.9 323.5,663.6 324.3,663.2 325.0,662.8 325.8,662.4 326.6,662.1 327.3,661.7 328.1,661.3 328.8,660.9 329.6,660.5 330.3,660.1 331.1,659.8 331.8,659.4 332.6,659.0 333.4,658.6 334.1,658.2 334.9,657.8 335.6,657.5 336.4,657.1 337.1,656.7 337.9,656.3 338.7,655.9 339.4,655.5 340.2,655.1 340.9,654.7 341.7,654.3 342.4,653.9 343.2,653.6 343.9,653.2 344.7,652.8 345.5,652.4 346.2,652.0 347.0,651.6 347.7,651.2 348.5,650.8 349.2,650.4 350.0,650.0 350.8,649.6 351.5,649.2 352.3,648.8 353.0,648.4 353.8,648.0 354.5,647.6 355.3,647.2 356.0,646.8 356.8,646.4 357.6,646.0 358.3,645.6 359.1,645.2 359.8,644.8 360.6,644.4 361.3,644.0 362.1,643.6 362.9,643.2 363.6,642.8 364.4,642.4 365.1,642.0 365.9,641.6 366.6,641.2 367.4,640.8 368.1,640.4 368.9,640.0 369.7,639.6 370.4,639.2 371.2,638.8 371.9,638.4 372.7,637.9 373.4,637.5 374.2,637.1 375.0,636.7 375.7,636.3 376.5,635.9 377.2,635.5 378.0,635.1 378.7,634.7 379.5,634.3 380.2,633.9 381.0,633.5 381.8,633.1 382.5,632.6 383.3,632.2 384.0,631.8 384.8,631.4 385.5,631.0 386.3,630.6 387.1,630.2 387.8,629.8 388.6,629.4 389.3,629.0 390.1,628.5 390.8,628.1 391.6,627.7 392.3,627.3 393.1,626.9 393.9,626.5 394.6,626.1 395.4,625.7 396.1,625.2 396.9,624.8 397.6,624.4 398.4,624.0 399.2,623.6 399.9,623.2 400.7,622.8 401.4,622.4 402.2,621.9 402.9,621.5 403.7,621.1 404.4,620.7 405.2,620.3 406.0,619.9 406.7,619.5 407.5,619.0 408.2,618.6 409.0,618.2 409.7,617.8 410.5,617.4 411.3,617.0 412.0,616.5 412.8,616.1 413.5,615.7 414.3,615.3 415.0,614.9 415.8,614.5 416.5,614.0 417.3,613.6 418.1,613.2 418.8,612.8 419.6,612.4 420.3,612.0 421.1,611.5 421.8,611.1 422.6,610.7 423.4,610.3 424.1,609.9 424.9,609.5 425.6,609.0 426.4,608.6 427.1,608.2 427.9,607.8 428.6,607.4 429.4,606.9 430.2,606.5 430.9,606.1 431.7,605.7 432.4,605.3 433.2,604.8 433.9,604.4 434.7,604.0 435.5,603.6 436.2,603.2 437.0,602.7 437.7,602.3 438.5,601.9 439.2,601.5 440.0,601.1 440.7,600.6 441.5,600.2 442.3,599.8 443.0,599.4 443.8,599.0" stroke="#4848ff"/>
<polyline points="263.0,684.6 263.8,684.5 264.5,684.3 265.3,684.1 266.1,684.0 266.8,683.8 267.6,683.6 268.3,683.4 269.1,683.2 269.8,683.0 270.6,682.8 271.3,682.5 272.1,682.3 272.9,682.1 273.6,681.8 274.4,681.6 275.1,681.4 275.9,681.1 276.6,680.8 277.4,680.6 278.2,680.3 278.9,680.0 279.7,679.8 280.4,679.5 281.2,679.2 281.9,678.9 282.7,678.6 283.4,678.3 284.2,678.0 285.0,677.7 285.7,677.4 286.5,677.1 287.2,676.8 288.0,676.5 288.7,676.2 289.5,675.9 290.3,675.6 291.0,675.2 291.8,674.9 292.5,674.6 293.3,674.3 294.0,673.9 294.8,673.6 295.5,673.3 296.3,672.9 297.1,672.6 297.8,672.3 298.6,671.9 299.3,671.6 300.1,671.2 300.8,670.9 301.6,670.5 302.4,670.2 303.1,669.8 303.9,669.5 304.6,669.1 305.4,668.8 306.1,668.4 306.9,668.1 307.6,667.7 308.4,667.3 309.2,667.0 309.9,666.6 310.7,666.3 311.4,665.9 312.2,665.5 312.9,665.2 313.7,664.8 314.5,664.4 315.2,664.1 316.0,663.7 316.7,663.3 317.5,662.9 318.2,662.6 319.0,662.2 319.7,661.8 320.5,661.4 321.3,661.1 322.0,660.7 322.8,660.3 323.5,659.9 324.3,659.6 325.0,659.2 325.8,658.8 326.6,658.4 327.3,658.0 328.1,657.6 328.8,657.3 329.6,656.9 330.3,656.5 331.1,656.1 331.8,655.7 332.6,655.3 333.4,654.9 334.1,654.6 334.9,654.2 335.6,653.8 336.4,653.4 337.1,653.0 337.9,652.6 338.7,652.2 339.4,651.8 340.2,651.4 340.9,651.0 341.7,650.7 342.4,650.3 343.2,649.9 343.9,649.5 344.7,649.1 345.5,648.7 346.2,648.3 347.0,647.9 347.7,647.5 348.5,647.1 349.2,646.7 350.0,646.3 350.8,645.9 351.5,645.5 352.3,645.1 353.0,644.7 353.8,644.3 354.5,643.9 355.3,643.5 356.0,643.1 356.8,642.7 357.6,642.3 358.3,641.9 359.1,641.5 359.8,641.1 360.6,640.7 361.3,640.3 362.1,639.9 362.9,639.5 363.6,639.1 364.4,638.7 365.1,638.3 365.9,637.9 366.6,637.5 367.4,637.1 368.1,636.7 368.9,636.3 369.7,635.9 370.4,635.5 371.2,635.1 371.9,634.7 372.7,634.3 373.4,633.8 374.2,633.4 375.0,633.0 375.7,632.6 376.5,632.2 377.2,631.8 378.0,631.4 378.7,631.0 379.5,630.6 380.2,630.2 381.0,629.8 381.8,629.4 382.5,629.0 383.3,628.5 384.0,628.1 384.8,627.7 385.5,627.3 386.3,626.9 387.1,626.5 387.8,626.1 388.6,625.7 389.3,625.3 390.1,624.8 390.8,624.4 391.6,624.0 392.3,623.6 393.1,623.2 393.9,622.8 394.6,622.4 395.4,622.0 396.1,621.6 396.9,621.1 397.6,620.7 398.4,620.3 399.2,619.9 399.9,619.5 400.7,619.1 401.4,618.7 402.2,618.2 402.9,617.8 403.7,617.4 404.4,617.0 405.2,616.6 406.0,616.2 406.7,615.8 407.5,615.3 408.2,614.9 409.0,614.5 409.7,614.1 410.5,613.7 411.3,613.3 412.0,612.8 412.8,612.4 413.5,612.0 414.3,611.6 415.0,611.2 415.8,610.8 416.5,610.4 417.3,609.9 418.1,609.5 418.8,609.1 419.6,608.7 420.3,608.3 421.1,607.8 421.8,607.4 422.6,607.0 423.4,606.6 424.1,606.2 424.9,605.8 425.6,605.3 426.4,604.9 427.1,604.5 427.9,604.1 428.6,603.7 429.4,603.2 430.2,602.8 430.9,602.4 431.7,602.0 432.4,601.6 433.2,601.1 433.9,600.7 434.7,600.3 435.5,599.9 436.2,599.5 437.0,599.0 437.7,598.6 438.5,598.2 439.2,597.8 440.0,597.4 440.7,596.9 441.5,596.5 442.3,596.1 443.0,595.7 443.8,595.3" stroke="#ff4848"/>
<polyline points="263.0,684.6 263.8,684.4 264.5,684.1 265.3,683.9 266.1,683.6 266.8,683.3 267.6,683.0 268.3,682.7 269.1,682.4 269.8,682.1 270.6,681.8 271.3,681.5 272.1,681.2 272.9,680.8 273.6,680.5 274.4,680.2 275.1,679.8 275.9,679.5 276.6,679.1 277.4,678.8 278.2,678.5 278.9,678.1 279.7,677.8 280.4,677.4 281.2,677.0 281.9,676.7 282.7,676.3 283.4,676.0 284.2,675.6 285.0,675.3 285.7,674.9 286.5,674.5 287.2,674.2 288.0,673.8 288.7,673.4 289.5,673.1 290.3,672.7 291.0,672.3 291.8,672.0 292.5,671.6 293.3,671.2 294.0,670.9 294.8,670.5 295.5,670.1 296.3,669.8 297.1,669.4 297.8,669.0 298.6,668.6 299.3,668.3 300.1,667.9 300.8,667.5 301.6,667.2 302.4,666.8 303.1,666.4 303.9,666.0 304.6,665.7 305.4,665.3 306.1,664.9 306.9,664.5 307.6,664.2 308.4,663.8 309.2,663.4 309.9,663.0 310.7,662.6 311.4,662.3 312.2,661.9 312.9,661.5 313.7,661.1 314.5,660.7 315.2,660.4 316.0,660.0 316.7,659.6 317.5,659.2 318.2,658.8 319.0,658.5 319.7,658.1 320.5,657.7 321.3,657.3 322.0,656.9 322.8,656.5 323.5,656.1 324.3,655.8 325.0,655.4 325.8,655.0 326.6,654.6 327.3,654.2 328.1,653.8 328.8,653.4 329.6,653.1 330.3,652.7 331.1,652.3 331.8,651.9 332.6,651.5 333.4,651.1 334.1,650.7 334.9,650.3 335.6,649.9 336.4,649.5 337.1,649.1 337.9,648.8 338.7,648.4 339.4,648.0 340.2,647.6 340.9,647.2 341.7,646.8 342.4,646.4 343.2,646.0 343.9,645.6 344.7,645.2 345.5,644.8 346.2,644.4 347.0,644.0 347.7,643.6 348.5,643.2 349.2,642.8 350.0,642.4 350.8,642.0 351.5,641.6 352.3,641.2 353.0,640.8 353.8,640.4 354.5,640.0 355.3,639.6 356.0,639.2 356.8,638.8 357.6,638.4 358.3,638.0 359.1,637.6 359.8,637.2 360.6,636.8 361.3,636.4 362.1,636.0 362.9,635.6 363.6,635.2 364.4,634.8 365.1,634.4 365.9,634.0 366.6,633.6 367.4,633.2 368.1,632.8 368.9,632.4 369.7,632.0 370.4,631.6 371.2,631.2 371.9,630.8 372.7,630.4 373.4,629.9 374.2,629.5 375.0,629.1 375.7,628.7 376.5,628.3 377.2,627.9 378.0,627.5 378.7,627.1 379.5,626.7 380.2,626.3 381.0,625.9 381.8,625.5 382.5,625.1 383.3,624.6 384.0,624.2 384.8,623.8 385.5,623.4 386.3,623.0 387.1,622.6 387.8,622.2 388.6,621.8 389.3,621.4 390.1,620.9 390.8,620.5 391.6,620.1 392.3,619.7 393.1,619.3 393.9,618.9 394.6,618.5 395.4,618.1 396.1,617.7 396.9,617.2 397.6,616.8 398.4,616.4 399.2,616.0 399.9,615.6 400.7,615.2 401.4,614.8 402.2,614.3 402.9,613.9 403.7,613.5 404.4,613.1 405.2,612.7 406.0,612.3 406.7,611.9 407.5,611.4 408.2,611.0 409.0,610.6 409.7,610.2 410.5,609.8 411.3,609.4 412.0,608.9 412.8,608.5 413.5,608.1 414.3,607.7 415.0,607.3 415.8,606.9 416.5,606.4 417.3,606.0 418.1,605.6 418.8,605.2 419.6,604.8 420.3,604.4 421.1,603.9 421.8,603.5 422.6,603.1 423.4,602.7 424.1,602.3 424.9,601.9 425.6,601.4 426.4,601.0 427.1,600.6 427.9,600.2 428.6,599.8 429.4,599.3 430.2,598.9 430.9,598.5 431.7,598.1 432.4,597.7 433.2,597.2 433.9,596.8 434.7,596.4 435.5,596.0 436.2,595.6 437.0,595.1 437.7,594.7 438.5,594.3 439.2,593.9 440.0,593.5 440.7,593.0 441.5,592.6 442.3,592.2 443.0,591.8 443.8,591.4" stroke="#48ff48"/>
<polyline points="263.0,684.6 263.8,684.3 264.5,683.9 265.3,683.4 266.1,683.0 266.8,682.6 267.6,682.1 268.3,681.6 269.1,681.2 269.8,680.7 270.6,680.2 271.3,679.6 272.1,679.1 272.9,678.6 273.6,678.0 274.4,677.5 275.1,676.9 275.9,676.4 276.6,675.8 277.4,675.2 278.2,674.6 278.9,674.0 279.7,673.4 280.4,672.8 281.2,672.2 281.9,671.6 282.7,671.0 283.4,670.3 284.2,669.7 285.0,669.1 285.7,668.4 286.5,667.8 287.2,667.1 288.0,666.5 288.7,665.8 289.5,665.2 290.3,664.5 291.0,663.8 291.8,663.1 292.5,662.5 293.3,661.8 294.0,661.1 294.8,660.4 295.5,659.7 296.3,659.0 297.1,658.3 297.8,657.6 298.6,656.9 299.3,656.2 300.1,655.5 300.8,654.8 301.6,654.1 302.4,653.4 303.1,652.7 303.9,652.0 304.6,651.2 305.4,650.5 306.1,649.8 306.9,649.1 307.6,648.3 308.4,647.6 309.2,646.9 309.9,646.1 310.7,645.4 311.4,644.7 312.2,643.9 312.9,643.2 313.7,642.5 314.5,641.7 315.2,641.0 316.0,640.2 316.7,639.5 317.5,638.7 318.2,638.0 319.0,637.2 319.7,636.5 320.5,635.7 321.3,634.9 322.0,634.2 322.8,633.4 323.5,632.7 324.3,631.9 325.0,631.1 325.8,630.4 326.6,629.6 327.3,628.8 328.1,628.1 328.8,627.3 329.6,626.5 330.3,625.8 331.1,625.0 331.8,624.2 332.6,623.4 333.4,622.7 334.1,621.9 334.9,621.1 335.6,620.3 336.4,619.5 337.1,618.8 337.9,618.0 338.7,617.2 339.4,616.4 340.2,615.6 340.9,614.8 341.7,614.1 342.4,613.3 343.2,612.5 343.9,611.7 344.7,610.9 345.5,610.1 346.2,609.3 347.0,608.5 347.7,607.7 348.5,607.0 349.2,606.2 350.0,605.4 350.8,604.6 351.5,603.8 352.3,603.0 353.0,602.2 353.8,601.4 354.5,600.6 355.3,599.8 356.0,599.0 356.8,598.2 357.6,597.4 358.3,596.6 359.1,595.8 359.8,595.0 360.6,594.2 361.3,593.4 362.1,592.6 362.9,591.8 363.6,590.9 364.4,590.1 365.1,589.3 365.9,588.5 366.6,587.7 367.4,586.9 368.1,586.1 368.9,585.3 369.7,584.5 370.4,583.7 371.2,582.9 371.9,582.0 372.7,581.2 373.4,580.4 374.2,579.6 375.0,578.8 375.7,578.0 376.5,577.2 377.2,576.4 378.0,575.5 378.7,574.7 379.5,573.9 380.2,573.1 381.0,572.3 381.8,571.5 382.5,570.6 383.3,569.8 384.0,569.0 384.8,568.2 385.5,567.4 386.3,566.5 387.1,565.7 387.8,564.9 388.6,564.1 389.3,563.2 390.1,562.4 390.8,561.6 391.6,560.8 392.3,560.0 393.1,559.1 393.9,558.3 394.6,557.5 395.4,556.7 396.1,555.8 396.9,555.0 397.6,554.2 398.4,553.4 399.2,552.5 399.9,551.7 400.7,550.9 401.4,550.0 402.2,549.2 402.9,548.4 403.7,547.6 404.4,546.7 405.2,545.9 406.0,545.1 406.7,544.2 407.5,543.4 408.2,542.6 409.0,541.8 409.7,540.9 410.5,540.1 411.3,539.3 412.0,538.4 412.8,537.6 413.5,536.8 414.3,535.9 415.0,535.1 415.8,534.3 416.5,533.4 417.3,532.6 418.1,531.8 418.8,530.9 419.6,530.1 420.3,529.3 421.1,528.4 421.8,527.6 422.6,526.8 423.4,525.9 424.1,525.1 424.9,524.2 425.6,523.4 426.4,522.6 427.1,521.7 427.9,520.9 428.6,520.1 429.4,519.2 430.2,518.4 430.9,517.5 431.7,516.7 432.4,515.9 433.2,515.0 433.9,514.2 434.7,513.3 435.5,512.5 436.2,511.7 437.0,510.8 437.7,510.0 438.5,509.1 439.2,508.3 440.0,507.5 440.7,506.6 441.5,505.8 442.3,504.9 443.0,504.1 443.8,503.3" stroke="#404040"/>
</g>
<path d="M255.8,519.0H451.0" stroke="#bbb" stroke-width="1"/>
<path d="M255.8,691.0H451.0" stroke="#bbb" stroke-width="1"/>
<path d="M451.0,519.0V691.0" stroke="#aaa" stroke-width="1"/>
<path d="M255.8,519.0V691.0" stroke="#ececec" stroke-width="1"/>
<line x1="253.20" x2="255.80" y1="684.63" y2="684.63" stroke="#bbb" stroke-width="0.8"/>
<text transform="translate(250.20,684.63) rotate(-90) scale(1,1.04)" text-anchor="middle" class="t">0</text>
<line x1="253.20" x2="255.80" y1="648.43" y2="648.43" stroke="#bbb" stroke-width="0.8"/>
<text transform="translate(250.20,648.43) rotate(-90) scale(1,1.04)" text-anchor="middle" class="t">5</text>
<line x1="253.20" x2="255.80" y1="612.24" y2="612.24" stroke="#bbb" stroke-width="0.8"/>
<text transform="translate(250.20,612.24) rotate(-90) scale(1,1.04)" text-anchor="middle" class="t">10</text>
<line x1="253.20" x2="255.80" y1="576.04" y2="576.04" stroke="#bbb" stroke-width="0.8"/>
<text transform="translate(250.20,576.04) rotate(-90) scale(1,1.04)" text-anchor="middle" class="t">15</text>
<line x1="253.20" x2="255.80" y1="539.85" y2="539.85" stroke="#bbb" stroke-width="0.8"/>
<text transform="translate(250.20,539.85) rotate(-90) scale(1,1.04)" text-anchor="middle" class="t">20</text>
<line x1="260.59" x2="260.59" y1="691.00" y2="692.50" stroke="#ccc" stroke-width="0.8"/>
<text transform="translate(260.59,699.50) scale(1,1.04)" text-anchor="middle" class="t">0</text>
<line x1="291.12" x2="291.12" y1="691.00" y2="692.50" stroke="#ccc" stroke-width="0.8"/>
<text transform="translate(291.12,699.50) scale(1,1.04)" text-anchor="middle" class="t">5</text>
<line x1="321.65" x2="321.65" y1="691.00" y2="692.50" stroke="#ccc" stroke-width="0.8"/>
<text transform="translate(321.65,699.50) scale(1,1.04)" text-anchor="middle" class="t">10</text>
<line x1="352.18" x2="352.18" y1="691.00" y2="692.50" stroke="#ccc" stroke-width="0.8"/>
<text transform="translate(352.18,699.50) scale(1,1.04)" text-anchor="middle" class="t">15</text>
<line x1="382.71" x2="382.71" y1="691.00" y2="692.50" stroke="#ccc" stroke-width="0.8"/>
<text transform="translate(382.71,699.50) scale(1,1.04)" text-anchor="middle" class="t">20</text>
<line x1="413.24" x2="413.24" y1="691.00" y2="692.50" stroke="#ccc" stroke-width="0.8"/>
<text transform="translate(413.24,699.50) scale(1,1.04)" text-anchor="middle" class="t">25</text>
<line x1="443.77" x2="443.77" y1="691.00" y2="692.50" stroke="#ccc" stroke-width="0.8"/>
<text transform="translate(443.77,699.50) scale(1,1.04)" text-anchor="middle" class="t">30</text>
<text transform="translate(353.40,708.20) scale(1,1.04)" text-anchor="middle" class="t">x</text>
<text transform="translate(241.20,605.00) rotate(-90) scale(1,1.04)" text-anchor="middle" class="t" font-size="9.2px">H(x)</text>
<rect x="266.9" y="525.5" width="65.6" height="44.2" fill="#fff" stroke="#a0a0a0" stroke-width="0.9"/>
<line x1="273.80" x2="288.40" y1="534.30" y2="534.30" stroke="#8080ff" stroke-width="1"/>
<text y="536.90" class="lg"><tspan x="295.40" font-size="7.3px">λ</tspan><tspan x="302.00">=</tspan><tspan x="309.00">-</tspan><tspan x="313.60">1</tspan></text>
<line x1="273.80" x2="288.40" y1="543.15" y2="543.15" stroke="#ff8080" stroke-width="1"/>
<text y="545.75" class="lg"><tspan x="295.40" font-size="7.3px">λ</tspan><tspan x="302.00">=</tspan><tspan x="309.00">-</tspan><tspan x="313.60">0.2</tspan></text>
<line x1="273.80" x2="288.40" y1="552.00" y2="552.00" stroke="#80ff80" stroke-width="1"/>
<text y="554.60" class="lg"><tspan x="295.40" font-size="7.3px">λ</tspan><tspan x="302.00">=</tspan><tspan x="308.70">0.3</tspan></text>
<line x1="273.80" x2="288.40" y1="560.85" y2="560.85" stroke="#808080" stroke-width="1"/>
<text y="563.45" class="lg"><tspan x="295.40" font-size="7.3px">λ</tspan><tspan x="302.00">=</tspan><tspan x="310.60">1</tspan></text>
<text transform="translate(275.30,737.20) scale(1.1,1)" class="cap">(h)</text>
<text transform="translate(300.40,737.20) scale(1.08,1)" class="cap" font-style="italic">θ</text>
<text transform="translate(313.10,737.20) scale(1.45,1)" class="cap" stroke="#1a1a1a" stroke-width="0.25">=</text>
<text transform="translate(328.50,737.20) scale(1.1,1)" class="cap">0.5,</text>
<text transform="translate(359.90,737.20) scale(1.3,1)" class="cap" font-style="italic">μ</text>
<text transform="translate(373.80,737.20) scale(1.45,1)" class="cap" stroke="#1a1a1a" stroke-width="0.25">=</text>
<text transform="translate(389.00,737.20) scale(1.1,1)" class="cap">0.4</text>
<clipPath id="c22"><rect x="490.1" y="519.0" width="194.40" height="172.00"/></clipPath>
<g clip-path="url(#c22)" fill="none" stroke-width="0.9" stroke-linejoin="round">
<polyline points="497.3,684.6 498.1,684.6 498.8,684.6 499.6,684.6 500.3,684.5 501.1,684.5 501.8,684.4 502.6,684.3 503.3,684.3 504.1,684.2 504.8,684.1 505.6,684.0 506.3,683.8 507.1,683.7 507.8,683.6 508.6,683.4 509.4,683.3 510.1,683.2 510.9,683.0 511.6,682.8 512.4,682.7 513.1,682.5 513.9,682.3 514.6,682.1 515.4,682.0 516.1,681.8 516.9,681.6 517.6,681.4 518.4,681.2 519.1,681.0 519.9,680.8 520.6,680.6 521.4,680.3 522.2,680.1 522.9,679.9 523.7,679.7 524.4,679.4 525.2,679.2 525.9,679.0 526.7,678.7 527.4,678.5 528.2,678.3 528.9,678.0 529.7,677.8 530.4,677.5 531.2,677.3 531.9,677.0 532.7,676.7 533.5,676.5 534.2,676.2 535.0,676.0 535.7,675.7 536.5,675.4 537.2,675.2 538.0,674.9 538.7,674.6 539.5,674.3 540.2,674.1 541.0,673.8 541.7,673.5 542.5,673.2 543.2,673.0 544.0,672.7 544.7,672.4 545.5,672.1 546.3,671.8 547.0,671.5 547.8,671.2 548.5,670.9 549.3,670.7 550.0,670.4 550.8,670.1 551.5,669.8 552.3,669.5 553.0,669.2 553.8,668.9 554.5,668.6 555.3,668.3 556.0,668.0 556.8,667.7 557.6,667.4 558.3,667.1 559.1,666.8 559.8,666.5 560.6,666.2 561.3,665.8 562.1,665.5 562.8,665.2 563.6,664.9 564.3,664.6 565.1,664.3 565.8,664.0 566.6,663.7 567.3,663.4 568.1,663.0 568.8,662.7 569.6,662.4 570.4,662.1 571.1,661.8 571.9,661.5 572.6,661.1 573.4,660.8 574.1,660.5 574.9,660.2 575.6,659.9 576.4,659.5 577.1,659.2 577.9,658.9 578.6,658.6 579.4,658.3 580.1,657.9 580.9,657.6 581.7,657.3 582.4,657.0 583.2,656.6 583.9,656.3 584.7,656.0 585.4,655.7 586.2,655.3 586.9,655.0 587.7,654.7 588.4,654.4 589.2,654.0 589.9,653.7 590.7,653.4 591.4,653.0 592.2,652.7 592.9,652.4 593.7,652.1 594.5,651.7 595.2,651.4 596.0,651.1 596.7,650.7 597.5,650.4 598.2,650.1 599.0,649.7 599.7,649.4 600.5,649.1 601.2,648.7 602.0,648.4 602.7,648.1 603.5,647.7 604.2,647.4 605.0,647.1 605.8,646.7 606.5,646.4 607.3,646.1 608.0,645.7 608.8,645.4 609.5,645.1 610.3,644.7 611.0,644.4 611.8,644.0 612.5,643.7 613.3,643.4 614.0,643.0 614.8,642.7 615.5,642.4 616.3,642.0 617.0,641.7 617.8,641.3 618.6,641.0 619.3,640.7 620.1,640.3 620.8,640.0 621.6,639.6 622.3,639.3 623.1,639.0 623.8,638.6 624.6,638.3 625.3,637.9 626.1,637.6 626.8,637.3 627.6,636.9 628.3,636.6 629.1,636.2 629.9,635.9 630.6,635.5 631.4,635.2 632.1,634.9 632.9,634.5 633.6,634.2 634.4,633.8 635.1,633.5 635.9,633.1 636.6,632.8 637.4,632.5 638.1,632.1 638.9,631.8 639.6,631.4 640.4,631.1 641.1,630.7 641.9,630.4 642.7,630.1 643.4,629.7 644.2,629.4 644.9,629.0 645.7,628.7 646.4,628.3 647.2,628.0 647.9,627.6 648.7,627.3 649.4,626.9 650.2,626.6 650.9,626.3 651.7,625.9 652.4,625.6 653.2,625.2 654.0,624.9 654.7,624.5 655.5,624.2 656.2,623.8 657.0,623.5 657.7,623.1 658.5,622.8 659.2,622.4 660.0,622.1 660.7,621.7 661.5,621.4 662.2,621.0 663.0,620.7 663.7,620.4 664.5,620.0 665.2,619.7 666.0,619.3 666.8,619.0 667.5,618.6 668.3,618.3 669.0,617.9 669.8,617.6 670.5,617.2 671.3,616.9 672.0,616.5 672.8,616.2 673.5,615.8 674.3,615.5 675.0,615.1 675.8,614.8 676.5,614.4 677.3,614.1" stroke="#4848ff"/>
<polyline points="497.3,684.6 498.1,684.4 498.8,684.2 499.6,684.0 500.3,683.7 501.1,683.5 501.8,683.3 502.6,683.1 503.3,682.8 504.1,682.6 504.8,682.4 505.6,682.1 506.3,681.9 507.1,681.6 507.8,681.4 508.6,681.1 509.4,680.9 510.1,680.6 510.9,680.4 511.6,680.1 512.4,679.9 513.1,679.6 513.9,679.3 514.6,679.1 515.4,678.8 516.1,678.6 516.9,678.3 517.6,678.0 518.4,677.8 519.1,677.5 519.9,677.2 520.6,676.9 521.4,676.7 522.2,676.4 522.9,676.1 523.7,675.8 524.4,675.5 525.2,675.3 525.9,675.0 526.7,674.7 527.4,674.4 528.2,674.1 528.9,673.8 529.7,673.6 530.4,673.3 531.2,673.0 531.9,672.7 532.7,672.4 533.5,672.1 534.2,671.8 535.0,671.5 535.7,671.2 536.5,670.9 537.2,670.6 538.0,670.3 538.7,670.0 539.5,669.7 540.2,669.4 541.0,669.1 541.7,668.8 542.5,668.5 543.2,668.2 544.0,667.9 544.7,667.6 545.5,667.3 546.3,667.0 547.0,666.7 547.8,666.4 548.5,666.1 549.3,665.8 550.0,665.5 550.8,665.1 551.5,664.8 552.3,664.5 553.0,664.2 553.8,663.9 554.5,663.6 555.3,663.3 556.0,663.0 556.8,662.6 557.6,662.3 558.3,662.0 559.1,661.7 559.8,661.4 560.6,661.1 561.3,660.7 562.1,660.4 562.8,660.1 563.6,659.8 564.3,659.5 565.1,659.1 565.8,658.8 566.6,658.5 567.3,658.2 568.1,657.9 568.8,657.5 569.6,657.2 570.4,656.9 571.1,656.6 571.9,656.2 572.6,655.9 573.4,655.6 574.1,655.3 574.9,655.0 575.6,654.6 576.4,654.3 577.1,654.0 577.9,653.6 578.6,653.3 579.4,653.0 580.1,652.7 580.9,652.3 581.7,652.0 582.4,651.7 583.2,651.4 583.9,651.0 584.7,650.7 585.4,650.4 586.2,650.0 586.9,649.7 587.7,649.4 588.4,649.0 589.2,648.7 589.9,648.4 590.7,648.0 591.4,647.7 592.2,647.4 592.9,647.0 593.7,646.7 594.5,646.4 595.2,646.0 596.0,645.7 596.7,645.4 597.5,645.0 598.2,644.7 599.0,644.4 599.7,644.0 600.5,643.7 601.2,643.4 602.0,643.0 602.7,642.7 603.5,642.4 604.2,642.0 605.0,641.7 605.8,641.4 606.5,641.0 607.3,640.7 608.0,640.3 608.8,640.0 609.5,639.7 610.3,639.3 611.0,639.0 611.8,638.7 612.5,638.3 613.3,638.0 614.0,637.6 614.8,637.3 615.5,637.0 616.3,636.6 617.0,636.3 617.8,635.9 618.6,635.6 619.3,635.3 620.1,634.9 620.8,634.6 621.6,634.2 622.3,633.9 623.1,633.6 623.8,633.2 624.6,632.9 625.3,632.5 626.1,632.2 626.8,631.9 627.6,631.5 628.3,631.2 629.1,630.8 629.9,630.5 630.6,630.1 631.4,629.8 632.1,629.5 632.9,629.1 633.6,628.8 634.4,628.4 635.1,628.1 635.9,627.7 636.6,627.4 637.4,627.1 638.1,626.7 638.9,626.4 639.6,626.0 640.4,625.7 641.1,625.3 641.9,625.0 642.7,624.6 643.4,624.3 644.2,623.9 644.9,623.6 645.7,623.3 646.4,622.9 647.2,622.6 647.9,622.2 648.7,621.9 649.4,621.5 650.2,621.2 650.9,620.8 651.7,620.5 652.4,620.1 653.2,619.8 654.0,619.5 654.7,619.1 655.5,618.8 656.2,618.4 657.0,618.1 657.7,617.7 658.5,617.4 659.2,617.0 660.0,616.7 660.7,616.3 661.5,616.0 662.2,615.6 663.0,615.3 663.7,614.9 664.5,614.6 665.2,614.2 666.0,613.9 666.8,613.5 667.5,613.2 668.3,612.8 669.0,612.5 669.8,612.1 670.5,611.8 671.3,611.4 672.0,611.1 672.8,610.7 673.5,610.4 674.3,610.0 675.0,609.7 675.8,609.3 676.5,609.0 677.3,608.6" stroke="#ff4848"/>
<polyline points="497.3,684.6 498.1,684.3 498.8,683.9 499.6,683.6 500.3,683.2 501.1,682.9 501.8,682.5 502.6,682.2 503.3,681.8 504.1,681.5 504.8,681.1 505.6,680.8 506.3,680.4 507.1,680.1 507.8,679.7 508.6,679.4 509.4,679.0 510.1,678.7 510.9,678.3 511.6,678.0 512.4,677.6 513.1,677.3 513.9,676.9 514.6,676.6 515.4,676.2 516.1,675.9 516.9,675.6 517.6,675.2 518.4,674.9 519.1,674.5 519.9,674.2 520.6,673.8 521.4,673.5 522.2,673.1 522.9,672.8 523.7,672.5 524.4,672.1 525.2,671.8 525.9,671.4 526.7,671.1 527.4,670.7 528.2,670.4 528.9,670.1 529.7,669.7 530.4,669.4 531.2,669.0 531.9,668.7 532.7,668.4 533.5,668.0 534.2,667.7 535.0,667.3 535.7,667.0 536.5,666.7 537.2,666.3 538.0,666.0 538.7,665.7 539.5,665.3 540.2,665.0 541.0,664.6 541.7,664.3 542.5,664.0 543.2,663.6 544.0,663.3 544.7,663.0 545.5,662.6 546.3,662.3 547.0,661.9 547.8,661.6 548.5,661.3 549.3,660.9 550.0,660.6 550.8,660.3 551.5,659.9 552.3,659.6 553.0,659.3 553.8,658.9 554.5,658.6 555.3,658.3 556.0,657.9 556.8,657.6 557.6,657.3 558.3,656.9 559.1,656.6 559.8,656.2 560.6,655.9 561.3,655.6 562.1,655.2 562.8,654.9 563.6,654.6 564.3,654.2 565.1,653.9 565.8,653.6 566.6,653.2 567.3,652.9 568.1,652.6 568.8,652.2 569.6,651.9 570.4,651.6 571.1,651.2 571.9,650.9 572.6,650.6 573.4,650.2 574.1,649.9 574.9,649.6 575.6,649.2 576.4,648.9 577.1,648.5 577.9,648.2 578.6,647.9 579.4,647.5 580.1,647.2 580.9,646.9 581.7,646.5 582.4,646.2 583.2,645.9 583.9,645.5 584.7,645.2 585.4,644.8 586.2,644.5 586.9,644.2 587.7,643.8 588.4,643.5 589.2,643.2 589.9,642.8 590.7,642.5 591.4,642.2 592.2,641.8 592.9,641.5 593.7,641.1 594.5,640.8 595.2,640.5 596.0,640.1 596.7,639.8 597.5,639.5 598.2,639.1 599.0,638.8 599.7,638.4 600.5,638.1 601.2,637.8 602.0,637.4 602.7,637.1 603.5,636.7 604.2,636.4 605.0,636.1 605.8,635.7 606.5,635.4 607.3,635.0 608.0,634.7 608.8,634.4 609.5,634.0 610.3,633.7 611.0,633.3 611.8,633.0 612.5,632.7 613.3,632.3 614.0,632.0 614.8,631.6 615.5,631.3 616.3,631.0 617.0,630.6 617.8,630.3 618.6,629.9 619.3,629.6 620.1,629.2 620.8,628.9 621.6,628.6 622.3,628.2 623.1,627.9 623.8,627.5 624.6,627.2 625.3,626.9 626.1,626.5 626.8,626.2 627.6,625.8 628.3,625.5 629.1,625.1 629.9,624.8 630.6,624.4 631.4,624.1 632.1,623.8 632.9,623.4 633.6,623.1 634.4,622.7 635.1,622.4 635.9,622.0 636.6,621.7 637.4,621.4 638.1,621.0 638.9,620.7 639.6,620.3 640.4,620.0 641.1,619.6 641.9,619.3 642.7,618.9 643.4,618.6 644.2,618.2 644.9,617.9 645.7,617.6 646.4,617.2 647.2,616.9 647.9,616.5 648.7,616.2 649.4,615.8 650.2,615.5 650.9,615.1 651.7,614.8 652.4,614.4 653.2,614.1 654.0,613.7 654.7,613.4 655.5,613.0 656.2,612.7 657.0,612.3 657.7,612.0 658.5,611.7 659.2,611.3 660.0,611.0 660.7,610.6 661.5,610.3 662.2,609.9 663.0,609.6 663.7,609.2 664.5,608.9 665.2,608.5 666.0,608.2 666.8,607.8 667.5,607.5 668.3,607.1 669.0,606.8 669.8,606.4 670.5,606.1 671.3,605.7 672.0,605.4 672.8,605.0 673.5,604.7 674.3,604.3 675.0,604.0 675.8,603.6 676.5,603.3 677.3,602.9" stroke="#48ff48"/>
<polyline points="497.3,684.6 498.1,684.1 498.8,683.5 499.6,683.0 500.3,682.5 501.1,681.9 501.8,681.4 502.6,680.8 503.3,680.2 504.1,679.7 504.8,679.1 505.6,678.6 506.3,678.0 507.1,677.4 507.8,676.9 508.6,676.3 509.4,675.7 510.1,675.2 510.9,674.6 511.6,674.0 512.4,673.4 513.1,672.8 513.9,672.3 514.6,671.7 515.4,671.1 516.1,670.5 516.9,669.9 517.6,669.3 518.4,668.7 519.1,668.2 519.9,667.6 520.6,667.0 521.4,666.4 522.2,665.8 522.9,665.2 523.7,664.6 524.4,664.0 525.2,663.4 525.9,662.8 526.7,662.2 527.4,661.6 528.2,661.0 528.9,660.3 529.7,659.7 530.4,659.1 531.2,658.5 531.9,657.9 532.7,657.3 533.5,656.7 534.2,656.1 535.0,655.4 535.7,654.8 536.5,654.2 537.2,653.6 538.0,653.0 538.7,652.3 539.5,651.7 540.2,651.1 541.0,650.5 541.7,649.9 542.5,649.2 543.2,648.6 544.0,648.0 544.7,647.3 545.5,646.7 546.3,646.1 547.0,645.4 547.8,644.8 548.5,644.2 549.3,643.5 550.0,642.9 550.8,642.3 551.5,641.6 552.3,641.0 553.0,640.4 553.8,639.7 554.5,639.1 555.3,638.5 556.0,637.8 556.8,637.2 557.6,636.5 558.3,635.9 559.1,635.2 559.8,634.6 560.6,634.0 561.3,633.3 562.1,632.7 562.8,632.0 563.6,631.4 564.3,630.7 565.1,630.1 565.8,629.4 566.6,628.8 567.3,628.1 568.1,627.5 568.8,626.8 569.6,626.2 570.4,625.5 571.1,624.9 571.9,624.2 572.6,623.5 573.4,622.9 574.1,622.2 574.9,621.6 575.6,620.9 576.4,620.3 577.1,619.6 577.9,619.0 578.6,618.3 579.4,617.6 580.1,617.0 580.9,616.3 581.7,615.7 582.4,615.0 583.2,614.3 583.9,613.7 584.7,613.0 585.4,612.3 586.2,611.7 586.9,611.0 587.7,610.3 588.4,609.7 589.2,609.0 589.9,608.3 590.7,607.7 591.4,607.0 592.2,606.3 592.9,605.7 593.7,605.0 594.5,604.3 595.2,603.7 596.0,603.0 596.7,602.3 597.5,601.7 598.2,601.0 599.0,600.3 599.7,599.6 600.5,599.0 601.2,598.3 602.0,597.6 602.7,597.0 603.5,596.3 604.2,595.6 605.0,594.9 605.8,594.3 606.5,593.6 607.3,592.9 608.0,592.2 608.8,591.6 609.5,590.9 610.3,590.2 611.0,589.5 611.8,588.8 612.5,588.2 613.3,587.5 614.0,586.8 614.8,586.1 615.5,585.5 616.3,584.8 617.0,584.1 617.8,583.4 618.6,582.7 619.3,582.1 620.1,581.4 620.8,580.7 621.6,580.0 622.3,579.3 623.1,578.6 623.8,578.0 624.6,577.3 625.3,576.6 626.1,575.9 626.8,575.2 627.6,574.5 628.3,573.9 629.1,573.2 629.9,572.5 630.6,571.8 631.4,571.1 632.1,570.4 632.9,569.7 633.6,569.1 634.4,568.4 635.1,567.7 635.9,567.0 636.6,566.3 637.4,565.6 638.1,564.9 638.9,564.2 639.6,563.5 640.4,562.9 641.1,562.2 641.9,561.5 642.7,560.8 643.4,560.1 644.2,559.4 644.9,558.7 645.7,558.0 646.4,557.3 647.2,556.6 647.9,556.0 648.7,555.3 649.4,554.6 650.2,553.9 650.9,553.2 651.7,552.5 652.4,551.8 653.2,551.1 654.0,550.4 654.7,549.7 655.5,549.0 656.2,548.3 657.0,547.6 657.7,546.9 658.5,546.2 659.2,545.5 660.0,544.8 660.7,544.2 661.5,543.5 662.2,542.8 663.0,542.1 663.7,541.4 664.5,540.7 665.2,540.0 666.0,539.3 666.8,538.6 667.5,537.9 668.3,537.2 669.0,536.5 669.8,535.8 670.5,535.1 671.3,534.4 672.0,533.7 672.8,533.0 673.5,532.3 674.3,531.6 675.0,530.9 675.8,530.2 676.5,529.5 677.3,528.8" stroke="#404040"/>
</g>
<path d="M490.1,519.0H684.5" stroke="#bbb" stroke-width="1"/>
<path d="M490.1,691.0H684.5" stroke="#bbb" stroke-width="1"/>
<path d="M684.5,519.0V691.0" stroke="#aaa" stroke-width="1"/>
<path d="M490.1,519.0V691.0" stroke="#b0b0b0" stroke-width="1"/>
<line x1="487.50" x2="490.10" y1="684.63" y2="684.63" stroke="#bbb" stroke-width="0.8"/>
<text transform="translate(484.50,684.63) rotate(-90) scale(1,1.04)" text-anchor="middle" class="t">0</text>
<line x1="487.50" x2="490.10" y1="631.54" y2="631.54" stroke="#bbb" stroke-width="0.8"/>
<text transform="translate(484.50,631.54) rotate(-90) scale(1,1.04)" text-anchor="middle" class="t">5</text>
<line x1="487.50" x2="490.10" y1="578.46" y2="578.46" stroke="#bbb" stroke-width="0.8"/>
<text transform="translate(484.50,578.46) rotate(-90) scale(1,1.04)" text-anchor="middle" class="t">10</text>
<line x1="487.50" x2="490.10" y1="525.37" y2="525.37" stroke="#bbb" stroke-width="0.8"/>
<text transform="translate(484.50,525.37) rotate(-90) scale(1,1.04)" text-anchor="middle" class="t">15</text>
<line x1="509.86" x2="509.86" y1="691.00" y2="692.50" stroke="#ccc" stroke-width="0.8"/>
<text transform="translate(509.86,699.50) scale(1,1.04)" text-anchor="middle" class="t">2</text>
<line x1="551.72" x2="551.72" y1="691.00" y2="692.50" stroke="#ccc" stroke-width="0.8"/>
<text transform="translate(551.72,699.50) scale(1,1.04)" text-anchor="middle" class="t">4</text>
<line x1="593.58" x2="593.58" y1="691.00" y2="692.50" stroke="#ccc" stroke-width="0.8"/>
<text transform="translate(593.58,699.50) scale(1,1.04)" text-anchor="middle" class="t">6</text>
<line x1="635.44" x2="635.44" y1="691.00" y2="692.50" stroke="#ccc" stroke-width="0.8"/>
<text transform="translate(635.44,699.50) scale(1,1.04)" text-anchor="middle" class="t">8</text>
<line x1="677.30" x2="677.30" y1="691.00" y2="692.50" stroke="#ccc" stroke-width="0.8"/>
<text transform="translate(677.30,699.50) scale(1,1.04)" text-anchor="middle" class="t">10</text>
<text transform="translate(587.30,708.20) scale(1,1.04)" text-anchor="middle" class="t">x</text>
<text transform="translate(475.50,605.00) rotate(-90) scale(1,1.04)" text-anchor="middle" class="t" font-size="9.2px">H(x)</text>
<rect x="499.0" y="525.2" width="65.6" height="44.2" fill="#fff" stroke="#a0a0a0" stroke-width="0.9"/>
<line x1="505.90" x2="520.50" y1="534.00" y2="534.00" stroke="#8080ff" stroke-width="1"/>
<text y="536.60" class="lg"><tspan x="527.50" font-size="7.3px">λ</tspan><tspan x="534.10">=</tspan><tspan x="541.10">-</tspan><tspan x="545.70">1</tspan></text>
<line x1="505.90" x2="520.50" y1="542.85" y2="542.85" stroke="#ff8080" stroke-width="1"/>
<text y="545.45" class="lg"><tspan x="527.50" font-size="7.3px">λ</tspan><tspan x="534.10">=</tspan><tspan x="541.10">-</tspan><tspan x="545.70">0.2</tspan></text>
<line x1="505.90" x2="520.50" y1="551.70" y2="551.70" stroke="#80ff80" stroke-width="1"/>
<text y="554.30" class="lg"><tspan x="527.50" font-size="7.3px">λ</tspan><tspan x="534.10">=</tspan><tspan x="540.80">0.3</tspan></text>
<line x1="505.90" x2="520.50" y1="560.55" y2="560.55" stroke="#808080" stroke-width="1"/>
<text y="563.15" class="lg"><tspan x="527.50" font-size="7.3px">λ</tspan><tspan x="534.10">=</tspan><tspan x="542.70">1</tspan></text>
<text transform="translate(515.80,737.20) scale(1.1,1)" class="cap">(i)</text>
<text transform="translate(539.60,737.20) scale(1.08,1)" class="cap" font-style="italic">θ</text>
<text transform="translate(551.80,737.20) scale(1.45,1)" class="cap" stroke="#1a1a1a" stroke-width="0.25">=</text>
<text transform="translate(568.60,737.20) scale(1.1,1)" class="cap">1,</text>
<text transform="translate(586.60,737.20) scale(1.3,1)" class="cap" font-style="italic">μ</text>
<text transform="translate(600.80,737.20) scale(1.45,1)" class="cap" stroke="#1a1a1a" stroke-width="0.25">=</text>
<text transform="translate(616.40,737.20) scale(1.1,1)" class="cap">1.4</text>
</svg>
</body></html>
